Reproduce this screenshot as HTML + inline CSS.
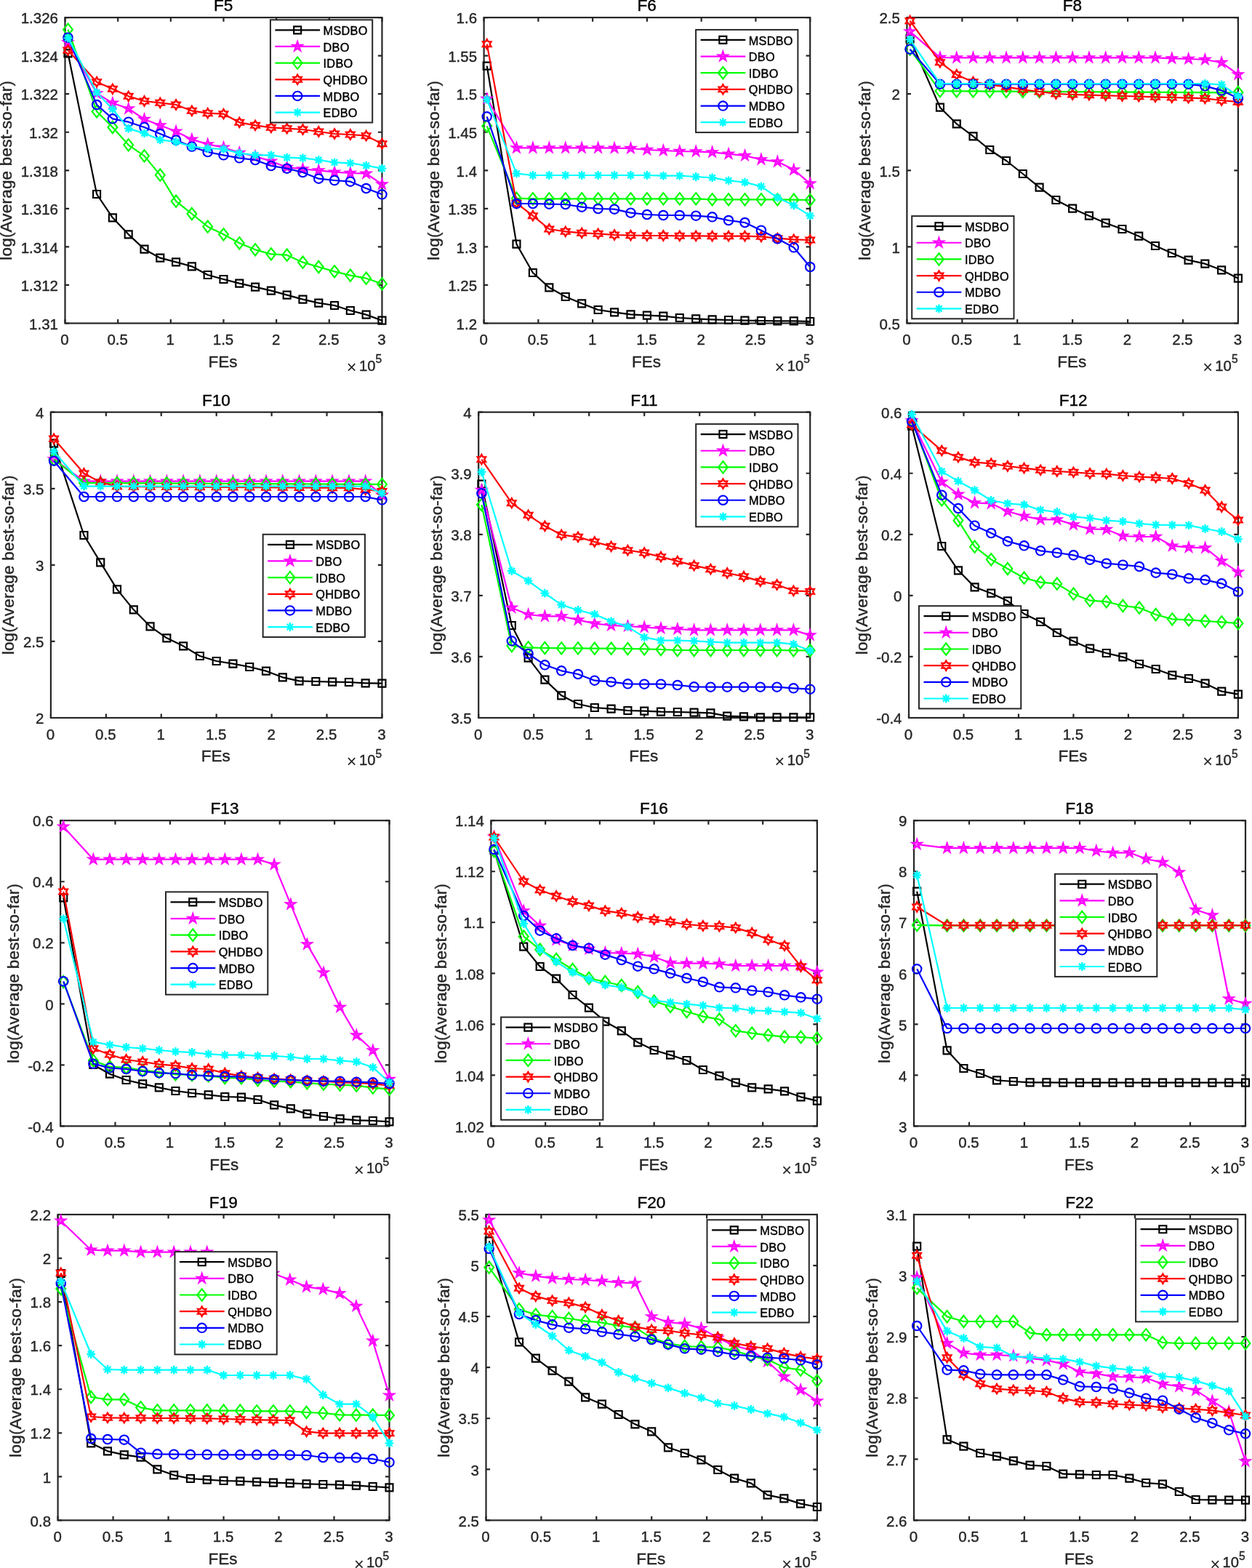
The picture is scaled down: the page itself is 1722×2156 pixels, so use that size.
<!DOCTYPE html>
<html lang="en">
<head>
<meta charset="utf-8">
<title>Convergence curves</title>
<style>
html,body{margin:0;padding:0;background:#fff;}
body{width:1722px;height:2156px;overflow:hidden;}
svg{display:block;font-family:"Liberation Sans",sans-serif;}
text{stroke-linejoin:round;}
</style>
</head>
<body>
<svg width="1722" height="2156" viewBox="0 0 1722 2156">
<rect width="1722" height="2156" fill="#fff"/>
<g>
<rect x="89.5" y="24.1" width="435.95" height="420.4" fill="#fff" stroke="#262626" stroke-width="2.2"/>
<path d="M89.5 444.5v-5.6M89.5 24.1v5.6M162.16 444.5v-5.6M162.16 24.1v5.6M234.82 444.5v-5.6M234.82 24.1v5.6M307.48 444.5v-5.6M307.48 24.1v5.6M380.13 444.5v-5.6M380.13 24.1v5.6M452.79 444.5v-5.6M452.79 24.1v5.6M525.45 444.5v-5.6M525.45 24.1v5.6M89.5 444.5h5.6M525.45 444.5h-5.6M89.5 391.95h5.6M525.45 391.95h-5.6M89.5 339.4h5.6M525.45 339.4h-5.6M89.5 286.85h5.6M525.45 286.85h-5.6M89.5 234.3h5.6M525.45 234.3h-5.6M89.5 181.75h5.6M525.45 181.75h-5.6M89.5 129.2h5.6M525.45 129.2h-5.6M89.5 76.65h5.6M525.45 76.65h-5.6M89.5 24.1h5.6M525.45 24.1h-5.6" stroke="#262626" stroke-width="2.2" fill="none"/>
<g fill="#262626" stroke="#262626" stroke-width="0.4">
<g font-size="20.5" text-anchor="middle">
<text transform="translate(89 474.3) scale(1 1.03)">0</text>
<text transform="translate(161.66 474.3) scale(1 1.03)">0.5</text>
<text transform="translate(234.32 474.3) scale(1 1.03)">1</text>
<text transform="translate(306.98 474.3) scale(1 1.03)">1.5</text>
<text transform="translate(379.63 474.3) scale(1 1.03)">2</text>
<text transform="translate(452.29 474.3) scale(1 1.03)">2.5</text>
<text transform="translate(524.95 474.3) scale(1 1.03)">3</text>
</g>
<g font-size="20.5" text-anchor="end">
<text transform="translate(80 452.7) scale(1 1.03)">1.31</text>
<text transform="translate(80 400.15) scale(1 1.03)">1.312</text>
<text transform="translate(80 347.6) scale(1 1.03)">1.314</text>
<text transform="translate(80 295.05) scale(1 1.03)">1.316</text>
<text transform="translate(80 242.5) scale(1 1.03)">1.318</text>
<text transform="translate(80 189.95) scale(1 1.03)">1.32</text>
<text transform="translate(80 137.4) scale(1 1.03)">1.322</text>
<text transform="translate(80 84.85) scale(1 1.03)">1.324</text>
<text transform="translate(80 32.3) scale(1 1.03)">1.326</text>
</g>
<text x="476.85" y="512.9" font-size="23.5" stroke="none">×</text>
<text x="525.15" y="509.5" font-size="20.3" text-anchor="end">10<tspan dy="-10.3" font-size="15.6">5</tspan></text>
<text transform="translate(306.48 504.7) scale(1 1.015)" font-size="22.5" text-anchor="middle">FEs</text>
<text transform="translate(16.21 234.3) rotate(-90) scale(1 1.015)" font-size="22.5" text-anchor="middle" letter-spacing="0.2">log(Average best-so-far)</text>
</g>
<text transform="translate(307.18 14.9) scale(1 1.0)" font-size="22.6" fill="#000" stroke="#000" stroke-width="0.4" text-anchor="middle">F5</text>
<g fill="none">
<g stroke="#000000">
<polyline points="93.5,73.33 133.09,267 154.89,299.33 176.69,322.33 198.49,342.67 220.28,354.67 242.08,360.33 263.88,366.33 285.68,378 307.48,384 329.27,389.67 351.07,394.67 372.87,399.67 394.66,405.67 416.46,411.67 438.26,416.67 460.06,420 481.86,427 503.65,432.67 525.45,440.67" stroke-width="2.2" stroke-linejoin="round"/>
<path d="M88.5 68.33h10v10h-10zM128.09 262h10v10h-10zM149.89 294.33h10v10h-10zM171.69 317.33h10v10h-10zM193.49 337.67h10v10h-10zM215.28 349.67h10v10h-10zM237.08 355.33h10v10h-10zM258.88 361.33h10v10h-10zM280.68 373h10v10h-10zM302.48 379h10v10h-10zM324.27 384.67h10v10h-10zM346.07 389.67h10v10h-10zM367.87 394.67h10v10h-10zM389.66 400.67h10v10h-10zM411.46 406.67h10v10h-10zM433.26 411.67h10v10h-10zM455.06 415h10v10h-10zM476.86 422h10v10h-10zM498.65 427.67h10v10h-10zM520.45 435.67h10v10h-10z" stroke-width="2.15"/>
</g>
<g stroke="#ff00ff">
<polyline points="93.5,58.33 133.09,128.33 154.89,141.67 176.69,149.33 198.49,164 220.28,172.33 242.08,180.67 263.88,191.67 285.68,198.33 307.48,202.67 329.27,210 351.07,215 372.87,221.67 394.66,230 416.46,232.33 438.26,234.33 460.06,236.67 481.86,238 503.65,238.67 525.45,253.33" stroke-width="2.2" stroke-linejoin="round"/>
<path d="M93.5 51.53L95.02 56.23L99.96 56.23L95.97 59.14L97.49 63.83L93.5 60.93L89.5 63.83L91.03 59.14L87.03 56.23L91.97 56.23zM133.09 121.53L134.62 126.23L139.56 126.23L135.57 129.14L137.09 133.83L133.09 130.93L129.1 133.83L130.62 129.14L126.63 126.23L131.57 126.23zM154.89 134.87L156.42 139.57L161.36 139.57L157.36 142.47L158.89 147.17L154.89 144.26L150.9 147.17L152.42 142.47L148.43 139.57L153.37 139.57zM176.69 142.53L178.22 147.23L183.16 147.23L179.16 150.14L180.69 154.83L176.69 151.93L172.69 154.83L174.22 150.14L170.22 147.23L175.16 147.23zM198.49 157.2L200.01 161.9L204.95 161.9L200.96 164.8L202.48 169.5L198.49 166.6L194.49 169.5L196.02 164.8L192.02 161.9L196.96 161.9zM220.28 165.53L221.81 170.23L226.75 170.23L222.76 173.14L224.28 177.83L220.28 174.93L216.29 177.83L217.81 173.14L213.82 170.23L218.76 170.23zM242.08 173.87L243.61 178.57L248.55 178.57L244.55 181.47L246.08 186.17L242.08 183.26L238.09 186.17L239.61 181.47L235.62 178.57L240.56 178.57zM263.88 184.87L265.41 189.57L270.35 189.57L266.35 192.47L267.88 197.17L263.88 194.26L259.88 197.17L261.41 192.47L257.41 189.57L262.35 189.57zM285.68 191.53L287.2 196.23L292.14 196.23L288.15 199.14L289.67 203.83L285.68 200.93L281.68 203.83L283.21 199.14L279.21 196.23L284.15 196.23zM307.48 195.87L309 200.57L313.94 200.57L309.95 203.47L311.47 208.17L307.48 205.26L303.48 208.17L305 203.47L301.01 200.57L305.95 200.57zM329.27 203.2L330.8 207.9L335.74 207.9L331.74 210.8L333.27 215.5L329.27 212.6L325.28 215.5L326.8 210.8L322.81 207.9L327.75 207.9zM351.07 208.2L352.6 212.9L357.54 212.9L353.54 215.8L355.07 220.5L351.07 217.6L347.07 220.5L348.6 215.8L344.6 212.9L349.54 212.9zM372.87 214.87L374.39 219.57L379.33 219.57L375.34 222.47L376.86 227.17L372.87 224.26L368.87 227.17L370.4 222.47L366.4 219.57L371.34 219.57zM394.66 223.2L396.19 227.9L401.13 227.9L397.14 230.8L398.66 235.5L394.66 232.6L390.67 235.5L392.19 230.8L388.2 227.9L393.14 227.9zM416.46 225.53L417.99 230.23L422.93 230.23L418.93 233.14L420.46 237.83L416.46 234.93L412.47 237.83L413.99 233.14L410 230.23L414.94 230.23zM438.26 227.53L439.79 232.23L444.73 232.23L440.73 235.14L442.26 239.83L438.26 236.93L434.26 239.83L435.79 235.14L431.79 232.23L436.73 232.23zM460.06 229.87L461.58 234.57L466.52 234.57L462.53 237.47L464.05 242.17L460.06 239.26L456.06 242.17L457.59 237.47L453.59 234.57L458.53 234.57zM481.86 231.2L483.38 235.9L488.32 235.9L484.33 238.8L485.85 243.5L481.86 240.6L477.86 243.5L479.38 238.8L475.39 235.9L480.33 235.9zM503.65 231.87L505.18 236.57L510.12 236.57L506.12 239.47L507.65 244.17L503.65 241.26L499.66 244.17L501.18 239.47L497.19 236.57L502.13 236.57zM525.45 246.53L526.98 251.23L531.92 251.23L527.92 254.14L529.45 258.83L525.45 255.93L521.45 258.83L522.98 254.14L518.98 251.23L523.92 251.23z" stroke-width="2.15" fill="#ff00ff" fill-opacity="0.5"/>
</g>
<g stroke="#00ff00">
<polyline points="93.5,40.67 133.09,153.33 154.89,175 176.69,199.33 198.49,214.33 220.28,240.67 242.08,276.67 263.88,294 285.68,311.67 307.48,322.33 329.27,334.33 351.07,343.33 372.87,349.33 394.66,350.67 416.46,360.67 438.26,367 460.06,373.33 481.86,378.67 503.65,382.67 525.45,390.33" stroke-width="2.2" stroke-linejoin="round"/>
<path d="M93.5 32.47L99.9 40.67L93.5 48.87L87.1 40.67zM133.09 145.13L139.5 153.33L133.09 161.53L126.69 153.33zM154.89 166.8L161.29 175L154.89 183.2L148.49 175zM176.69 191.13L183.09 199.33L176.69 207.53L170.29 199.33zM198.49 206.13L204.89 214.33L198.49 222.53L192.09 214.33zM220.28 232.47L226.69 240.67L220.28 248.87L213.88 240.67zM242.08 268.47L248.48 276.67L242.08 284.87L235.68 276.67zM263.88 285.8L270.28 294L263.88 302.2L257.48 294zM285.68 303.47L292.08 311.67L285.68 319.87L279.28 311.67zM307.48 314.13L313.88 322.33L307.48 330.53L301.08 322.33zM329.27 326.13L335.67 334.33L329.27 342.53L322.87 334.33zM351.07 335.13L357.47 343.33L351.07 351.53L344.67 343.33zM372.87 341.13L379.27 349.33L372.87 357.53L366.47 349.33zM394.66 342.47L401.06 350.67L394.66 358.87L388.26 350.67zM416.46 352.47L422.86 360.67L416.46 368.87L410.06 360.67zM438.26 358.8L444.66 367L438.26 375.2L431.86 367zM460.06 365.13L466.46 373.33L460.06 381.53L453.66 373.33zM481.86 370.47L488.25 378.67L481.86 386.87L475.46 378.67zM503.65 374.47L510.05 382.67L503.65 390.87L497.25 382.67zM525.45 382.13L531.85 390.33L525.45 398.53L519.05 390.33z" stroke-width="2.15"/>
</g>
<g stroke="#ff0000">
<polyline points="93.5,69 133.09,112.67 154.89,122.33 176.69,132.33 198.49,139 220.28,141.33 242.08,144 263.88,152.33 285.68,155.67 307.48,156.67 329.27,168.33 351.07,172.33 372.87,175.33 394.66,176.67 416.46,178 438.26,181 460.06,184 481.86,185 503.65,186.67 525.45,197.67" stroke-width="2.2" stroke-linejoin="round"/>
<path d="M93.5 62.4L95.4 65.7L99.21 65.7L97.31 69L99.21 72.3L95.4 72.3L93.5 75.6L91.59 72.3L87.78 72.3L89.69 69L87.78 65.7L91.59 65.7zM133.09 106.07L135 109.37L138.81 109.37L136.91 112.67L138.81 115.97L135 115.97L133.09 119.27L131.19 115.97L127.38 115.97L129.28 112.67L127.38 109.37L131.19 109.37zM154.89 115.73L156.8 119.03L160.61 119.03L158.7 122.33L160.61 125.63L156.8 125.63L154.89 128.93L152.99 125.63L149.18 125.63L151.08 122.33L149.18 119.03L152.99 119.03zM176.69 125.73L178.6 129.03L182.41 129.03L180.5 132.33L182.41 135.63L178.6 135.63L176.69 138.93L174.78 135.63L170.97 135.63L172.88 132.33L170.97 129.03L174.78 129.03zM198.49 132.4L200.39 135.7L204.2 135.7L202.3 139L204.2 142.3L200.39 142.3L198.49 145.6L196.58 142.3L192.77 142.3L194.68 139L192.77 135.7L196.58 135.7zM220.28 134.73L222.19 138.03L226 138.03L224.1 141.33L226 144.63L222.19 144.63L220.28 147.93L218.38 144.63L214.57 144.63L216.47 141.33L214.57 138.03L218.38 138.03zM242.08 137.4L243.99 140.7L247.8 140.7L245.89 144L247.8 147.3L243.99 147.3L242.08 150.6L240.18 147.3L236.37 147.3L238.27 144L236.37 140.7L240.18 140.7zM263.88 145.73L265.79 149.03L269.6 149.03L267.69 152.33L269.6 155.63L265.79 155.63L263.88 158.93L261.97 155.63L258.16 155.63L260.07 152.33L258.16 149.03L261.97 149.03zM285.68 149.07L287.58 152.37L291.39 152.37L289.49 155.67L291.39 158.97L287.58 158.97L285.68 162.27L283.77 158.97L279.96 158.97L281.87 155.67L279.96 152.37L283.77 152.37zM307.48 150.07L309.38 153.37L313.19 153.37L311.29 156.67L313.19 159.97L309.38 159.97L307.48 163.27L305.57 159.97L301.76 159.97L303.66 156.67L301.76 153.37L305.57 153.37zM329.27 161.73L331.18 165.03L334.99 165.03L333.08 168.33L334.99 171.63L331.18 171.63L329.27 174.93L327.37 171.63L323.56 171.63L325.46 168.33L323.56 165.03L327.37 165.03zM351.07 165.73L352.98 169.03L356.79 169.03L354.88 172.33L356.79 175.63L352.98 175.63L351.07 178.93L349.16 175.63L345.35 175.63L347.26 172.33L345.35 169.03L349.16 169.03zM372.87 168.73L374.77 172.03L378.58 172.03L376.68 175.33L378.58 178.63L374.77 178.63L372.87 181.93L370.96 178.63L367.15 178.63L369.06 175.33L367.15 172.03L370.96 172.03zM394.66 170.07L396.57 173.37L400.38 173.37L398.48 176.67L400.38 179.97L396.57 179.97L394.66 183.27L392.76 179.97L388.95 179.97L390.85 176.67L388.95 173.37L392.76 173.37zM416.46 171.4L418.37 174.7L422.18 174.7L420.27 178L422.18 181.3L418.37 181.3L416.46 184.6L414.56 181.3L410.75 181.3L412.65 178L410.75 174.7L414.56 174.7zM438.26 174.4L440.17 177.7L443.98 177.7L442.07 181L443.98 184.3L440.17 184.3L438.26 187.6L436.35 184.3L432.54 184.3L434.45 181L432.54 177.7L436.35 177.7zM460.06 177.4L461.96 180.7L465.77 180.7L463.87 184L465.77 187.3L461.96 187.3L460.06 190.6L458.15 187.3L454.34 187.3L456.25 184L454.34 180.7L458.15 180.7zM481.86 178.4L483.76 181.7L487.57 181.7L485.67 185L487.57 188.3L483.76 188.3L481.86 191.6L479.95 188.3L476.14 188.3L478.04 185L476.14 181.7L479.95 181.7zM503.65 180.07L505.56 183.37L509.37 183.37L507.46 186.67L509.37 189.97L505.56 189.97L503.65 193.27L501.75 189.97L497.94 189.97L499.84 186.67L497.94 183.37L501.75 183.37zM525.45 191.07L527.36 194.37L531.17 194.37L529.26 197.67L531.17 200.97L527.36 200.97L525.45 204.27L523.54 200.97L519.73 200.97L521.64 197.67L519.73 194.37L523.54 194.37z" stroke-width="2.35"/>
</g>
<g stroke="#0000ff">
<polyline points="93.5,51.67 133.09,144 154.89,163.33 176.69,167.67 198.49,175 220.28,184 242.08,192.67 263.88,201.67 285.68,209 307.48,213.33 329.27,217.33 351.07,220 372.87,228 394.66,231.67 416.46,237 438.26,245.67 460.06,248 481.86,249.67 503.65,259 525.45,267.33" stroke-width="2.2" stroke-linejoin="round"/>
<path d="M87.3 51.67a6.2 6.2 0 1 0 12.4 0a6.2 6.2 0 1 0 -12.4 0zM126.89 144a6.2 6.2 0 1 0 12.4 0a6.2 6.2 0 1 0 -12.4 0zM148.69 163.33a6.2 6.2 0 1 0 12.4 0a6.2 6.2 0 1 0 -12.4 0zM170.49 167.67a6.2 6.2 0 1 0 12.4 0a6.2 6.2 0 1 0 -12.4 0zM192.29 175a6.2 6.2 0 1 0 12.4 0a6.2 6.2 0 1 0 -12.4 0zM214.09 184a6.2 6.2 0 1 0 12.4 0a6.2 6.2 0 1 0 -12.4 0zM235.88 192.67a6.2 6.2 0 1 0 12.4 0a6.2 6.2 0 1 0 -12.4 0zM257.68 201.67a6.2 6.2 0 1 0 12.4 0a6.2 6.2 0 1 0 -12.4 0zM279.48 209a6.2 6.2 0 1 0 12.4 0a6.2 6.2 0 1 0 -12.4 0zM301.28 213.33a6.2 6.2 0 1 0 12.4 0a6.2 6.2 0 1 0 -12.4 0zM323.07 217.33a6.2 6.2 0 1 0 12.4 0a6.2 6.2 0 1 0 -12.4 0zM344.87 220a6.2 6.2 0 1 0 12.4 0a6.2 6.2 0 1 0 -12.4 0zM366.67 228a6.2 6.2 0 1 0 12.4 0a6.2 6.2 0 1 0 -12.4 0zM388.46 231.67a6.2 6.2 0 1 0 12.4 0a6.2 6.2 0 1 0 -12.4 0zM410.26 237a6.2 6.2 0 1 0 12.4 0a6.2 6.2 0 1 0 -12.4 0zM432.06 245.67a6.2 6.2 0 1 0 12.4 0a6.2 6.2 0 1 0 -12.4 0zM453.86 248a6.2 6.2 0 1 0 12.4 0a6.2 6.2 0 1 0 -12.4 0zM475.66 249.67a6.2 6.2 0 1 0 12.4 0a6.2 6.2 0 1 0 -12.4 0zM497.45 259a6.2 6.2 0 1 0 12.4 0a6.2 6.2 0 1 0 -12.4 0zM519.25 267.33a6.2 6.2 0 1 0 12.4 0a6.2 6.2 0 1 0 -12.4 0z" stroke-width="2.15"/>
</g>
<g stroke="#00ffff">
<polyline points="93.5,52.33 133.09,127.33 154.89,150 176.69,176.67 198.49,183.33 220.28,192.33 242.08,195 263.88,201.67 285.68,204 307.48,205 329.27,210.67 351.07,213.33 372.87,213.33 394.66,216.67 416.46,217.33 438.26,220 460.06,223.33 481.86,224.33 503.65,227.67 525.45,231.67" stroke-width="2.2" stroke-linejoin="round"/>
<path d="M93.5 46.43v11.8M87.6 52.33h11.8M89.32 48.16l8.34 8.34M89.32 56.51l8.34 -8.34M133.09 121.43v11.8M127.19 127.33h11.8M128.92 123.16l8.34 8.34M128.92 131.51l8.34 -8.34M154.89 144.1v11.8M148.99 150h11.8M150.72 145.83l8.34 8.34M150.72 154.17l8.34 -8.34M176.69 170.77v11.8M170.79 176.67h11.8M172.52 172.49l8.34 8.34M172.52 180.84l8.34 -8.34M198.49 177.43v11.8M192.59 183.33h11.8M194.32 179.16l8.34 8.34M194.32 187.51l8.34 -8.34M220.28 186.43v11.8M214.38 192.33h11.8M216.11 188.16l8.34 8.34M216.11 196.51l8.34 -8.34M242.08 189.1v11.8M236.18 195h11.8M237.91 190.83l8.34 8.34M237.91 199.17l8.34 -8.34M263.88 195.77v11.8M257.98 201.67h11.8M259.71 197.49l8.34 8.34M259.71 205.84l8.34 -8.34M285.68 198.1v11.8M279.78 204h11.8M281.51 199.83l8.34 8.34M281.51 208.17l8.34 -8.34M307.48 199.1v11.8M301.58 205h11.8M303.3 200.83l8.34 8.34M303.3 209.17l8.34 -8.34M329.27 204.77v11.8M323.37 210.67h11.8M325.1 206.49l8.34 8.34M325.1 214.84l8.34 -8.34M351.07 207.43v11.8M345.17 213.33h11.8M346.9 209.16l8.34 8.34M346.9 217.51l8.34 -8.34M372.87 207.43v11.8M366.97 213.33h11.8M368.7 209.16l8.34 8.34M368.7 217.51l8.34 -8.34M394.66 210.77v11.8M388.76 216.67h11.8M390.49 212.49l8.34 8.34M390.49 220.84l8.34 -8.34M416.46 211.43v11.8M410.56 217.33h11.8M412.29 213.16l8.34 8.34M412.29 221.51l8.34 -8.34M438.26 214.1v11.8M432.36 220h11.8M434.09 215.83l8.34 8.34M434.09 224.17l8.34 -8.34M460.06 217.43v11.8M454.16 223.33h11.8M455.89 219.16l8.34 8.34M455.89 227.51l8.34 -8.34M481.86 218.43v11.8M475.96 224.33h11.8M477.68 220.16l8.34 8.34M477.68 228.51l8.34 -8.34M503.65 221.77v11.8M497.75 227.67h11.8M499.48 223.49l8.34 8.34M499.48 231.84l8.34 -8.34M525.45 225.77v11.8M519.55 231.67h11.8M521.28 227.49l8.34 8.34M521.28 235.84l8.34 -8.34" stroke-width="2.4"/>
</g>
</g>
<rect x="371.9" y="27.3" width="140.3" height="141.2" fill="#fff" stroke="#262626" stroke-width="2.0"/>
<g font-size="16.3" fill="#000" stroke="#000" stroke-width="0.4" letter-spacing="0.25">
<g stroke="#000000" fill="none"><path d="M378.4 41.3H440.1" stroke-width="2.2"/><path d="M404.15 36.3h10v10h-10z" stroke-width="2.15"/></g>
<text x="444.6" y="47.9">MSDBO</text>
<g stroke="#ff00ff" fill="none"><path d="M378.4 63.96H440.1" stroke-width="2.2"/><path d="M409.15 57.16L410.68 61.86L415.62 61.86L411.62 64.76L413.15 69.46L409.15 66.56L405.15 69.46L406.68 64.76L402.68 61.86L407.62 61.86z" stroke-width="2.15" fill="#ff00ff" fill-opacity="0.5"/></g>
<text x="444.6" y="70.56">DBO</text>
<g stroke="#00ff00" fill="none"><path d="M378.4 86.62H440.1" stroke-width="2.2"/><path d="M409.15 78.42L415.55 86.62L409.15 94.82L402.75 86.62z" stroke-width="2.15"/></g>
<text x="444.6" y="93.22">IDBO</text>
<g stroke="#ff0000" fill="none"><path d="M378.4 109.28H440.1" stroke-width="2.2"/><path d="M409.15 102.68L411.06 105.98L414.87 105.98L412.96 109.28L414.87 112.58L411.06 112.58L409.15 115.88L407.24 112.58L403.43 112.58L405.34 109.28L403.43 105.98L407.24 105.98z" stroke-width="2.35"/></g>
<text x="444.6" y="115.88">QHDBO</text>
<g stroke="#0000ff" fill="none"><path d="M378.4 131.94H440.1" stroke-width="2.2"/><path d="M402.95 131.94a6.2 6.2 0 1 0 12.4 0a6.2 6.2 0 1 0 -12.4 0z" stroke-width="2.15"/></g>
<text x="444.6" y="138.54">MDBO</text>
<g stroke="#00ffff" fill="none"><path d="M378.4 154.6H440.1" stroke-width="2.2"/><path d="M409.15 148.7v11.8M403.25 154.6h11.8M404.98 150.43l8.34 8.34M404.98 158.77l8.34 -8.34" stroke-width="2.4"/></g>
<text x="444.6" y="161.2">EDBO</text>
</g>
</g>
<g>
<rect x="665.6" y="24.1" width="448.6" height="420.4" fill="#fff" stroke="#262626" stroke-width="2.2"/>
<path d="M665.6 444.5v-5.6M665.6 24.1v5.6M740.37 444.5v-5.6M740.37 24.1v5.6M815.13 444.5v-5.6M815.13 24.1v5.6M889.9 444.5v-5.6M889.9 24.1v5.6M964.67 444.5v-5.6M964.67 24.1v5.6M1039.43 444.5v-5.6M1039.43 24.1v5.6M1114.2 444.5v-5.6M1114.2 24.1v5.6M665.6 444.5h5.6M1114.2 444.5h-5.6M665.6 391.95h5.6M1114.2 391.95h-5.6M665.6 339.4h5.6M1114.2 339.4h-5.6M665.6 286.85h5.6M1114.2 286.85h-5.6M665.6 234.3h5.6M1114.2 234.3h-5.6M665.6 181.75h5.6M1114.2 181.75h-5.6M665.6 129.2h5.6M1114.2 129.2h-5.6M665.6 76.65h5.6M1114.2 76.65h-5.6M665.6 24.1h5.6M1114.2 24.1h-5.6" stroke="#262626" stroke-width="2.2" fill="none"/>
<g fill="#262626" stroke="#262626" stroke-width="0.4">
<g font-size="20.5" text-anchor="middle">
<text transform="translate(665.1 474.3) scale(1 1.03)">0</text>
<text transform="translate(739.87 474.3) scale(1 1.03)">0.5</text>
<text transform="translate(814.63 474.3) scale(1 1.03)">1</text>
<text transform="translate(889.4 474.3) scale(1 1.03)">1.5</text>
<text transform="translate(964.17 474.3) scale(1 1.03)">2</text>
<text transform="translate(1038.93 474.3) scale(1 1.03)">2.5</text>
<text transform="translate(1113.7 474.3) scale(1 1.03)">3</text>
</g>
<g font-size="20.5" text-anchor="end">
<text transform="translate(656.1 452.7) scale(1 1.03)">1.2</text>
<text transform="translate(656.1 400.15) scale(1 1.03)">1.25</text>
<text transform="translate(656.1 347.6) scale(1 1.03)">1.3</text>
<text transform="translate(656.1 295.05) scale(1 1.03)">1.35</text>
<text transform="translate(656.1 242.5) scale(1 1.03)">1.4</text>
<text transform="translate(656.1 189.95) scale(1 1.03)">1.45</text>
<text transform="translate(656.1 137.4) scale(1 1.03)">1.5</text>
<text transform="translate(656.1 84.85) scale(1 1.03)">1.55</text>
<text transform="translate(656.1 32.3) scale(1 1.03)">1.6</text>
</g>
<text x="1065.6" y="512.9" font-size="23.5" stroke="none">×</text>
<text x="1113.9" y="509.5" font-size="20.3" text-anchor="end">10<tspan dy="-10.3" font-size="15.6">5</tspan></text>
<text transform="translate(888.9 504.7) scale(1 1.015)" font-size="22.5" text-anchor="middle">FEs</text>
<text transform="translate(603.71 234.3) rotate(-90) scale(1 1.015)" font-size="22.5" text-anchor="middle" letter-spacing="0.2">log(Average best-so-far)</text>
</g>
<text transform="translate(889.6 14.9) scale(1 1.0)" font-size="22.6" fill="#000" stroke="#000" stroke-width="0.4" text-anchor="middle">F6</text>
<g fill="none">
<g stroke="#000000">
<polyline points="669.71,90.67 710.46,335.67 732.89,375 755.32,395.33 777.75,408 800.18,417.33 822.61,426 845.04,429.33 867.47,432.33 889.9,433.67 912.33,434.67 934.76,437 957.19,438.33 979.62,439.33 1002.05,440 1024.48,440.67 1046.91,441 1069.34,441.33 1091.77,441.33 1114.2,442" stroke-width="2.2" stroke-linejoin="round"/>
<path d="M664.71 85.67h10v10h-10zM705.46 330.67h10v10h-10zM727.89 370h10v10h-10zM750.32 390.33h10v10h-10zM772.75 403h10v10h-10zM795.18 412.33h10v10h-10zM817.61 421h10v10h-10zM840.04 424.33h10v10h-10zM862.47 427.33h10v10h-10zM884.9 428.67h10v10h-10zM907.33 429.67h10v10h-10zM929.76 432h10v10h-10zM952.19 433.33h10v10h-10zM974.62 434.33h10v10h-10zM997.05 435h10v10h-10zM1019.48 435.67h10v10h-10zM1041.91 436h10v10h-10zM1064.34 436.33h10v10h-10zM1086.77 436.33h10v10h-10zM1109.2 437h10v10h-10z" stroke-width="2.15"/>
</g>
<g stroke="#ff00ff">
<polyline points="669.71,136 710.46,203.33 732.89,203.33 755.32,203.33 777.75,203.33 800.18,203.33 822.61,203.33 845.04,203.67 867.47,204 889.9,206 912.33,207 934.76,208 957.19,208.33 979.62,209.33 1002.05,211.67 1024.48,214 1046.91,219.33 1069.34,222.33 1091.77,233.33 1114.2,252.33" stroke-width="2.2" stroke-linejoin="round"/>
<path d="M669.71 129.2L671.24 133.9L676.18 133.9L672.18 136.8L673.71 141.5L669.71 138.6L665.72 141.5L667.24 136.8L663.24 133.9L668.19 133.9zM710.46 196.53L711.99 201.23L716.93 201.23L712.93 204.14L714.46 208.83L710.46 205.93L706.46 208.83L707.99 204.14L703.99 201.23L708.93 201.23zM732.89 196.53L734.42 201.23L739.36 201.23L735.36 204.14L736.89 208.83L732.89 205.93L728.89 208.83L730.42 204.14L726.42 201.23L731.36 201.23zM755.32 196.53L756.85 201.23L761.79 201.23L757.79 204.14L759.32 208.83L755.32 205.93L751.32 208.83L752.85 204.14L748.85 201.23L753.79 201.23zM777.75 196.53L779.28 201.23L784.22 201.23L780.22 204.14L781.75 208.83L777.75 205.93L773.75 208.83L775.28 204.14L771.28 201.23L776.22 201.23zM800.18 196.53L801.71 201.23L806.65 201.23L802.65 204.14L804.18 208.83L800.18 205.93L796.18 208.83L797.71 204.14L793.71 201.23L798.65 201.23zM822.61 196.53L824.14 201.23L829.08 201.23L825.08 204.14L826.61 208.83L822.61 205.93L818.61 208.83L820.14 204.14L816.14 201.23L821.08 201.23zM845.04 196.87L846.57 201.57L851.51 201.57L847.51 204.47L849.04 209.17L845.04 206.26L841.04 209.17L842.57 204.47L838.57 201.57L843.51 201.57zM867.47 197.2L869 201.9L873.94 201.9L869.94 204.8L871.47 209.5L867.47 206.6L863.47 209.5L865 204.8L861 201.9L865.94 201.9zM889.9 199.2L891.43 203.9L896.37 203.9L892.37 206.8L893.9 211.5L889.9 208.6L885.9 211.5L887.43 206.8L883.43 203.9L888.37 203.9zM912.33 200.2L913.86 204.9L918.8 204.9L914.8 207.8L916.33 212.5L912.33 209.6L908.33 212.5L909.86 207.8L905.86 204.9L910.8 204.9zM934.76 201.2L936.29 205.9L941.23 205.9L937.23 208.8L938.76 213.5L934.76 210.6L930.76 213.5L932.29 208.8L928.29 205.9L933.23 205.9zM957.19 201.53L958.72 206.23L963.66 206.23L959.66 209.14L961.19 213.83L957.19 210.93L953.19 213.83L954.72 209.14L950.72 206.23L955.66 206.23zM979.62 202.53L981.15 207.23L986.09 207.23L982.09 210.14L983.62 214.83L979.62 211.93L975.62 214.83L977.15 210.14L973.15 207.23L978.09 207.23zM1002.05 204.87L1003.58 209.57L1008.52 209.57L1004.52 212.47L1006.05 217.17L1002.05 214.26L998.05 217.17L999.58 212.47L995.58 209.57L1000.52 209.57zM1024.48 207.2L1026.01 211.9L1030.95 211.9L1026.95 214.8L1028.48 219.5L1024.48 216.6L1020.48 219.5L1022.01 214.8L1018.01 211.9L1022.95 211.9zM1046.91 212.53L1048.44 217.23L1053.38 217.23L1049.38 220.14L1050.91 224.83L1046.91 221.93L1042.91 224.83L1044.44 220.14L1040.44 217.23L1045.38 217.23zM1069.34 215.53L1070.87 220.23L1075.81 220.23L1071.81 223.14L1073.34 227.83L1069.34 224.93L1065.34 227.83L1066.87 223.14L1062.87 220.23L1067.81 220.23zM1091.77 226.53L1093.3 231.23L1098.24 231.23L1094.24 234.14L1095.77 238.83L1091.77 235.93L1087.77 238.83L1089.3 234.14L1085.3 231.23L1090.24 231.23zM1114.2 245.53L1115.73 250.23L1120.67 250.23L1116.67 253.14L1118.2 257.83L1114.2 254.93L1110.2 257.83L1111.73 253.14L1107.73 250.23L1112.67 250.23z" stroke-width="2.15" fill="#ff00ff" fill-opacity="0.5"/>
</g>
<g stroke="#00ff00">
<polyline points="669.71,173.33 710.46,272.67 732.89,273.33 755.32,273.33 777.75,273.33 800.18,273.33 822.61,273.33 845.04,273.33 867.47,273.33 889.9,273.33 912.33,273.33 934.76,273.33 957.19,273.33 979.62,274.33 1002.05,274.33 1024.48,274.33 1046.91,274.33 1069.34,274.33 1091.77,274.67 1114.2,275" stroke-width="2.2" stroke-linejoin="round"/>
<path d="M669.71 165.13L676.11 173.33L669.71 181.53L663.31 173.33zM710.46 264.47L716.86 272.67L710.46 280.87L704.06 272.67zM732.89 265.13L739.29 273.33L732.89 281.53L726.49 273.33zM755.32 265.13L761.72 273.33L755.32 281.53L748.92 273.33zM777.75 265.13L784.15 273.33L777.75 281.53L771.35 273.33zM800.18 265.13L806.58 273.33L800.18 281.53L793.78 273.33zM822.61 265.13L829.01 273.33L822.61 281.53L816.21 273.33zM845.04 265.13L851.44 273.33L845.04 281.53L838.64 273.33zM867.47 265.13L873.87 273.33L867.47 281.53L861.07 273.33zM889.9 265.13L896.3 273.33L889.9 281.53L883.5 273.33zM912.33 265.13L918.73 273.33L912.33 281.53L905.93 273.33zM934.76 265.13L941.16 273.33L934.76 281.53L928.36 273.33zM957.19 265.13L963.59 273.33L957.19 281.53L950.79 273.33zM979.62 266.13L986.02 274.33L979.62 282.53L973.22 274.33zM1002.05 266.13L1008.45 274.33L1002.05 282.53L995.65 274.33zM1024.48 266.13L1030.88 274.33L1024.48 282.53L1018.08 274.33zM1046.91 266.13L1053.31 274.33L1046.91 282.53L1040.51 274.33zM1069.34 266.13L1075.74 274.33L1069.34 282.53L1062.94 274.33zM1091.77 266.47L1098.17 274.67L1091.77 282.87L1085.37 274.67zM1114.2 266.8L1120.6 275L1114.2 283.2L1107.8 275z" stroke-width="2.15"/>
</g>
<g stroke="#ff0000">
<polyline points="669.71,60.67 710.46,279.33 732.89,296.67 755.32,315 777.75,318.33 800.18,320.33 822.61,321.33 845.04,323 867.47,323.67 889.9,324 912.33,324 934.76,324.33 957.19,324.33 979.62,324.67 1002.05,324.67 1024.48,324.67 1046.91,325.33 1069.34,327.67 1091.77,329.33 1114.2,330" stroke-width="2.2" stroke-linejoin="round"/>
<path d="M669.71 54.07L671.62 57.37L675.43 57.37L673.52 60.67L675.43 63.97L671.62 63.97L669.71 67.27L667.81 63.97L664 63.97L665.9 60.67L664 57.37L667.81 57.37zM710.46 272.73L712.37 276.03L716.18 276.03L714.27 279.33L716.18 282.63L712.37 282.63L710.46 285.93L708.55 282.63L704.74 282.63L706.65 279.33L704.74 276.03L708.55 276.03zM732.89 290.07L734.8 293.37L738.61 293.37L736.7 296.67L738.61 299.97L734.8 299.97L732.89 303.27L730.98 299.97L727.17 299.97L729.08 296.67L727.17 293.37L730.98 293.37zM755.32 308.4L757.23 311.7L761.04 311.7L759.13 315L761.04 318.3L757.23 318.3L755.32 321.6L753.41 318.3L749.6 318.3L751.51 315L749.6 311.7L753.41 311.7zM777.75 311.73L779.66 315.03L783.47 315.03L781.56 318.33L783.47 321.63L779.66 321.63L777.75 324.93L775.84 321.63L772.03 321.63L773.94 318.33L772.03 315.03L775.84 315.03zM800.18 313.73L802.09 317.03L805.9 317.03L803.99 320.33L805.9 323.63L802.09 323.63L800.18 326.93L798.27 323.63L794.46 323.63L796.37 320.33L794.46 317.03L798.27 317.03zM822.61 314.73L824.52 318.03L828.33 318.03L826.42 321.33L828.33 324.63L824.52 324.63L822.61 327.93L820.7 324.63L816.89 324.63L818.8 321.33L816.89 318.03L820.7 318.03zM845.04 316.4L846.95 319.7L850.76 319.7L848.85 323L850.76 326.3L846.95 326.3L845.04 329.6L843.13 326.3L839.32 326.3L841.23 323L839.32 319.7L843.13 319.7zM867.47 317.07L869.38 320.37L873.19 320.37L871.28 323.67L873.19 326.97L869.38 326.97L867.47 330.27L865.56 326.97L861.75 326.97L863.66 323.67L861.75 320.37L865.56 320.37zM889.9 317.4L891.81 320.7L895.62 320.7L893.71 324L895.62 327.3L891.81 327.3L889.9 330.6L887.99 327.3L884.18 327.3L886.09 324L884.18 320.7L887.99 320.7zM912.33 317.4L914.24 320.7L918.05 320.7L916.14 324L918.05 327.3L914.24 327.3L912.33 330.6L910.42 327.3L906.61 327.3L908.52 324L906.61 320.7L910.42 320.7zM934.76 317.73L936.67 321.03L940.48 321.03L938.57 324.33L940.48 327.63L936.67 327.63L934.76 330.93L932.85 327.63L929.04 327.63L930.95 324.33L929.04 321.03L932.85 321.03zM957.19 317.73L959.1 321.03L962.91 321.03L961 324.33L962.91 327.63L959.1 327.63L957.19 330.93L955.28 327.63L951.47 327.63L953.38 324.33L951.47 321.03L955.28 321.03zM979.62 318.07L981.53 321.37L985.34 321.37L983.43 324.67L985.34 327.97L981.53 327.97L979.62 331.27L977.71 327.97L973.9 327.97L975.81 324.67L973.9 321.37L977.71 321.37zM1002.05 318.07L1003.96 321.37L1007.77 321.37L1005.86 324.67L1007.77 327.97L1003.96 327.97L1002.05 331.27L1000.14 327.97L996.33 327.97L998.24 324.67L996.33 321.37L1000.14 321.37zM1024.48 318.07L1026.39 321.37L1030.2 321.37L1028.29 324.67L1030.2 327.97L1026.39 327.97L1024.48 331.27L1022.57 327.97L1018.76 327.97L1020.67 324.67L1018.76 321.37L1022.57 321.37zM1046.91 318.73L1048.82 322.03L1052.63 322.03L1050.72 325.33L1052.63 328.63L1048.82 328.63L1046.91 331.93L1045 328.63L1041.19 328.63L1043.1 325.33L1041.19 322.03L1045 322.03zM1069.34 321.07L1071.25 324.37L1075.06 324.37L1073.15 327.67L1075.06 330.97L1071.25 330.97L1069.34 334.27L1067.43 330.97L1063.62 330.97L1065.53 327.67L1063.62 324.37L1067.43 324.37zM1091.77 322.73L1093.68 326.03L1097.49 326.03L1095.58 329.33L1097.49 332.63L1093.68 332.63L1091.77 335.93L1089.86 332.63L1086.05 332.63L1087.96 329.33L1086.05 326.03L1089.86 326.03zM1114.2 323.4L1116.11 326.7L1119.92 326.7L1118.01 330L1119.92 333.3L1116.11 333.3L1114.2 336.6L1112.29 333.3L1108.48 333.3L1110.39 330L1108.48 326.7L1112.29 326.7z" stroke-width="2.35"/>
</g>
<g stroke="#0000ff">
<polyline points="669.71,160.33 710.46,280 732.89,280 755.32,280.67 777.75,281 800.18,284.67 822.61,287 845.04,287.67 867.47,292.67 889.9,295 912.33,296 934.76,296 957.19,296.67 979.62,298.33 1002.05,303 1024.48,306 1046.91,316.67 1069.34,328.33 1091.77,340.33 1114.2,367" stroke-width="2.2" stroke-linejoin="round"/>
<path d="M663.51 160.33a6.2 6.2 0 1 0 12.4 0a6.2 6.2 0 1 0 -12.4 0zM704.26 280a6.2 6.2 0 1 0 12.4 0a6.2 6.2 0 1 0 -12.4 0zM726.69 280a6.2 6.2 0 1 0 12.4 0a6.2 6.2 0 1 0 -12.4 0zM749.12 280.67a6.2 6.2 0 1 0 12.4 0a6.2 6.2 0 1 0 -12.4 0zM771.55 281a6.2 6.2 0 1 0 12.4 0a6.2 6.2 0 1 0 -12.4 0zM793.98 284.67a6.2 6.2 0 1 0 12.4 0a6.2 6.2 0 1 0 -12.4 0zM816.41 287a6.2 6.2 0 1 0 12.4 0a6.2 6.2 0 1 0 -12.4 0zM838.84 287.67a6.2 6.2 0 1 0 12.4 0a6.2 6.2 0 1 0 -12.4 0zM861.27 292.67a6.2 6.2 0 1 0 12.4 0a6.2 6.2 0 1 0 -12.4 0zM883.7 295a6.2 6.2 0 1 0 12.4 0a6.2 6.2 0 1 0 -12.4 0zM906.13 296a6.2 6.2 0 1 0 12.4 0a6.2 6.2 0 1 0 -12.4 0zM928.56 296a6.2 6.2 0 1 0 12.4 0a6.2 6.2 0 1 0 -12.4 0zM950.99 296.67a6.2 6.2 0 1 0 12.4 0a6.2 6.2 0 1 0 -12.4 0zM973.42 298.33a6.2 6.2 0 1 0 12.4 0a6.2 6.2 0 1 0 -12.4 0zM995.85 303a6.2 6.2 0 1 0 12.4 0a6.2 6.2 0 1 0 -12.4 0zM1018.28 306a6.2 6.2 0 1 0 12.4 0a6.2 6.2 0 1 0 -12.4 0zM1040.71 316.67a6.2 6.2 0 1 0 12.4 0a6.2 6.2 0 1 0 -12.4 0zM1063.14 328.33a6.2 6.2 0 1 0 12.4 0a6.2 6.2 0 1 0 -12.4 0zM1085.57 340.33a6.2 6.2 0 1 0 12.4 0a6.2 6.2 0 1 0 -12.4 0zM1108 367a6.2 6.2 0 1 0 12.4 0a6.2 6.2 0 1 0 -12.4 0z" stroke-width="2.15"/>
</g>
<g stroke="#00ffff">
<polyline points="669.71,136.67 710.46,238.67 732.89,241 755.32,241 777.75,241 800.18,241 822.61,241 845.04,241 867.47,241 889.9,241 912.33,241.67 934.76,241.67 957.19,243 979.62,244.33 1002.05,248.33 1024.48,250.67 1046.91,256.33 1069.34,271.67 1091.77,282.33 1114.2,296.67" stroke-width="2.2" stroke-linejoin="round"/>
<path d="M669.71 130.77v11.8M663.81 136.67h11.8M665.54 132.49l8.34 8.34M665.54 140.84l8.34 -8.34M710.46 232.77v11.8M704.56 238.67h11.8M706.29 234.49l8.34 8.34M706.29 242.84l8.34 -8.34M732.89 235.1v11.8M726.99 241h11.8M728.72 236.83l8.34 8.34M728.72 245.17l8.34 -8.34M755.32 235.1v11.8M749.42 241h11.8M751.15 236.83l8.34 8.34M751.15 245.17l8.34 -8.34M777.75 235.1v11.8M771.85 241h11.8M773.58 236.83l8.34 8.34M773.58 245.17l8.34 -8.34M800.18 235.1v11.8M794.28 241h11.8M796.01 236.83l8.34 8.34M796.01 245.17l8.34 -8.34M822.61 235.1v11.8M816.71 241h11.8M818.44 236.83l8.34 8.34M818.44 245.17l8.34 -8.34M845.04 235.1v11.8M839.14 241h11.8M840.87 236.83l8.34 8.34M840.87 245.17l8.34 -8.34M867.47 235.1v11.8M861.57 241h11.8M863.3 236.83l8.34 8.34M863.3 245.17l8.34 -8.34M889.9 235.1v11.8M884 241h11.8M885.73 236.83l8.34 8.34M885.73 245.17l8.34 -8.34M912.33 235.77v11.8M906.43 241.67h11.8M908.16 237.49l8.34 8.34M908.16 245.84l8.34 -8.34M934.76 235.77v11.8M928.86 241.67h11.8M930.59 237.49l8.34 8.34M930.59 245.84l8.34 -8.34M957.19 237.1v11.8M951.29 243h11.8M953.02 238.83l8.34 8.34M953.02 247.17l8.34 -8.34M979.62 238.43v11.8M973.72 244.33h11.8M975.45 240.16l8.34 8.34M975.45 248.51l8.34 -8.34M1002.05 242.43v11.8M996.15 248.33h11.8M997.88 244.16l8.34 8.34M997.88 252.51l8.34 -8.34M1024.48 244.77v11.8M1018.58 250.67h11.8M1020.31 246.49l8.34 8.34M1020.31 254.84l8.34 -8.34M1046.91 250.43v11.8M1041.01 256.33h11.8M1042.74 252.16l8.34 8.34M1042.74 260.51l8.34 -8.34M1069.34 265.77v11.8M1063.44 271.67h11.8M1065.17 267.49l8.34 8.34M1065.17 275.84l8.34 -8.34M1091.77 276.43v11.8M1085.87 282.33h11.8M1087.6 278.16l8.34 8.34M1087.6 286.51l8.34 -8.34M1114.2 290.77v11.8M1108.3 296.67h11.8M1110.03 292.49l8.34 8.34M1110.03 300.84l8.34 -8.34" stroke-width="2.4"/>
</g>
</g>
<rect x="957.1" y="40.9" width="140.3" height="141.2" fill="#fff" stroke="#262626" stroke-width="2.0"/>
<g font-size="16.3" fill="#000" stroke="#000" stroke-width="0.4" letter-spacing="0.25">
<g stroke="#000000" fill="none"><path d="M963.6 54.9H1025.3" stroke-width="2.2"/><path d="M989.35 49.9h10v10h-10z" stroke-width="2.15"/></g>
<text x="1029.8" y="61.5">MSDBO</text>
<g stroke="#ff00ff" fill="none"><path d="M963.6 77.56H1025.3" stroke-width="2.2"/><path d="M994.35 70.76L995.88 75.46L1000.82 75.46L996.82 78.36L998.35 83.06L994.35 80.16L990.35 83.06L991.88 78.36L987.88 75.46L992.82 75.46z" stroke-width="2.15" fill="#ff00ff" fill-opacity="0.5"/></g>
<text x="1029.8" y="84.16">DBO</text>
<g stroke="#00ff00" fill="none"><path d="M963.6 100.22H1025.3" stroke-width="2.2"/><path d="M994.35 92.02L1000.75 100.22L994.35 108.42L987.95 100.22z" stroke-width="2.15"/></g>
<text x="1029.8" y="106.82">IDBO</text>
<g stroke="#ff0000" fill="none"><path d="M963.6 122.88H1025.3" stroke-width="2.2"/><path d="M994.35 116.28L996.26 119.58L1000.07 119.58L998.16 122.88L1000.07 126.18L996.26 126.18L994.35 129.48L992.44 126.18L988.63 126.18L990.54 122.88L988.63 119.58L992.44 119.58z" stroke-width="2.35"/></g>
<text x="1029.8" y="129.48">QHDBO</text>
<g stroke="#0000ff" fill="none"><path d="M963.6 145.54H1025.3" stroke-width="2.2"/><path d="M988.15 145.54a6.2 6.2 0 1 0 12.4 0a6.2 6.2 0 1 0 -12.4 0z" stroke-width="2.15"/></g>
<text x="1029.8" y="152.14">MDBO</text>
<g stroke="#00ffff" fill="none"><path d="M963.6 168.2H1025.3" stroke-width="2.2"/><path d="M994.35 162.3v11.8M988.45 168.2h11.8M990.18 164.03l8.34 8.34M990.18 172.37l8.34 -8.34" stroke-width="2.4"/></g>
<text x="1029.8" y="174.8">EDBO</text>
</g>
</g>
<g>
<rect x="1247.4" y="24.1" width="455.5" height="420.4" fill="#fff" stroke="#262626" stroke-width="2.2"/>
<path d="M1247.4 444.5v-5.6M1247.4 24.1v5.6M1323.32 444.5v-5.6M1323.32 24.1v5.6M1399.23 444.5v-5.6M1399.23 24.1v5.6M1475.15 444.5v-5.6M1475.15 24.1v5.6M1551.07 444.5v-5.6M1551.07 24.1v5.6M1626.98 444.5v-5.6M1626.98 24.1v5.6M1702.9 444.5v-5.6M1702.9 24.1v5.6M1247.4 444.5h5.6M1702.9 444.5h-5.6M1247.4 339.4h5.6M1702.9 339.4h-5.6M1247.4 234.3h5.6M1702.9 234.3h-5.6M1247.4 129.2h5.6M1702.9 129.2h-5.6M1247.4 24.1h5.6M1702.9 24.1h-5.6" stroke="#262626" stroke-width="2.2" fill="none"/>
<g fill="#262626" stroke="#262626" stroke-width="0.4">
<g font-size="20.5" text-anchor="middle">
<text transform="translate(1246.9 474.3) scale(1 1.03)">0</text>
<text transform="translate(1322.82 474.3) scale(1 1.03)">0.5</text>
<text transform="translate(1398.73 474.3) scale(1 1.03)">1</text>
<text transform="translate(1474.65 474.3) scale(1 1.03)">1.5</text>
<text transform="translate(1550.57 474.3) scale(1 1.03)">2</text>
<text transform="translate(1626.48 474.3) scale(1 1.03)">2.5</text>
<text transform="translate(1702.4 474.3) scale(1 1.03)">3</text>
</g>
<g font-size="20.5" text-anchor="end">
<text transform="translate(1237.9 452.7) scale(1 1.03)">0.5</text>
<text transform="translate(1237.9 347.6) scale(1 1.03)">1</text>
<text transform="translate(1237.9 242.5) scale(1 1.03)">1.5</text>
<text transform="translate(1237.9 137.4) scale(1 1.03)">2</text>
<text transform="translate(1237.9 32.3) scale(1 1.03)">2.5</text>
</g>
<text x="1654.3" y="512.9" font-size="23.5" stroke="none">×</text>
<text x="1702.6" y="509.5" font-size="20.3" text-anchor="end">10<tspan dy="-10.3" font-size="15.6">5</tspan></text>
<text transform="translate(1474.15 504.7) scale(1 1.015)" font-size="22.5" text-anchor="middle">FEs</text>
<text transform="translate(1196.91 234.3) rotate(-90) scale(1 1.015)" font-size="22.5" text-anchor="middle" letter-spacing="0.2">log(Average best-so-far)</text>
</g>
<text transform="translate(1474.85 14.9) scale(1 1.0)" font-size="22.6" fill="#000" stroke="#000" stroke-width="0.4" text-anchor="middle">F8</text>
<g fill="none">
<g stroke="#000000">
<polyline points="1251.58,53.33 1292.95,147.67 1315.73,170.33 1338.5,187.33 1361.28,206 1384.05,221 1406.83,239 1429.6,257.67 1452.38,275 1475.15,286.67 1497.93,296.67 1520.7,306.67 1543.48,315 1566.25,324.67 1589.03,338 1611.8,348 1634.58,357.67 1657.35,362.67 1680.12,371.33 1702.9,382.67" stroke-width="2.2" stroke-linejoin="round"/>
<path d="M1246.58 48.33h10v10h-10zM1287.95 142.67h10v10h-10zM1310.73 165.33h10v10h-10zM1333.5 182.33h10v10h-10zM1356.28 201h10v10h-10zM1379.05 216h10v10h-10zM1401.83 234h10v10h-10zM1424.6 252.67h10v10h-10zM1447.38 270h10v10h-10zM1470.15 281.67h10v10h-10zM1492.93 291.67h10v10h-10zM1515.7 301.67h10v10h-10zM1538.48 310h10v10h-10zM1561.25 319.67h10v10h-10zM1584.03 333h10v10h-10zM1606.8 343h10v10h-10zM1629.58 352.67h10v10h-10zM1652.35 357.67h10v10h-10zM1675.12 366.33h10v10h-10zM1697.9 377.67h10v10h-10z" stroke-width="2.15"/>
</g>
<g stroke="#ff00ff">
<polyline points="1251.58,43.33 1292.95,79 1315.73,79.33 1338.5,79.33 1361.28,79.33 1384.05,79.33 1406.83,79.33 1429.6,79.33 1452.38,79.33 1475.15,79.33 1497.93,79.33 1520.7,79.33 1543.48,79.33 1566.25,79.33 1589.03,79.33 1611.8,80.33 1634.58,81 1657.35,82 1680.12,86 1702.9,102.33" stroke-width="2.2" stroke-linejoin="round"/>
<path d="M1251.58 36.53L1253.1 41.23L1258.04 41.23L1254.05 44.14L1255.57 48.83L1251.58 45.93L1247.58 48.83L1249.1 44.14L1245.11 41.23L1250.05 41.23zM1292.95 72.2L1294.48 76.9L1299.42 76.9L1295.42 79.8L1296.95 84.5L1292.95 81.6L1288.95 84.5L1290.48 79.8L1286.48 76.9L1291.42 76.9zM1315.73 72.53L1317.25 77.23L1322.19 77.23L1318.2 80.14L1319.72 84.83L1315.73 81.93L1311.73 84.83L1313.25 80.14L1309.26 77.23L1314.2 77.23zM1338.5 72.53L1340.03 77.23L1344.97 77.23L1340.97 80.14L1342.5 84.83L1338.5 81.93L1334.5 84.83L1336.03 80.14L1332.03 77.23L1336.97 77.23zM1361.28 72.53L1362.8 77.23L1367.74 77.23L1363.75 80.14L1365.27 84.83L1361.28 81.93L1357.28 84.83L1358.8 80.14L1354.81 77.23L1359.75 77.23zM1384.05 72.53L1385.58 77.23L1390.52 77.23L1386.52 80.14L1388.05 84.83L1384.05 81.93L1380.05 84.83L1381.58 80.14L1377.58 77.23L1382.52 77.23zM1406.83 72.53L1408.35 77.23L1413.29 77.23L1409.3 80.14L1410.82 84.83L1406.83 81.93L1402.83 84.83L1404.35 80.14L1400.36 77.23L1405.3 77.23zM1429.6 72.53L1431.13 77.23L1436.07 77.23L1432.07 80.14L1433.6 84.83L1429.6 81.93L1425.6 84.83L1427.13 80.14L1423.13 77.23L1428.07 77.23zM1452.38 72.53L1453.9 77.23L1458.84 77.23L1454.85 80.14L1456.37 84.83L1452.38 81.93L1448.38 84.83L1449.9 80.14L1445.91 77.23L1450.85 77.23zM1475.15 72.53L1476.68 77.23L1481.62 77.23L1477.62 80.14L1479.15 84.83L1475.15 81.93L1471.15 84.83L1472.68 80.14L1468.68 77.23L1473.62 77.23zM1497.93 72.53L1499.45 77.23L1504.39 77.23L1500.4 80.14L1501.92 84.83L1497.93 81.93L1493.93 84.83L1495.45 80.14L1491.46 77.23L1496.4 77.23zM1520.7 72.53L1522.23 77.23L1527.17 77.23L1523.17 80.14L1524.7 84.83L1520.7 81.93L1516.7 84.83L1518.23 80.14L1514.23 77.23L1519.17 77.23zM1543.48 72.53L1545 77.23L1549.94 77.23L1545.95 80.14L1547.47 84.83L1543.48 81.93L1539.48 84.83L1541 80.14L1537.01 77.23L1541.95 77.23zM1566.25 72.53L1567.78 77.23L1572.72 77.23L1568.72 80.14L1570.25 84.83L1566.25 81.93L1562.25 84.83L1563.78 80.14L1559.78 77.23L1564.72 77.23zM1589.03 72.53L1590.55 77.23L1595.49 77.23L1591.5 80.14L1593.02 84.83L1589.03 81.93L1585.03 84.83L1586.55 80.14L1582.56 77.23L1587.5 77.23zM1611.8 73.53L1613.33 78.23L1618.27 78.23L1614.27 81.14L1615.8 85.83L1611.8 82.93L1607.8 85.83L1609.33 81.14L1605.33 78.23L1610.27 78.23zM1634.58 74.2L1636.1 78.9L1641.04 78.9L1637.05 81.8L1638.57 86.5L1634.58 83.6L1630.58 86.5L1632.1 81.8L1628.11 78.9L1633.05 78.9zM1657.35 75.2L1658.88 79.9L1663.82 79.9L1659.82 82.8L1661.35 87.5L1657.35 84.6L1653.35 87.5L1654.88 82.8L1650.88 79.9L1655.82 79.9zM1680.12 79.2L1681.65 83.9L1686.59 83.9L1682.6 86.8L1684.12 91.5L1680.12 88.6L1676.13 91.5L1677.65 86.8L1673.66 83.9L1678.6 83.9zM1702.9 95.53L1704.43 100.23L1709.37 100.23L1705.37 103.14L1706.9 107.83L1702.9 104.93L1698.9 107.83L1700.43 103.14L1696.43 100.23L1701.37 100.23z" stroke-width="2.15" fill="#ff00ff" fill-opacity="0.5"/>
</g>
<g stroke="#00ff00">
<polyline points="1251.58,67.67 1292.95,125.17 1315.73,125.29 1338.5,125.42 1361.28,125.55 1384.05,125.68 1406.83,125.8 1429.6,125.93 1452.38,126.06 1475.15,126.19 1497.93,126.31 1520.7,126.44 1543.48,126.57 1566.25,126.7 1589.03,126.82 1611.8,126.95 1634.58,127.08 1657.35,127.21 1680.12,127.33 1702.9,127" stroke-width="2.2" stroke-linejoin="round"/>
<path d="M1251.58 59.47L1257.98 67.67L1251.58 75.87L1245.18 67.67zM1292.95 116.97L1299.35 125.17L1292.95 133.37L1286.55 125.17zM1315.73 117.09L1322.13 125.29L1315.73 133.49L1309.33 125.29zM1338.5 117.22L1344.9 125.42L1338.5 133.62L1332.1 125.42zM1361.28 117.35L1367.68 125.55L1361.28 133.75L1354.88 125.55zM1384.05 117.48L1390.45 125.68L1384.05 133.88L1377.65 125.68zM1406.83 117.6L1413.23 125.8L1406.83 134L1400.42 125.8zM1429.6 117.73L1436 125.93L1429.6 134.13L1423.2 125.93zM1452.38 117.86L1458.78 126.06L1452.38 134.26L1445.97 126.06zM1475.15 117.99L1481.55 126.19L1475.15 134.39L1468.75 126.19zM1497.93 118.11L1504.33 126.31L1497.93 134.51L1491.53 126.31zM1520.7 118.24L1527.1 126.44L1520.7 134.64L1514.3 126.44zM1543.48 118.37L1549.88 126.57L1543.48 134.77L1537.08 126.57zM1566.25 118.5L1572.65 126.7L1566.25 134.9L1559.85 126.7zM1589.03 118.62L1595.43 126.82L1589.03 135.02L1582.62 126.82zM1611.8 118.75L1618.2 126.95L1611.8 135.15L1605.4 126.95zM1634.58 118.88L1640.98 127.08L1634.58 135.28L1628.17 127.08zM1657.35 119.01L1663.75 127.21L1657.35 135.41L1650.95 127.21zM1680.12 119.13L1686.53 127.33L1680.12 135.53L1673.72 127.33zM1702.9 118.8L1709.3 127L1702.9 135.2L1696.5 127z" stroke-width="2.15"/>
</g>
<g stroke="#ff0000">
<polyline points="1251.58,28.67 1292.95,85.67 1315.73,102.67 1338.5,112.67 1361.28,116.67 1384.05,119.33 1406.83,123.33 1429.6,126 1452.38,129 1475.15,130 1497.93,130.67 1520.7,131.33 1543.48,132 1566.25,132.67 1589.03,133.33 1611.8,134 1634.58,134.67 1657.35,135.33 1680.12,138 1702.9,140.17" stroke-width="2.2" stroke-linejoin="round"/>
<path d="M1251.58 22.07L1253.48 25.37L1257.29 25.37L1255.39 28.67L1257.29 31.97L1253.48 31.97L1251.58 35.27L1249.67 31.97L1245.86 31.97L1247.76 28.67L1245.86 25.37L1249.67 25.37zM1292.95 79.07L1294.86 82.37L1298.67 82.37L1296.76 85.67L1298.67 88.97L1294.86 88.97L1292.95 92.27L1291.04 88.97L1287.23 88.97L1289.14 85.67L1287.23 82.37L1291.04 82.37zM1315.73 96.07L1317.63 99.37L1321.44 99.37L1319.54 102.67L1321.44 105.97L1317.63 105.97L1315.73 109.27L1313.82 105.97L1310.01 105.97L1311.91 102.67L1310.01 99.37L1313.82 99.37zM1338.5 106.07L1340.41 109.37L1344.22 109.37L1342.31 112.67L1344.22 115.97L1340.41 115.97L1338.5 119.27L1336.59 115.97L1332.78 115.97L1334.69 112.67L1332.78 109.37L1336.59 109.37zM1361.28 110.07L1363.18 113.37L1366.99 113.37L1365.09 116.67L1366.99 119.97L1363.18 119.97L1361.28 123.27L1359.37 119.97L1355.56 119.97L1357.46 116.67L1355.56 113.37L1359.37 113.37zM1384.05 112.73L1385.96 116.03L1389.77 116.03L1387.86 119.33L1389.77 122.63L1385.96 122.63L1384.05 125.93L1382.14 122.63L1378.33 122.63L1380.24 119.33L1378.33 116.03L1382.14 116.03zM1406.83 116.73L1408.73 120.03L1412.54 120.03L1410.64 123.33L1412.54 126.63L1408.73 126.63L1406.83 129.93L1404.92 126.63L1401.11 126.63L1403.01 123.33L1401.11 120.03L1404.92 120.03zM1429.6 119.4L1431.51 122.7L1435.32 122.7L1433.41 126L1435.32 129.3L1431.51 129.3L1429.6 132.6L1427.69 129.3L1423.88 129.3L1425.79 126L1423.88 122.7L1427.69 122.7zM1452.38 122.4L1454.28 125.7L1458.09 125.7L1456.19 129L1458.09 132.3L1454.28 132.3L1452.38 135.6L1450.47 132.3L1446.66 132.3L1448.56 129L1446.66 125.7L1450.47 125.7zM1475.15 123.4L1477.06 126.7L1480.87 126.7L1478.96 130L1480.87 133.3L1477.06 133.3L1475.15 136.6L1473.24 133.3L1469.43 133.3L1471.34 130L1469.43 126.7L1473.24 126.7zM1497.93 124.07L1499.83 127.37L1503.64 127.37L1501.74 130.67L1503.64 133.97L1499.83 133.97L1497.93 137.27L1496.02 133.97L1492.21 133.97L1494.11 130.67L1492.21 127.37L1496.02 127.37zM1520.7 124.73L1522.61 128.03L1526.42 128.03L1524.51 131.33L1526.42 134.63L1522.61 134.63L1520.7 137.93L1518.79 134.63L1514.98 134.63L1516.89 131.33L1514.98 128.03L1518.79 128.03zM1543.48 125.4L1545.38 128.7L1549.19 128.7L1547.29 132L1549.19 135.3L1545.38 135.3L1543.48 138.6L1541.57 135.3L1537.76 135.3L1539.66 132L1537.76 128.7L1541.57 128.7zM1566.25 126.07L1568.16 129.37L1571.97 129.37L1570.06 132.67L1571.97 135.97L1568.16 135.97L1566.25 139.27L1564.34 135.97L1560.53 135.97L1562.44 132.67L1560.53 129.37L1564.34 129.37zM1589.03 126.73L1590.93 130.03L1594.74 130.03L1592.84 133.33L1594.74 136.63L1590.93 136.63L1589.03 139.93L1587.12 136.63L1583.31 136.63L1585.21 133.33L1583.31 130.03L1587.12 130.03zM1611.8 127.4L1613.71 130.7L1617.52 130.7L1615.61 134L1617.52 137.3L1613.71 137.3L1611.8 140.6L1609.89 137.3L1606.08 137.3L1607.99 134L1606.08 130.7L1609.89 130.7zM1634.58 128.07L1636.48 131.37L1640.29 131.37L1638.39 134.67L1640.29 137.97L1636.48 137.97L1634.58 141.27L1632.67 137.97L1628.86 137.97L1630.76 134.67L1628.86 131.37L1632.67 131.37zM1657.35 128.73L1659.26 132.03L1663.07 132.03L1661.16 135.33L1663.07 138.63L1659.26 138.63L1657.35 141.93L1655.44 138.63L1651.63 138.63L1653.54 135.33L1651.63 132.03L1655.44 132.03zM1680.12 131.4L1682.03 134.7L1685.84 134.7L1683.94 138L1685.84 141.3L1682.03 141.3L1680.12 144.6L1678.22 141.3L1674.41 141.3L1676.31 138L1674.41 134.7L1678.22 134.7zM1702.9 133.57L1704.81 136.87L1708.62 136.87L1706.71 140.17L1708.62 143.47L1704.81 143.47L1702.9 146.77L1700.99 143.47L1697.18 143.47L1699.09 140.17L1697.18 136.87L1700.99 136.87z" stroke-width="2.35"/>
</g>
<g stroke="#0000ff">
<polyline points="1251.58,67.67 1292.95,115.67 1315.73,115.67 1338.5,115.67 1361.28,115.67 1384.05,115.67 1406.83,115.67 1429.6,115.67 1452.38,115.67 1475.15,115.67 1497.93,115.67 1520.7,115.67 1543.48,115.67 1566.25,115.67 1589.03,115.67 1611.8,115.67 1634.58,115.67 1657.35,118.33 1680.12,124.33 1702.9,135" stroke-width="2.2" stroke-linejoin="round"/>
<path d="M1245.38 67.67a6.2 6.2 0 1 0 12.4 0a6.2 6.2 0 1 0 -12.4 0zM1286.75 115.67a6.2 6.2 0 1 0 12.4 0a6.2 6.2 0 1 0 -12.4 0zM1309.53 115.67a6.2 6.2 0 1 0 12.4 0a6.2 6.2 0 1 0 -12.4 0zM1332.3 115.67a6.2 6.2 0 1 0 12.4 0a6.2 6.2 0 1 0 -12.4 0zM1355.08 115.67a6.2 6.2 0 1 0 12.4 0a6.2 6.2 0 1 0 -12.4 0zM1377.85 115.67a6.2 6.2 0 1 0 12.4 0a6.2 6.2 0 1 0 -12.4 0zM1400.62 115.67a6.2 6.2 0 1 0 12.4 0a6.2 6.2 0 1 0 -12.4 0zM1423.4 115.67a6.2 6.2 0 1 0 12.4 0a6.2 6.2 0 1 0 -12.4 0zM1446.17 115.67a6.2 6.2 0 1 0 12.4 0a6.2 6.2 0 1 0 -12.4 0zM1468.95 115.67a6.2 6.2 0 1 0 12.4 0a6.2 6.2 0 1 0 -12.4 0zM1491.73 115.67a6.2 6.2 0 1 0 12.4 0a6.2 6.2 0 1 0 -12.4 0zM1514.5 115.67a6.2 6.2 0 1 0 12.4 0a6.2 6.2 0 1 0 -12.4 0zM1537.28 115.67a6.2 6.2 0 1 0 12.4 0a6.2 6.2 0 1 0 -12.4 0zM1560.05 115.67a6.2 6.2 0 1 0 12.4 0a6.2 6.2 0 1 0 -12.4 0zM1582.83 115.67a6.2 6.2 0 1 0 12.4 0a6.2 6.2 0 1 0 -12.4 0zM1605.6 115.67a6.2 6.2 0 1 0 12.4 0a6.2 6.2 0 1 0 -12.4 0zM1628.38 115.67a6.2 6.2 0 1 0 12.4 0a6.2 6.2 0 1 0 -12.4 0zM1651.15 118.33a6.2 6.2 0 1 0 12.4 0a6.2 6.2 0 1 0 -12.4 0zM1673.92 124.33a6.2 6.2 0 1 0 12.4 0a6.2 6.2 0 1 0 -12.4 0zM1696.7 135a6.2 6.2 0 1 0 12.4 0a6.2 6.2 0 1 0 -12.4 0z" stroke-width="2.15"/>
</g>
<g stroke="#00ffff">
<polyline points="1251.58,54.33 1292.95,115 1315.73,115 1338.5,115 1361.28,115 1384.05,115 1406.83,115 1429.6,115 1452.38,115 1475.15,115 1497.93,115 1520.7,115 1543.48,115 1566.25,115 1589.03,115 1611.8,115 1634.58,115 1657.35,115 1680.12,116.33 1702.9,132" stroke-width="2.2" stroke-linejoin="round"/>
<path d="M1251.58 48.43v11.8M1245.68 54.33h11.8M1247.4 50.16l8.34 8.34M1247.4 58.51l8.34 -8.34M1292.95 109.1v11.8M1287.05 115h11.8M1288.78 110.83l8.34 8.34M1288.78 119.17l8.34 -8.34M1315.73 109.1v11.8M1309.83 115h11.8M1311.55 110.83l8.34 8.34M1311.55 119.17l8.34 -8.34M1338.5 109.1v11.8M1332.6 115h11.8M1334.33 110.83l8.34 8.34M1334.33 119.17l8.34 -8.34M1361.28 109.1v11.8M1355.38 115h11.8M1357.1 110.83l8.34 8.34M1357.1 119.17l8.34 -8.34M1384.05 109.1v11.8M1378.15 115h11.8M1379.88 110.83l8.34 8.34M1379.88 119.17l8.34 -8.34M1406.83 109.1v11.8M1400.92 115h11.8M1402.65 110.83l8.34 8.34M1402.65 119.17l8.34 -8.34M1429.6 109.1v11.8M1423.7 115h11.8M1425.43 110.83l8.34 8.34M1425.43 119.17l8.34 -8.34M1452.38 109.1v11.8M1446.47 115h11.8M1448.2 110.83l8.34 8.34M1448.2 119.17l8.34 -8.34M1475.15 109.1v11.8M1469.25 115h11.8M1470.98 110.83l8.34 8.34M1470.98 119.17l8.34 -8.34M1497.93 109.1v11.8M1492.03 115h11.8M1493.75 110.83l8.34 8.34M1493.75 119.17l8.34 -8.34M1520.7 109.1v11.8M1514.8 115h11.8M1516.53 110.83l8.34 8.34M1516.53 119.17l8.34 -8.34M1543.48 109.1v11.8M1537.58 115h11.8M1539.3 110.83l8.34 8.34M1539.3 119.17l8.34 -8.34M1566.25 109.1v11.8M1560.35 115h11.8M1562.08 110.83l8.34 8.34M1562.08 119.17l8.34 -8.34M1589.03 109.1v11.8M1583.12 115h11.8M1584.85 110.83l8.34 8.34M1584.85 119.17l8.34 -8.34M1611.8 109.1v11.8M1605.9 115h11.8M1607.63 110.83l8.34 8.34M1607.63 119.17l8.34 -8.34M1634.58 109.1v11.8M1628.67 115h11.8M1630.4 110.83l8.34 8.34M1630.4 119.17l8.34 -8.34M1657.35 109.1v11.8M1651.45 115h11.8M1653.18 110.83l8.34 8.34M1653.18 119.17l8.34 -8.34M1680.12 110.43v11.8M1674.22 116.33h11.8M1675.95 112.16l8.34 8.34M1675.95 120.51l8.34 -8.34M1702.9 126.1v11.8M1697 132h11.8M1698.73 127.83l8.34 8.34M1698.73 136.17l8.34 -8.34" stroke-width="2.4"/>
</g>
</g>
<rect x="1254.2" y="297.1" width="140.3" height="141.2" fill="#fff" stroke="#262626" stroke-width="2.0"/>
<g font-size="16.3" fill="#000" stroke="#000" stroke-width="0.4" letter-spacing="0.25">
<g stroke="#000000" fill="none"><path d="M1260.7 311.1H1322.4" stroke-width="2.2"/><path d="M1286.45 306.1h10v10h-10z" stroke-width="2.15"/></g>
<text x="1326.9" y="317.7">MSDBO</text>
<g stroke="#ff00ff" fill="none"><path d="M1260.7 333.76H1322.4" stroke-width="2.2"/><path d="M1291.45 326.96L1292.98 331.66L1297.92 331.66L1293.92 334.56L1295.45 339.26L1291.45 336.36L1287.45 339.26L1288.98 334.56L1284.98 331.66L1289.92 331.66z" stroke-width="2.15" fill="#ff00ff" fill-opacity="0.5"/></g>
<text x="1326.9" y="340.36">DBO</text>
<g stroke="#00ff00" fill="none"><path d="M1260.7 356.42H1322.4" stroke-width="2.2"/><path d="M1291.45 348.22L1297.85 356.42L1291.45 364.62L1285.05 356.42z" stroke-width="2.15"/></g>
<text x="1326.9" y="363.02">IDBO</text>
<g stroke="#ff0000" fill="none"><path d="M1260.7 379.08H1322.4" stroke-width="2.2"/><path d="M1291.45 372.48L1293.36 375.78L1297.17 375.78L1295.26 379.08L1297.17 382.38L1293.36 382.38L1291.45 385.68L1289.54 382.38L1285.73 382.38L1287.64 379.08L1285.73 375.78L1289.54 375.78z" stroke-width="2.35"/></g>
<text x="1326.9" y="385.68">QHDBO</text>
<g stroke="#0000ff" fill="none"><path d="M1260.7 401.74H1322.4" stroke-width="2.2"/><path d="M1285.25 401.74a6.2 6.2 0 1 0 12.4 0a6.2 6.2 0 1 0 -12.4 0z" stroke-width="2.15"/></g>
<text x="1326.9" y="408.34">MDBO</text>
<g stroke="#00ffff" fill="none"><path d="M1260.7 424.4H1322.4" stroke-width="2.2"/><path d="M1291.45 418.5v11.8M1285.55 424.4h11.8M1287.28 420.23l8.34 8.34M1287.28 428.57l8.34 -8.34" stroke-width="2.4"/></g>
<text x="1326.9" y="431">EDBO</text>
</g>
</g>
<g>
<rect x="69.9" y="566.7" width="455.55" height="420.3" fill="#fff" stroke="#262626" stroke-width="2.2"/>
<path d="M69.9 987v-5.6M69.9 566.7v5.6M145.83 987v-5.6M145.83 566.7v5.6M221.75 987v-5.6M221.75 566.7v5.6M297.68 987v-5.6M297.68 566.7v5.6M373.6 987v-5.6M373.6 566.7v5.6M449.53 987v-5.6M449.53 566.7v5.6M525.45 987v-5.6M525.45 566.7v5.6M69.9 987h5.6M525.45 987h-5.6M69.9 881.92h5.6M525.45 881.92h-5.6M69.9 776.85h5.6M525.45 776.85h-5.6M69.9 671.78h5.6M525.45 671.78h-5.6M69.9 566.7h5.6M525.45 566.7h-5.6" stroke="#262626" stroke-width="2.2" fill="none"/>
<g fill="#262626" stroke="#262626" stroke-width="0.4">
<g font-size="20.5" text-anchor="middle">
<text transform="translate(69.4 1016.8) scale(1 1.03)">0</text>
<text transform="translate(145.33 1016.8) scale(1 1.03)">0.5</text>
<text transform="translate(221.25 1016.8) scale(1 1.03)">1</text>
<text transform="translate(297.18 1016.8) scale(1 1.03)">1.5</text>
<text transform="translate(373.1 1016.8) scale(1 1.03)">2</text>
<text transform="translate(449.03 1016.8) scale(1 1.03)">2.5</text>
<text transform="translate(524.95 1016.8) scale(1 1.03)">3</text>
</g>
<g font-size="20.5" text-anchor="end">
<text transform="translate(60.4 995.2) scale(1 1.03)">2</text>
<text transform="translate(60.4 890.12) scale(1 1.03)">2.5</text>
<text transform="translate(60.4 785.05) scale(1 1.03)">3</text>
<text transform="translate(60.4 679.98) scale(1 1.03)">3.5</text>
<text transform="translate(60.4 574.9) scale(1 1.03)">4</text>
</g>
<text x="476.85" y="1055.4" font-size="23.5" stroke="none">×</text>
<text x="525.15" y="1052" font-size="20.3" text-anchor="end">10<tspan dy="-10.3" font-size="15.6">5</tspan></text>
<text transform="translate(296.68 1047.2) scale(1 1.015)" font-size="22.5" text-anchor="middle">FEs</text>
<text transform="translate(19.41 776.85) rotate(-90) scale(1 1.015)" font-size="22.5" text-anchor="middle" letter-spacing="0.2">log(Average best-so-far)</text>
</g>
<text transform="translate(297.38 557.5) scale(1 1.0)" font-size="22.6" fill="#000" stroke="#000" stroke-width="0.4" text-anchor="middle">F10</text>
<g fill="none">
<g stroke="#000000">
<polyline points="74.08,609.67 115.46,736 138.23,773.33 161.01,810.33 183.79,838.33 206.56,861.33 229.34,877.33 252.12,888.33 274.9,902 297.68,909 320.45,912.67 343.23,917 366.01,922.67 388.78,931.33 411.56,936.33 434.34,937 457.12,937.67 479.9,938 502.67,939.33 525.45,939.67" stroke-width="2.2" stroke-linejoin="round"/>
<path d="M69.08 604.67h10v10h-10zM110.46 731h10v10h-10zM133.23 768.33h10v10h-10zM156.01 805.33h10v10h-10zM178.79 833.33h10v10h-10zM201.56 856.33h10v10h-10zM224.34 872.33h10v10h-10zM247.12 883.33h10v10h-10zM269.9 897h10v10h-10zM292.68 904h10v10h-10zM315.45 907.67h10v10h-10zM338.23 912h10v10h-10zM361.01 917.67h10v10h-10zM383.78 926.33h10v10h-10zM406.56 931.33h10v10h-10zM429.34 932h10v10h-10zM452.12 932.67h10v10h-10zM474.9 933h10v10h-10zM497.67 934.33h10v10h-10zM520.45 934.67h10v10h-10z" stroke-width="2.15"/>
</g>
<g stroke="#ff00ff">
<polyline points="74.08,631.33 115.46,661.57 138.23,661.57 161.01,661.57 183.79,661.57 206.56,661.57 229.34,661.57 252.12,661.57 274.9,661.57 297.68,661.57 320.45,661.57 343.23,661.57 366.01,661.57 388.78,661.57 411.56,661.57 434.34,661.57 457.12,661.57 479.9,661.57 502.67,661.57 525.45,680.67" stroke-width="2.2" stroke-linejoin="round"/>
<path d="M74.08 624.53L75.6 629.23L80.54 629.23L76.55 632.14L78.07 636.83L74.08 633.93L70.08 636.83L71.61 632.14L67.61 629.23L72.55 629.23zM115.46 654.77L116.98 659.47L121.92 659.47L117.93 662.37L119.45 667.07L115.46 664.16L111.46 667.07L112.98 662.37L108.99 659.47L113.93 659.47zM138.23 654.77L139.76 659.47L144.7 659.47L140.7 662.37L142.23 667.07L138.23 664.16L134.24 667.07L135.76 662.37L131.77 659.47L136.71 659.47zM161.01 654.77L162.54 659.47L167.48 659.47L163.48 662.37L165.01 667.07L161.01 664.16L157.01 667.07L158.54 662.37L154.54 659.47L159.48 659.47zM183.79 654.77L185.31 659.47L190.25 659.47L186.26 662.37L187.78 667.07L183.79 664.16L179.79 667.07L181.32 662.37L177.32 659.47L182.26 659.47zM206.56 654.77L208.09 659.47L213.03 659.47L209.04 662.37L210.56 667.07L206.56 664.16L202.57 667.07L204.09 662.37L200.1 659.47L205.04 659.47zM229.34 654.77L230.87 659.47L235.81 659.47L231.81 662.37L233.34 667.07L229.34 664.16L225.35 667.07L226.87 662.37L222.88 659.47L227.82 659.47zM252.12 654.77L253.65 659.47L258.59 659.47L254.59 662.37L256.12 667.07L252.12 664.16L248.12 667.07L249.65 662.37L245.65 659.47L250.59 659.47zM274.9 654.77L276.42 659.47L281.36 659.47L277.37 662.37L278.89 667.07L274.9 664.16L270.9 667.07L272.43 662.37L268.43 659.47L273.37 659.47zM297.68 654.77L299.2 659.47L304.14 659.47L300.15 662.37L301.67 667.07L297.68 664.16L293.68 667.07L295.2 662.37L291.21 659.47L296.15 659.47zM320.45 654.77L321.98 659.47L326.92 659.47L322.92 662.37L324.45 667.07L320.45 664.16L316.46 667.07L317.98 662.37L313.99 659.47L318.93 659.47zM343.23 654.77L344.76 659.47L349.7 659.47L345.7 662.37L347.23 667.07L343.23 664.16L339.23 667.07L340.76 662.37L336.76 659.47L341.7 659.47zM366.01 654.77L367.53 659.47L372.47 659.47L368.48 662.37L370 667.07L366.01 664.16L362.01 667.07L363.54 662.37L359.54 659.47L364.48 659.47zM388.78 654.77L390.31 659.47L395.25 659.47L391.26 662.37L392.78 667.07L388.78 664.16L384.79 667.07L386.31 662.37L382.32 659.47L387.26 659.47zM411.56 654.77L413.09 659.47L418.03 659.47L414.03 662.37L415.56 667.07L411.56 664.16L407.57 667.07L409.09 662.37L405.1 659.47L410.04 659.47zM434.34 654.77L435.87 659.47L440.81 659.47L436.81 662.37L438.34 667.07L434.34 664.16L430.34 667.07L431.87 662.37L427.87 659.47L432.81 659.47zM457.12 654.77L458.64 659.47L463.58 659.47L459.59 662.37L461.11 667.07L457.12 664.16L453.12 667.07L454.65 662.37L450.65 659.47L455.59 659.47zM479.9 654.77L481.42 659.47L486.36 659.47L482.37 662.37L483.89 667.07L479.9 664.16L475.9 667.07L477.42 662.37L473.43 659.47L478.37 659.47zM502.67 654.77L504.2 659.47L509.14 659.47L505.14 662.37L506.67 667.07L502.67 664.16L498.68 667.07L500.2 662.37L496.21 659.47L501.15 659.47zM525.45 673.87L526.98 678.57L531.92 678.57L527.92 681.47L529.45 686.17L525.45 683.26L521.45 686.17L522.98 681.47L518.98 678.57L523.92 678.57z" stroke-width="2.15" fill="#ff00ff" fill-opacity="0.5"/>
</g>
<g stroke="#00ff00">
<polyline points="74.08,631.67 115.46,664 138.23,664.11 161.01,664.22 183.79,664.32 206.56,664.43 229.34,664.54 252.12,664.65 274.9,664.75 297.68,664.86 320.45,664.97 343.23,665.08 366.01,665.19 388.78,665.29 411.56,665.4 434.34,665.51 457.12,665.62 479.9,665.73 502.67,665.83 525.45,666.1" stroke-width="2.2" stroke-linejoin="round"/>
<path d="M74.08 623.47L80.48 631.67L74.08 639.87L67.68 631.67zM115.46 655.8L121.86 664L115.46 672.2L109.06 664zM138.23 655.91L144.63 664.11L138.23 672.31L131.83 664.11zM161.01 656.02L167.41 664.22L161.01 672.42L154.61 664.22zM183.79 656.12L190.19 664.32L183.79 672.52L177.39 664.32zM206.56 656.23L212.97 664.43L206.56 672.63L200.16 664.43zM229.34 656.34L235.74 664.54L229.34 672.74L222.94 664.54zM252.12 656.45L258.52 664.65L252.12 672.85L245.72 664.65zM274.9 656.55L281.3 664.75L274.9 672.95L268.5 664.75zM297.68 656.66L304.07 664.86L297.68 673.06L291.28 664.86zM320.45 656.77L326.85 664.97L320.45 673.17L314.05 664.97zM343.23 656.88L349.63 665.08L343.23 673.28L336.83 665.08zM366.01 656.99L372.41 665.19L366.01 673.39L359.61 665.19zM388.78 657.09L395.18 665.29L388.78 673.49L382.38 665.29zM411.56 657.2L417.96 665.4L411.56 673.6L405.16 665.4zM434.34 657.31L440.74 665.51L434.34 673.71L427.94 665.51zM457.12 657.42L463.52 665.62L457.12 673.82L450.72 665.62zM479.9 657.53L486.3 665.73L479.9 673.93L473.5 665.73zM502.67 657.63L509.07 665.83L502.67 674.03L496.27 665.83zM525.45 657.9L531.85 666.1L525.45 674.3L519.05 666.1z" stroke-width="2.15"/>
</g>
<g stroke="#ff0000">
<polyline points="74.08,603.33 115.46,651 138.23,663 161.01,669 183.79,669.2 206.56,669.32 229.34,669.45 252.12,669.57 274.9,669.69 297.68,669.82 320.45,669.94 343.23,670.06 366.01,670.18 388.78,670.31 411.56,670.43 434.34,670.55 457.12,670.68 479.9,670.8 502.67,673.23 525.45,675.5" stroke-width="2.2" stroke-linejoin="round"/>
<path d="M74.08 596.73L75.98 600.03L79.79 600.03L77.89 603.33L79.79 606.63L75.98 606.63L74.08 609.93L72.17 606.63L68.36 606.63L70.27 603.33L68.36 600.03L72.17 600.03zM115.46 644.4L117.36 647.7L121.17 647.7L119.27 651L121.17 654.3L117.36 654.3L115.46 657.6L113.55 654.3L109.74 654.3L111.64 651L109.74 647.7L113.55 647.7zM138.23 656.4L140.14 659.7L143.95 659.7L142.04 663L143.95 666.3L140.14 666.3L138.23 669.6L136.33 666.3L132.52 666.3L134.42 663L132.52 659.7L136.33 659.7zM161.01 662.4L162.92 665.7L166.73 665.7L164.82 669L166.73 672.3L162.92 672.3L161.01 675.6L159.1 672.3L155.29 672.3L157.2 669L155.29 665.7L159.1 665.7zM183.79 662.6L185.69 665.9L189.5 665.9L187.6 669.2L189.5 672.5L185.69 672.5L183.79 675.8L181.88 672.5L178.07 672.5L179.98 669.2L178.07 665.9L181.88 665.9zM206.56 662.72L208.47 666.02L212.28 666.02L210.38 669.32L212.28 672.62L208.47 672.62L206.56 675.92L204.66 672.62L200.85 672.62L202.75 669.32L200.85 666.02L204.66 666.02zM229.34 662.85L231.25 666.15L235.06 666.15L233.15 669.45L235.06 672.75L231.25 672.75L229.34 676.05L227.44 672.75L223.63 672.75L225.53 669.45L223.63 666.15L227.44 666.15zM252.12 662.97L254.03 666.27L257.84 666.27L255.93 669.57L257.84 672.87L254.03 672.87L252.12 676.17L250.21 672.87L246.4 672.87L248.31 669.57L246.4 666.27L250.21 666.27zM274.9 663.09L276.8 666.39L280.61 666.39L278.71 669.69L280.61 672.99L276.8 672.99L274.9 676.29L272.99 672.99L269.18 672.99L271.09 669.69L269.18 666.39L272.99 666.39zM297.68 663.22L299.58 666.52L303.39 666.52L301.49 669.82L303.39 673.12L299.58 673.12L297.68 676.42L295.77 673.12L291.96 673.12L293.86 669.82L291.96 666.52L295.77 666.52zM320.45 663.34L322.36 666.64L326.17 666.64L324.26 669.94L326.17 673.24L322.36 673.24L320.45 676.54L318.55 673.24L314.74 673.24L316.64 669.94L314.74 666.64L318.55 666.64zM343.23 663.46L345.14 666.76L348.95 666.76L347.04 670.06L348.95 673.36L345.14 673.36L343.23 676.66L341.32 673.36L337.51 673.36L339.42 670.06L337.51 666.76L341.32 666.76zM366.01 663.58L367.91 666.88L371.72 666.88L369.82 670.18L371.72 673.48L367.91 673.48L366.01 676.78L364.1 673.48L360.29 673.48L362.2 670.18L360.29 666.88L364.1 666.88zM388.78 663.71L390.69 667.01L394.5 667.01L392.6 670.31L394.5 673.61L390.69 673.61L388.78 676.91L386.88 673.61L383.07 673.61L384.97 670.31L383.07 667.01L386.88 667.01zM411.56 663.83L413.47 667.13L417.28 667.13L415.37 670.43L417.28 673.73L413.47 673.73L411.56 677.03L409.66 673.73L405.85 673.73L407.75 670.43L405.85 667.13L409.66 667.13zM434.34 663.95L436.25 667.25L440.06 667.25L438.15 670.55L440.06 673.85L436.25 673.85L434.34 677.15L432.43 673.85L428.62 673.85L430.53 670.55L428.62 667.25L432.43 667.25zM457.12 664.08L459.02 667.38L462.83 667.38L460.93 670.68L462.83 673.98L459.02 673.98L457.12 677.28L455.21 673.98L451.4 673.98L453.31 670.68L451.4 667.38L455.21 667.38zM479.9 664.2L481.8 667.5L485.61 667.5L483.71 670.8L485.61 674.1L481.8 674.1L479.9 677.4L477.99 674.1L474.18 674.1L476.08 670.8L474.18 667.5L477.99 667.5zM502.67 666.63L504.58 669.93L508.39 669.93L506.48 673.23L508.39 676.53L504.58 676.53L502.67 679.83L500.77 676.53L496.96 676.53L498.86 673.23L496.96 669.93L500.77 669.93zM525.45 668.9L527.36 672.2L531.17 672.2L529.26 675.5L531.17 678.8L527.36 678.8L525.45 682.1L523.54 678.8L519.73 678.8L521.64 675.5L519.73 672.2L523.54 672.2z" stroke-width="2.35"/>
</g>
<g stroke="#0000ff">
<polyline points="74.08,633.67 115.46,683 138.23,683 161.01,683 183.79,683 206.56,683 229.34,683 252.12,683 274.9,683 297.68,683 320.45,683 343.23,683 366.01,683 388.78,683 411.56,683 434.34,683 457.12,683 479.9,683 502.67,683 525.45,687.47" stroke-width="2.2" stroke-linejoin="round"/>
<path d="M67.88 633.67a6.2 6.2 0 1 0 12.4 0a6.2 6.2 0 1 0 -12.4 0zM109.26 683a6.2 6.2 0 1 0 12.4 0a6.2 6.2 0 1 0 -12.4 0zM132.03 683a6.2 6.2 0 1 0 12.4 0a6.2 6.2 0 1 0 -12.4 0zM154.81 683a6.2 6.2 0 1 0 12.4 0a6.2 6.2 0 1 0 -12.4 0zM177.59 683a6.2 6.2 0 1 0 12.4 0a6.2 6.2 0 1 0 -12.4 0zM200.37 683a6.2 6.2 0 1 0 12.4 0a6.2 6.2 0 1 0 -12.4 0zM223.14 683a6.2 6.2 0 1 0 12.4 0a6.2 6.2 0 1 0 -12.4 0zM245.92 683a6.2 6.2 0 1 0 12.4 0a6.2 6.2 0 1 0 -12.4 0zM268.7 683a6.2 6.2 0 1 0 12.4 0a6.2 6.2 0 1 0 -12.4 0zM291.48 683a6.2 6.2 0 1 0 12.4 0a6.2 6.2 0 1 0 -12.4 0zM314.25 683a6.2 6.2 0 1 0 12.4 0a6.2 6.2 0 1 0 -12.4 0zM337.03 683a6.2 6.2 0 1 0 12.4 0a6.2 6.2 0 1 0 -12.4 0zM359.81 683a6.2 6.2 0 1 0 12.4 0a6.2 6.2 0 1 0 -12.4 0zM382.58 683a6.2 6.2 0 1 0 12.4 0a6.2 6.2 0 1 0 -12.4 0zM405.36 683a6.2 6.2 0 1 0 12.4 0a6.2 6.2 0 1 0 -12.4 0zM428.14 683a6.2 6.2 0 1 0 12.4 0a6.2 6.2 0 1 0 -12.4 0zM450.92 683a6.2 6.2 0 1 0 12.4 0a6.2 6.2 0 1 0 -12.4 0zM473.7 683a6.2 6.2 0 1 0 12.4 0a6.2 6.2 0 1 0 -12.4 0zM496.47 683a6.2 6.2 0 1 0 12.4 0a6.2 6.2 0 1 0 -12.4 0zM519.25 687.47a6.2 6.2 0 1 0 12.4 0a6.2 6.2 0 1 0 -12.4 0z" stroke-width="2.15"/>
</g>
<g stroke="#00ffff">
<polyline points="74.08,620.67 115.46,668.53 138.23,668.53 161.01,668.53 183.79,668.53 206.56,668.53 229.34,668.53 252.12,668.53 274.9,668.53 297.68,668.53 320.45,668.53 343.23,668.53 366.01,668.53 388.78,668.53 411.56,668.53 434.34,668.53 457.12,668.53 479.9,668.53 502.67,668.8 525.45,678.33" stroke-width="2.2" stroke-linejoin="round"/>
<path d="M74.08 614.77v11.8M68.18 620.67h11.8M69.9 616.49l8.34 8.34M69.9 624.84l8.34 -8.34M115.46 662.63v11.8M109.56 668.53h11.8M111.28 664.36l8.34 8.34M111.28 672.71l8.34 -8.34M138.23 662.63v11.8M132.33 668.53h11.8M134.06 664.36l8.34 8.34M134.06 672.71l8.34 -8.34M161.01 662.63v11.8M155.11 668.53h11.8M156.84 664.36l8.34 8.34M156.84 672.71l8.34 -8.34M183.79 662.63v11.8M177.89 668.53h11.8M179.62 664.36l8.34 8.34M179.62 672.71l8.34 -8.34M206.56 662.63v11.8M200.66 668.53h11.8M202.39 664.36l8.34 8.34M202.39 672.71l8.34 -8.34M229.34 662.63v11.8M223.44 668.53h11.8M225.17 664.36l8.34 8.34M225.17 672.71l8.34 -8.34M252.12 662.63v11.8M246.22 668.53h11.8M247.95 664.36l8.34 8.34M247.95 672.71l8.34 -8.34M274.9 662.63v11.8M269 668.53h11.8M270.73 664.36l8.34 8.34M270.73 672.71l8.34 -8.34M297.68 662.63v11.8M291.78 668.53h11.8M293.5 664.36l8.34 8.34M293.5 672.71l8.34 -8.34M320.45 662.63v11.8M314.55 668.53h11.8M316.28 664.36l8.34 8.34M316.28 672.71l8.34 -8.34M343.23 662.63v11.8M337.33 668.53h11.8M339.06 664.36l8.34 8.34M339.06 672.71l8.34 -8.34M366.01 662.63v11.8M360.11 668.53h11.8M361.84 664.36l8.34 8.34M361.84 672.71l8.34 -8.34M388.78 662.63v11.8M382.88 668.53h11.8M384.61 664.36l8.34 8.34M384.61 672.71l8.34 -8.34M411.56 662.63v11.8M405.66 668.53h11.8M407.39 664.36l8.34 8.34M407.39 672.71l8.34 -8.34M434.34 662.63v11.8M428.44 668.53h11.8M430.17 664.36l8.34 8.34M430.17 672.71l8.34 -8.34M457.12 662.63v11.8M451.22 668.53h11.8M452.95 664.36l8.34 8.34M452.95 672.71l8.34 -8.34M479.9 662.63v11.8M474 668.53h11.8M475.72 664.36l8.34 8.34M475.72 672.71l8.34 -8.34M502.67 662.9v11.8M496.77 668.8h11.8M498.5 664.63l8.34 8.34M498.5 672.97l8.34 -8.34M525.45 672.43v11.8M519.55 678.33h11.8M521.28 674.16l8.34 8.34M521.28 682.51l8.34 -8.34" stroke-width="2.4"/>
</g>
</g>
<rect x="361.65" y="734.8" width="140.3" height="141.2" fill="#fff" stroke="#262626" stroke-width="2.0"/>
<g font-size="16.3" fill="#000" stroke="#000" stroke-width="0.4" letter-spacing="0.25">
<g stroke="#000000" fill="none"><path d="M368.15 748.8H429.85" stroke-width="2.2"/><path d="M393.9 743.8h10v10h-10z" stroke-width="2.15"/></g>
<text x="434.35" y="755.4">MSDBO</text>
<g stroke="#ff00ff" fill="none"><path d="M368.15 771.46H429.85" stroke-width="2.2"/><path d="M398.9 764.66L400.43 769.36L405.37 769.36L401.37 772.26L402.9 776.96L398.9 774.06L394.9 776.96L396.43 772.26L392.43 769.36L397.37 769.36z" stroke-width="2.15" fill="#ff00ff" fill-opacity="0.5"/></g>
<text x="434.35" y="778.06">DBO</text>
<g stroke="#00ff00" fill="none"><path d="M368.15 794.12H429.85" stroke-width="2.2"/><path d="M398.9 785.92L405.3 794.12L398.9 802.32L392.5 794.12z" stroke-width="2.15"/></g>
<text x="434.35" y="800.72">IDBO</text>
<g stroke="#ff0000" fill="none"><path d="M368.15 816.78H429.85" stroke-width="2.2"/><path d="M398.9 810.18L400.81 813.48L404.62 813.48L402.71 816.78L404.62 820.08L400.81 820.08L398.9 823.38L396.99 820.08L393.18 820.08L395.09 816.78L393.18 813.48L396.99 813.48z" stroke-width="2.35"/></g>
<text x="434.35" y="823.38">QHDBO</text>
<g stroke="#0000ff" fill="none"><path d="M368.15 839.44H429.85" stroke-width="2.2"/><path d="M392.7 839.44a6.2 6.2 0 1 0 12.4 0a6.2 6.2 0 1 0 -12.4 0z" stroke-width="2.15"/></g>
<text x="434.35" y="846.04">MDBO</text>
<g stroke="#00ffff" fill="none"><path d="M368.15 862.1H429.85" stroke-width="2.2"/><path d="M398.9 856.2v11.8M393 862.1h11.8M394.73 857.93l8.34 8.34M394.73 866.27l8.34 -8.34" stroke-width="2.4"/></g>
<text x="434.35" y="868.7">EDBO</text>
</g>
</g>
<g>
<rect x="658.2" y="566.7" width="456" height="420.3" fill="#fff" stroke="#262626" stroke-width="2.2"/>
<path d="M658.2 987v-5.6M658.2 566.7v5.6M734.2 987v-5.6M734.2 566.7v5.6M810.2 987v-5.6M810.2 566.7v5.6M886.2 987v-5.6M886.2 566.7v5.6M962.2 987v-5.6M962.2 566.7v5.6M1038.2 987v-5.6M1038.2 566.7v5.6M1114.2 987v-5.6M1114.2 566.7v5.6M658.2 987h5.6M1114.2 987h-5.6M658.2 902.94h5.6M1114.2 902.94h-5.6M658.2 818.88h5.6M1114.2 818.88h-5.6M658.2 734.82h5.6M1114.2 734.82h-5.6M658.2 650.76h5.6M1114.2 650.76h-5.6M658.2 566.7h5.6M1114.2 566.7h-5.6" stroke="#262626" stroke-width="2.2" fill="none"/>
<g fill="#262626" stroke="#262626" stroke-width="0.4">
<g font-size="20.5" text-anchor="middle">
<text transform="translate(657.7 1016.8) scale(1 1.03)">0</text>
<text transform="translate(733.7 1016.8) scale(1 1.03)">0.5</text>
<text transform="translate(809.7 1016.8) scale(1 1.03)">1</text>
<text transform="translate(885.7 1016.8) scale(1 1.03)">1.5</text>
<text transform="translate(961.7 1016.8) scale(1 1.03)">2</text>
<text transform="translate(1037.7 1016.8) scale(1 1.03)">2.5</text>
<text transform="translate(1113.7 1016.8) scale(1 1.03)">3</text>
</g>
<g font-size="20.5" text-anchor="end">
<text transform="translate(648.7 995.2) scale(1 1.03)">3.5</text>
<text transform="translate(648.7 911.14) scale(1 1.03)">3.6</text>
<text transform="translate(648.7 827.08) scale(1 1.03)">3.7</text>
<text transform="translate(648.7 743.02) scale(1 1.03)">3.8</text>
<text transform="translate(648.7 658.96) scale(1 1.03)">3.9</text>
<text transform="translate(648.7 574.9) scale(1 1.03)">4</text>
</g>
<text x="1065.6" y="1055.4" font-size="23.5" stroke="none">×</text>
<text x="1113.9" y="1052" font-size="20.3" text-anchor="end">10<tspan dy="-10.3" font-size="15.6">5</tspan></text>
<text transform="translate(885.2 1047.2) scale(1 1.015)" font-size="22.5" text-anchor="middle">FEs</text>
<text transform="translate(607.71 776.85) rotate(-90) scale(1 1.015)" font-size="22.5" text-anchor="middle" letter-spacing="0.2">log(Average best-so-far)</text>
</g>
<text transform="translate(885.9 557.5) scale(1 1.0)" font-size="22.6" fill="#000" stroke="#000" stroke-width="0.4" text-anchor="middle">F11</text>
<g fill="none">
<g stroke="#000000">
<polyline points="662.38,665.67 703.8,860 726.6,904.67 749.4,934.67 772.2,956.33 795,968 817.8,973 840.6,974.67 863.4,977 886.2,977.67 909,978.67 931.8,979 954.6,979.67 977.4,980.33 1000.2,984.67 1023,985.33 1045.8,986.33 1068.6,986.33 1091.4,986.33 1114.2,986.33" stroke-width="2.2" stroke-linejoin="round"/>
<path d="M657.38 660.67h10v10h-10zM698.8 855h10v10h-10zM721.6 899.67h10v10h-10zM744.4 929.67h10v10h-10zM767.2 951.33h10v10h-10zM790 963h10v10h-10zM812.8 968h10v10h-10zM835.6 969.67h10v10h-10zM858.4 972h10v10h-10zM881.2 972.67h10v10h-10zM904 973.67h10v10h-10zM926.8 974h10v10h-10zM949.6 974.67h10v10h-10zM972.4 975.33h10v10h-10zM995.2 979.67h10v10h-10zM1018 980.33h10v10h-10zM1040.8 981.33h10v10h-10zM1063.6 981.33h10v10h-10zM1086.4 981.33h10v10h-10zM1109.2 981.33h10v10h-10z" stroke-width="2.15"/>
</g>
<g stroke="#ff00ff">
<polyline points="662.38,674 703.8,835.67 726.6,845 749.4,847.33 772.2,847.33 795,852.33 817.8,857.33 840.6,860 863.4,861 886.2,862.33 909,864 931.8,865 954.6,866.33 977.4,866.33 1000.2,866.33 1023,866.33 1045.8,866.33 1068.6,866.33 1091.4,866.33 1114.2,873.33" stroke-width="2.2" stroke-linejoin="round"/>
<path d="M662.38 667.2L663.91 671.9L668.85 671.9L664.85 674.8L666.38 679.5L662.38 676.6L658.38 679.5L659.91 674.8L655.91 671.9L660.85 671.9zM703.8 828.87L705.33 833.57L710.27 833.57L706.27 836.47L707.8 841.17L703.8 838.26L699.8 841.17L701.33 836.47L697.33 833.57L702.27 833.57zM726.6 838.2L728.13 842.9L733.07 842.9L729.07 845.8L730.6 850.5L726.6 847.6L722.6 850.5L724.13 845.8L720.13 842.9L725.07 842.9zM749.4 840.53L750.93 845.23L755.87 845.23L751.87 848.14L753.4 852.83L749.4 849.93L745.4 852.83L746.93 848.14L742.93 845.23L747.87 845.23zM772.2 840.53L773.73 845.23L778.67 845.23L774.67 848.14L776.2 852.83L772.2 849.93L768.2 852.83L769.73 848.14L765.73 845.23L770.67 845.23zM795 845.53L796.53 850.23L801.47 850.23L797.47 853.14L799 857.83L795 854.93L791 857.83L792.53 853.14L788.53 850.23L793.47 850.23zM817.8 850.53L819.33 855.23L824.27 855.23L820.27 858.14L821.8 862.83L817.8 859.93L813.8 862.83L815.33 858.14L811.33 855.23L816.27 855.23zM840.6 853.2L842.13 857.9L847.07 857.9L843.07 860.8L844.6 865.5L840.6 862.6L836.6 865.5L838.13 860.8L834.13 857.9L839.07 857.9zM863.4 854.2L864.93 858.9L869.87 858.9L865.87 861.8L867.4 866.5L863.4 863.6L859.4 866.5L860.93 861.8L856.93 858.9L861.87 858.9zM886.2 855.53L887.73 860.23L892.67 860.23L888.67 863.14L890.2 867.83L886.2 864.93L882.2 867.83L883.73 863.14L879.73 860.23L884.67 860.23zM909 857.2L910.53 861.9L915.47 861.9L911.47 864.8L913 869.5L909 866.6L905 869.5L906.53 864.8L902.53 861.9L907.47 861.9zM931.8 858.2L933.33 862.9L938.27 862.9L934.27 865.8L935.8 870.5L931.8 867.6L927.8 870.5L929.33 865.8L925.33 862.9L930.27 862.9zM954.6 859.53L956.13 864.23L961.07 864.23L957.07 867.14L958.6 871.83L954.6 868.93L950.6 871.83L952.13 867.14L948.13 864.23L953.07 864.23zM977.4 859.53L978.93 864.23L983.87 864.23L979.87 867.14L981.4 871.83L977.4 868.93L973.4 871.83L974.93 867.14L970.93 864.23L975.87 864.23zM1000.2 859.53L1001.73 864.23L1006.67 864.23L1002.67 867.14L1004.2 871.83L1000.2 868.93L996.2 871.83L997.73 867.14L993.73 864.23L998.67 864.23zM1023 859.53L1024.53 864.23L1029.47 864.23L1025.47 867.14L1027 871.83L1023 868.93L1019 871.83L1020.53 867.14L1016.53 864.23L1021.47 864.23zM1045.8 859.53L1047.33 864.23L1052.27 864.23L1048.27 867.14L1049.8 871.83L1045.8 868.93L1041.8 871.83L1043.33 867.14L1039.33 864.23L1044.27 864.23zM1068.6 859.53L1070.13 864.23L1075.07 864.23L1071.07 867.14L1072.6 871.83L1068.6 868.93L1064.6 871.83L1066.13 867.14L1062.13 864.23L1067.07 864.23zM1091.4 859.53L1092.93 864.23L1097.87 864.23L1093.87 867.14L1095.4 871.83L1091.4 868.93L1087.4 871.83L1088.93 867.14L1084.93 864.23L1089.87 864.23zM1114.2 866.53L1115.73 871.23L1120.67 871.23L1116.67 874.14L1118.2 878.83L1114.2 875.93L1110.2 878.83L1111.73 874.14L1107.73 871.23L1112.67 871.23z" stroke-width="2.15" fill="#ff00ff" fill-opacity="0.5"/>
</g>
<g stroke="#00ff00">
<polyline points="662.38,694 703.8,888 726.6,890.33 749.4,891 772.2,891.33 795,891.33 817.8,891.67 840.6,891.67 863.4,892 886.2,892.33 909,893 931.8,894 954.6,894 977.4,894 1000.2,894 1023,894 1045.8,894 1068.6,894 1091.4,894.33 1114.2,894.33" stroke-width="2.2" stroke-linejoin="round"/>
<path d="M662.38 685.8L668.78 694L662.38 702.2L655.98 694zM703.8 879.8L710.2 888L703.8 896.2L697.4 888zM726.6 882.13L733 890.33L726.6 898.53L720.2 890.33zM749.4 882.8L755.8 891L749.4 899.2L743 891zM772.2 883.13L778.6 891.33L772.2 899.53L765.8 891.33zM795 883.13L801.4 891.33L795 899.53L788.6 891.33zM817.8 883.47L824.2 891.67L817.8 899.87L811.4 891.67zM840.6 883.47L847 891.67L840.6 899.87L834.2 891.67zM863.4 883.8L869.8 892L863.4 900.2L857 892zM886.2 884.13L892.6 892.33L886.2 900.53L879.8 892.33zM909 884.8L915.4 893L909 901.2L902.6 893zM931.8 885.8L938.2 894L931.8 902.2L925.4 894zM954.6 885.8L961 894L954.6 902.2L948.2 894zM977.4 885.8L983.8 894L977.4 902.2L971 894zM1000.2 885.8L1006.6 894L1000.2 902.2L993.8 894zM1023 885.8L1029.4 894L1023 902.2L1016.6 894zM1045.8 885.8L1052.2 894L1045.8 902.2L1039.4 894zM1068.6 885.8L1075 894L1068.6 902.2L1062.2 894zM1091.4 886.13L1097.8 894.33L1091.4 902.53L1085 894.33zM1114.2 886.13L1120.6 894.33L1114.2 902.53L1107.8 894.33z" stroke-width="2.15"/>
</g>
<g stroke="#ff0000">
<polyline points="662.38,631.67 703.8,691.67 726.6,708.33 749.4,723.33 772.2,735.33 795,738.33 817.8,745 840.6,751.33 863.4,756.67 886.2,760 909,765.67 931.8,771.67 954.6,777.67 977.4,782.67 1000.2,788 1023,792.67 1045.8,799.33 1068.6,804 1091.4,812.33 1114.2,813.33" stroke-width="2.2" stroke-linejoin="round"/>
<path d="M662.38 625.07L664.29 628.37L668.1 628.37L666.19 631.67L668.1 634.97L664.29 634.97L662.38 638.27L660.47 634.97L656.66 634.97L658.57 631.67L656.66 628.37L660.47 628.37zM703.8 685.07L705.71 688.37L709.52 688.37L707.61 691.67L709.52 694.97L705.71 694.97L703.8 698.27L701.89 694.97L698.08 694.97L699.99 691.67L698.08 688.37L701.89 688.37zM726.6 701.73L728.51 705.03L732.32 705.03L730.41 708.33L732.32 711.63L728.51 711.63L726.6 714.93L724.69 711.63L720.88 711.63L722.79 708.33L720.88 705.03L724.69 705.03zM749.4 716.73L751.31 720.03L755.12 720.03L753.21 723.33L755.12 726.63L751.31 726.63L749.4 729.93L747.49 726.63L743.68 726.63L745.59 723.33L743.68 720.03L747.49 720.03zM772.2 728.73L774.11 732.03L777.92 732.03L776.01 735.33L777.92 738.63L774.11 738.63L772.2 741.93L770.29 738.63L766.48 738.63L768.39 735.33L766.48 732.03L770.29 732.03zM795 731.73L796.91 735.03L800.72 735.03L798.81 738.33L800.72 741.63L796.91 741.63L795 744.93L793.09 741.63L789.28 741.63L791.19 738.33L789.28 735.03L793.09 735.03zM817.8 738.4L819.71 741.7L823.52 741.7L821.61 745L823.52 748.3L819.71 748.3L817.8 751.6L815.89 748.3L812.08 748.3L813.99 745L812.08 741.7L815.89 741.7zM840.6 744.73L842.51 748.03L846.32 748.03L844.41 751.33L846.32 754.63L842.51 754.63L840.6 757.93L838.69 754.63L834.88 754.63L836.79 751.33L834.88 748.03L838.69 748.03zM863.4 750.07L865.31 753.37L869.12 753.37L867.21 756.67L869.12 759.97L865.31 759.97L863.4 763.27L861.49 759.97L857.68 759.97L859.59 756.67L857.68 753.37L861.49 753.37zM886.2 753.4L888.11 756.7L891.92 756.7L890.01 760L891.92 763.3L888.11 763.3L886.2 766.6L884.29 763.3L880.48 763.3L882.39 760L880.48 756.7L884.29 756.7zM909 759.07L910.91 762.37L914.72 762.37L912.81 765.67L914.72 768.97L910.91 768.97L909 772.27L907.09 768.97L903.28 768.97L905.19 765.67L903.28 762.37L907.09 762.37zM931.8 765.07L933.71 768.37L937.52 768.37L935.61 771.67L937.52 774.97L933.71 774.97L931.8 778.27L929.89 774.97L926.08 774.97L927.99 771.67L926.08 768.37L929.89 768.37zM954.6 771.07L956.51 774.37L960.32 774.37L958.41 777.67L960.32 780.97L956.51 780.97L954.6 784.27L952.69 780.97L948.88 780.97L950.79 777.67L948.88 774.37L952.69 774.37zM977.4 776.07L979.31 779.37L983.12 779.37L981.21 782.67L983.12 785.97L979.31 785.97L977.4 789.27L975.49 785.97L971.68 785.97L973.59 782.67L971.68 779.37L975.49 779.37zM1000.2 781.4L1002.11 784.7L1005.92 784.7L1004.01 788L1005.92 791.3L1002.11 791.3L1000.2 794.6L998.29 791.3L994.48 791.3L996.39 788L994.48 784.7L998.29 784.7zM1023 786.07L1024.91 789.37L1028.72 789.37L1026.81 792.67L1028.72 795.97L1024.91 795.97L1023 799.27L1021.09 795.97L1017.28 795.97L1019.19 792.67L1017.28 789.37L1021.09 789.37zM1045.8 792.73L1047.71 796.03L1051.52 796.03L1049.61 799.33L1051.52 802.63L1047.71 802.63L1045.8 805.93L1043.89 802.63L1040.08 802.63L1041.99 799.33L1040.08 796.03L1043.89 796.03zM1068.6 797.4L1070.51 800.7L1074.32 800.7L1072.41 804L1074.32 807.3L1070.51 807.3L1068.6 810.6L1066.69 807.3L1062.88 807.3L1064.79 804L1062.88 800.7L1066.69 800.7zM1091.4 805.73L1093.31 809.03L1097.12 809.03L1095.21 812.33L1097.12 815.63L1093.31 815.63L1091.4 818.93L1089.49 815.63L1085.68 815.63L1087.59 812.33L1085.68 809.03L1089.49 809.03zM1114.2 806.73L1116.11 810.03L1119.92 810.03L1118.01 813.33L1119.92 816.63L1116.11 816.63L1114.2 819.93L1112.29 816.63L1108.48 816.63L1110.39 813.33L1108.48 810.03L1112.29 810.03z" stroke-width="2.35"/>
</g>
<g stroke="#0000ff">
<polyline points="662.38,678.33 703.8,881.33 726.6,899 749.4,914.33 772.2,922.33 795,927 817.8,935.67 840.6,937.67 863.4,940.33 886.2,940.67 909,940.67 931.8,942 954.6,944.33 977.4,944.67 1000.2,944.67 1023,944.67 1045.8,944.67 1068.6,944.67 1091.4,946.33 1114.2,947.67" stroke-width="2.2" stroke-linejoin="round"/>
<path d="M656.18 678.33a6.2 6.2 0 1 0 12.4 0a6.2 6.2 0 1 0 -12.4 0zM697.6 881.33a6.2 6.2 0 1 0 12.4 0a6.2 6.2 0 1 0 -12.4 0zM720.4 899a6.2 6.2 0 1 0 12.4 0a6.2 6.2 0 1 0 -12.4 0zM743.2 914.33a6.2 6.2 0 1 0 12.4 0a6.2 6.2 0 1 0 -12.4 0zM766 922.33a6.2 6.2 0 1 0 12.4 0a6.2 6.2 0 1 0 -12.4 0zM788.8 927a6.2 6.2 0 1 0 12.4 0a6.2 6.2 0 1 0 -12.4 0zM811.6 935.67a6.2 6.2 0 1 0 12.4 0a6.2 6.2 0 1 0 -12.4 0zM834.4 937.67a6.2 6.2 0 1 0 12.4 0a6.2 6.2 0 1 0 -12.4 0zM857.2 940.33a6.2 6.2 0 1 0 12.4 0a6.2 6.2 0 1 0 -12.4 0zM880 940.67a6.2 6.2 0 1 0 12.4 0a6.2 6.2 0 1 0 -12.4 0zM902.8 940.67a6.2 6.2 0 1 0 12.4 0a6.2 6.2 0 1 0 -12.4 0zM925.6 942a6.2 6.2 0 1 0 12.4 0a6.2 6.2 0 1 0 -12.4 0zM948.4 944.33a6.2 6.2 0 1 0 12.4 0a6.2 6.2 0 1 0 -12.4 0zM971.2 944.67a6.2 6.2 0 1 0 12.4 0a6.2 6.2 0 1 0 -12.4 0zM994 944.67a6.2 6.2 0 1 0 12.4 0a6.2 6.2 0 1 0 -12.4 0zM1016.8 944.67a6.2 6.2 0 1 0 12.4 0a6.2 6.2 0 1 0 -12.4 0zM1039.6 944.67a6.2 6.2 0 1 0 12.4 0a6.2 6.2 0 1 0 -12.4 0zM1062.4 944.67a6.2 6.2 0 1 0 12.4 0a6.2 6.2 0 1 0 -12.4 0zM1085.2 946.33a6.2 6.2 0 1 0 12.4 0a6.2 6.2 0 1 0 -12.4 0zM1108 947.67a6.2 6.2 0 1 0 12.4 0a6.2 6.2 0 1 0 -12.4 0z" stroke-width="2.15"/>
</g>
<g stroke="#00ffff">
<polyline points="662.38,649 703.8,785 726.6,798.67 749.4,815.67 772.2,831.67 795,839 817.8,844.67 840.6,854.33 863.4,861.67 886.2,876.33 909,880.67 931.8,880.67 954.6,881.33 977.4,882.67 1000.2,883.67 1023,883.67 1045.8,883.67 1068.6,883.67 1091.4,885.67 1114.2,894.67" stroke-width="2.2" stroke-linejoin="round"/>
<path d="M662.38 643.1v11.8M656.48 649h11.8M658.21 644.83l8.34 8.34M658.21 653.17l8.34 -8.34M703.8 779.1v11.8M697.9 785h11.8M699.63 780.83l8.34 8.34M699.63 789.17l8.34 -8.34M726.6 792.77v11.8M720.7 798.67h11.8M722.43 794.49l8.34 8.34M722.43 802.84l8.34 -8.34M749.4 809.77v11.8M743.5 815.67h11.8M745.23 811.49l8.34 8.34M745.23 819.84l8.34 -8.34M772.2 825.77v11.8M766.3 831.67h11.8M768.03 827.49l8.34 8.34M768.03 835.84l8.34 -8.34M795 833.1v11.8M789.1 839h11.8M790.83 834.83l8.34 8.34M790.83 843.17l8.34 -8.34M817.8 838.77v11.8M811.9 844.67h11.8M813.63 840.49l8.34 8.34M813.63 848.84l8.34 -8.34M840.6 848.43v11.8M834.7 854.33h11.8M836.43 850.16l8.34 8.34M836.43 858.51l8.34 -8.34M863.4 855.77v11.8M857.5 861.67h11.8M859.23 857.49l8.34 8.34M859.23 865.84l8.34 -8.34M886.2 870.43v11.8M880.3 876.33h11.8M882.03 872.16l8.34 8.34M882.03 880.51l8.34 -8.34M909 874.77v11.8M903.1 880.67h11.8M904.83 876.49l8.34 8.34M904.83 884.84l8.34 -8.34M931.8 874.77v11.8M925.9 880.67h11.8M927.63 876.49l8.34 8.34M927.63 884.84l8.34 -8.34M954.6 875.43v11.8M948.7 881.33h11.8M950.43 877.16l8.34 8.34M950.43 885.51l8.34 -8.34M977.4 876.77v11.8M971.5 882.67h11.8M973.23 878.49l8.34 8.34M973.23 886.84l8.34 -8.34M1000.2 877.77v11.8M994.3 883.67h11.8M996.03 879.49l8.34 8.34M996.03 887.84l8.34 -8.34M1023 877.77v11.8M1017.1 883.67h11.8M1018.83 879.49l8.34 8.34M1018.83 887.84l8.34 -8.34M1045.8 877.77v11.8M1039.9 883.67h11.8M1041.63 879.49l8.34 8.34M1041.63 887.84l8.34 -8.34M1068.6 877.77v11.8M1062.7 883.67h11.8M1064.43 879.49l8.34 8.34M1064.43 887.84l8.34 -8.34M1091.4 879.77v11.8M1085.5 885.67h11.8M1087.23 881.49l8.34 8.34M1087.23 889.84l8.34 -8.34M1114.2 888.77v11.8M1108.3 894.67h11.8M1110.03 890.49l8.34 8.34M1110.03 898.84l8.34 -8.34" stroke-width="2.4"/>
</g>
</g>
<rect x="957.2" y="583.1" width="140.3" height="141.2" fill="#fff" stroke="#262626" stroke-width="2.0"/>
<g font-size="16.3" fill="#000" stroke="#000" stroke-width="0.4" letter-spacing="0.25">
<g stroke="#000000" fill="none"><path d="M963.7 597.1H1025.4" stroke-width="2.2"/><path d="M989.45 592.1h10v10h-10z" stroke-width="2.15"/></g>
<text x="1029.9" y="603.7">MSDBO</text>
<g stroke="#ff00ff" fill="none"><path d="M963.7 619.76H1025.4" stroke-width="2.2"/><path d="M994.45 612.96L995.98 617.66L1000.92 617.66L996.92 620.56L998.45 625.26L994.45 622.36L990.45 625.26L991.98 620.56L987.98 617.66L992.92 617.66z" stroke-width="2.15" fill="#ff00ff" fill-opacity="0.5"/></g>
<text x="1029.9" y="626.36">DBO</text>
<g stroke="#00ff00" fill="none"><path d="M963.7 642.42H1025.4" stroke-width="2.2"/><path d="M994.45 634.22L1000.85 642.42L994.45 650.62L988.05 642.42z" stroke-width="2.15"/></g>
<text x="1029.9" y="649.02">IDBO</text>
<g stroke="#ff0000" fill="none"><path d="M963.7 665.08H1025.4" stroke-width="2.2"/><path d="M994.45 658.48L996.36 661.78L1000.17 661.78L998.26 665.08L1000.17 668.38L996.36 668.38L994.45 671.68L992.54 668.38L988.73 668.38L990.64 665.08L988.73 661.78L992.54 661.78z" stroke-width="2.35"/></g>
<text x="1029.9" y="671.68">QHDBO</text>
<g stroke="#0000ff" fill="none"><path d="M963.7 687.74H1025.4" stroke-width="2.2"/><path d="M988.25 687.74a6.2 6.2 0 1 0 12.4 0a6.2 6.2 0 1 0 -12.4 0z" stroke-width="2.15"/></g>
<text x="1029.9" y="694.34">MDBO</text>
<g stroke="#00ffff" fill="none"><path d="M963.7 710.4H1025.4" stroke-width="2.2"/><path d="M994.45 704.5v11.8M988.55 710.4h11.8M990.28 706.23l8.34 8.34M990.28 714.57l8.34 -8.34" stroke-width="2.4"/></g>
<text x="1029.9" y="717">EDBO</text>
</g>
</g>
<g>
<rect x="1250" y="566.7" width="452.9" height="420.3" fill="#fff" stroke="#262626" stroke-width="2.2"/>
<path d="M1250 987v-5.6M1250 566.7v5.6M1325.48 987v-5.6M1325.48 566.7v5.6M1400.97 987v-5.6M1400.97 566.7v5.6M1476.45 987v-5.6M1476.45 566.7v5.6M1551.93 987v-5.6M1551.93 566.7v5.6M1627.42 987v-5.6M1627.42 566.7v5.6M1702.9 987v-5.6M1702.9 566.7v5.6M1250 987h5.6M1702.9 987h-5.6M1250 902.94h5.6M1702.9 902.94h-5.6M1250 818.88h5.6M1702.9 818.88h-5.6M1250 734.82h5.6M1702.9 734.82h-5.6M1250 650.76h5.6M1702.9 650.76h-5.6M1250 566.7h5.6M1702.9 566.7h-5.6" stroke="#262626" stroke-width="2.2" fill="none"/>
<g fill="#262626" stroke="#262626" stroke-width="0.4">
<g font-size="20.5" text-anchor="middle">
<text transform="translate(1249.5 1016.8) scale(1 1.03)">0</text>
<text transform="translate(1324.98 1016.8) scale(1 1.03)">0.5</text>
<text transform="translate(1400.47 1016.8) scale(1 1.03)">1</text>
<text transform="translate(1475.95 1016.8) scale(1 1.03)">1.5</text>
<text transform="translate(1551.43 1016.8) scale(1 1.03)">2</text>
<text transform="translate(1626.92 1016.8) scale(1 1.03)">2.5</text>
<text transform="translate(1702.4 1016.8) scale(1 1.03)">3</text>
</g>
<g font-size="20.5" text-anchor="end">
<text transform="translate(1240.5 995.2) scale(1 1.03)">-0.4</text>
<text transform="translate(1240.5 911.14) scale(1 1.03)">-0.2</text>
<text transform="translate(1240.5 827.08) scale(1 1.03)">0</text>
<text transform="translate(1240.5 743.02) scale(1 1.03)">0.2</text>
<text transform="translate(1240.5 658.96) scale(1 1.03)">0.4</text>
<text transform="translate(1240.5 574.9) scale(1 1.03)">0.6</text>
</g>
<text x="1654.3" y="1055.4" font-size="23.5" stroke="none">×</text>
<text x="1702.6" y="1052" font-size="20.3" text-anchor="end">10<tspan dy="-10.3" font-size="15.6">5</tspan></text>
<text transform="translate(1475.45 1047.2) scale(1 1.015)" font-size="22.5" text-anchor="middle">FEs</text>
<text transform="translate(1192.68 776.85) rotate(-90) scale(1 1.015)" font-size="22.5" text-anchor="middle" letter-spacing="0.2">log(Average best-so-far)</text>
</g>
<text transform="translate(1476.15 557.5) scale(1 1.0)" font-size="22.6" fill="#000" stroke="#000" stroke-width="0.4" text-anchor="middle">F12</text>
<g fill="none">
<g stroke="#000000">
<polyline points="1254.15,585.67 1295.29,751 1317.93,784.33 1340.58,807.33 1363.22,815.67 1385.87,826.33 1408.52,844 1431.16,855 1453.81,870 1476.45,881.67 1499.1,891.67 1521.74,898 1544.38,903.33 1567.03,913 1589.68,920 1612.32,928.33 1634.97,933 1657.61,939.67 1680.26,950.67 1702.9,954.67" stroke-width="2.2" stroke-linejoin="round"/>
<path d="M1249.15 580.67h10v10h-10zM1290.29 746h10v10h-10zM1312.93 779.33h10v10h-10zM1335.58 802.33h10v10h-10zM1358.22 810.67h10v10h-10zM1380.87 821.33h10v10h-10zM1403.52 839h10v10h-10zM1426.16 850h10v10h-10zM1448.81 865h10v10h-10zM1471.45 876.67h10v10h-10zM1494.1 886.67h10v10h-10zM1516.74 893h10v10h-10zM1539.38 898.33h10v10h-10zM1562.03 908h10v10h-10zM1584.68 915h10v10h-10zM1607.32 923.33h10v10h-10zM1629.97 928h10v10h-10zM1652.61 934.67h10v10h-10zM1675.26 945.67h10v10h-10zM1697.9 949.67h10v10h-10z" stroke-width="2.15"/>
</g>
<g stroke="#ff00ff">
<polyline points="1254.15,578.33 1295.29,662.67 1317.93,679.67 1340.58,691.33 1363.22,692.33 1385.87,703 1408.52,709.67 1431.16,714.33 1453.81,714.33 1476.45,721.33 1499.1,727.33 1521.74,728 1544.38,737 1567.03,738 1589.68,738 1612.32,750.67 1634.97,752.67 1657.61,753.33 1680.26,771.33 1702.9,786.67" stroke-width="2.2" stroke-linejoin="round"/>
<path d="M1254.15 571.53L1255.68 576.23L1260.62 576.23L1256.62 579.14L1258.15 583.83L1254.15 580.93L1250.15 583.83L1251.68 579.14L1247.68 576.23L1252.62 576.23zM1295.29 655.87L1296.82 660.57L1301.76 660.57L1297.76 663.47L1299.29 668.17L1295.29 665.26L1291.29 668.17L1292.82 663.47L1288.82 660.57L1293.76 660.57zM1317.93 672.87L1319.46 677.57L1324.4 677.57L1320.41 680.47L1321.93 685.17L1317.93 682.26L1313.94 685.17L1315.46 680.47L1311.47 677.57L1316.41 677.57zM1340.58 684.53L1342.11 689.23L1347.05 689.23L1343.05 692.14L1344.58 696.83L1340.58 693.93L1336.58 696.83L1338.11 692.14L1334.11 689.23L1339.05 689.23zM1363.22 685.53L1364.75 690.23L1369.69 690.23L1365.7 693.14L1367.22 697.83L1363.22 694.93L1359.23 697.83L1360.75 693.14L1356.76 690.23L1361.7 690.23zM1385.87 696.2L1387.4 700.9L1392.34 700.9L1388.34 703.8L1389.87 708.5L1385.87 705.6L1381.87 708.5L1383.4 703.8L1379.4 700.9L1384.34 700.9zM1408.52 702.87L1410.04 707.57L1414.98 707.57L1410.99 710.47L1412.51 715.17L1408.52 712.26L1404.52 715.17L1406.04 710.47L1402.05 707.57L1406.99 707.57zM1431.16 707.53L1432.69 712.23L1437.63 712.23L1433.63 715.14L1435.16 719.83L1431.16 716.93L1427.16 719.83L1428.69 715.14L1424.69 712.23L1429.63 712.23zM1453.81 707.53L1455.33 712.23L1460.27 712.23L1456.28 715.14L1457.8 719.83L1453.81 716.93L1449.81 719.83L1451.33 715.14L1447.34 712.23L1452.28 712.23zM1476.45 714.53L1477.98 719.23L1482.92 719.23L1478.92 722.14L1480.45 726.83L1476.45 723.93L1472.45 726.83L1473.98 722.14L1469.98 719.23L1474.92 719.23zM1499.1 720.53L1500.62 725.23L1505.56 725.23L1501.57 728.14L1503.09 732.83L1499.1 729.93L1495.1 732.83L1496.62 728.14L1492.63 725.23L1497.57 725.23zM1521.74 721.2L1523.27 725.9L1528.21 725.9L1524.21 728.8L1525.74 733.5L1521.74 730.6L1517.74 733.5L1519.27 728.8L1515.27 725.9L1520.21 725.9zM1544.38 730.2L1545.91 734.9L1550.85 734.9L1546.86 737.8L1548.38 742.5L1544.38 739.6L1540.39 742.5L1541.91 737.8L1537.92 734.9L1542.86 734.9zM1567.03 731.2L1568.56 735.9L1573.5 735.9L1569.5 738.8L1571.03 743.5L1567.03 740.6L1563.03 743.5L1564.56 738.8L1560.56 735.9L1565.5 735.9zM1589.68 731.2L1591.2 735.9L1596.14 735.9L1592.15 738.8L1593.67 743.5L1589.68 740.6L1585.68 743.5L1587.2 738.8L1583.21 735.9L1588.15 735.9zM1612.32 743.87L1613.85 748.57L1618.79 748.57L1614.79 751.47L1616.32 756.17L1612.32 753.26L1608.32 756.17L1609.85 751.47L1605.85 748.57L1610.79 748.57zM1634.97 745.87L1636.49 750.57L1641.43 750.57L1637.44 753.47L1638.96 758.17L1634.97 755.26L1630.97 758.17L1632.49 753.47L1628.5 750.57L1633.44 750.57zM1657.61 746.53L1659.14 751.23L1664.08 751.23L1660.08 754.14L1661.61 758.83L1657.61 755.93L1653.61 758.83L1655.14 754.14L1651.14 751.23L1656.08 751.23zM1680.26 764.53L1681.78 769.23L1686.72 769.23L1682.73 772.14L1684.25 776.83L1680.26 773.93L1676.26 776.83L1677.78 772.14L1673.79 769.23L1678.73 769.23zM1702.9 779.87L1704.43 784.57L1709.37 784.57L1705.37 787.47L1706.9 792.17L1702.9 789.26L1698.9 792.17L1700.43 787.47L1696.43 784.57L1701.37 784.57z" stroke-width="2.15" fill="#ff00ff" fill-opacity="0.5"/>
</g>
<g stroke="#00ff00">
<polyline points="1254.15,578.33 1295.29,687.33 1317.93,715.67 1340.58,751.67 1363.22,769.33 1385.87,782 1408.52,794.67 1431.16,800.67 1453.81,802.67 1476.45,816.67 1499.1,825.67 1521.74,827.33 1544.38,833 1567.03,835.67 1589.68,845 1612.32,851.33 1634.97,852.33 1657.61,854 1680.26,855.33 1702.9,857" stroke-width="2.2" stroke-linejoin="round"/>
<path d="M1254.15 570.13L1260.55 578.33L1254.15 586.53L1247.75 578.33zM1295.29 679.13L1301.69 687.33L1295.29 695.53L1288.89 687.33zM1317.93 707.47L1324.34 715.67L1317.93 723.87L1311.53 715.67zM1340.58 743.47L1346.98 751.67L1340.58 759.87L1334.18 751.67zM1363.22 761.13L1369.62 769.33L1363.22 777.53L1356.82 769.33zM1385.87 773.8L1392.27 782L1385.87 790.2L1379.47 782zM1408.52 786.47L1414.92 794.67L1408.52 802.87L1402.12 794.67zM1431.16 792.47L1437.56 800.67L1431.16 808.87L1424.76 800.67zM1453.81 794.47L1460.21 802.67L1453.81 810.87L1447.4 802.67zM1476.45 808.47L1482.85 816.67L1476.45 824.87L1470.05 816.67zM1499.1 817.47L1505.5 825.67L1499.1 833.87L1492.69 825.67zM1521.74 819.13L1528.14 827.33L1521.74 835.53L1515.34 827.33zM1544.38 824.8L1550.79 833L1544.38 841.2L1537.98 833zM1567.03 827.47L1573.43 835.67L1567.03 843.87L1560.63 835.67zM1589.68 836.8L1596.08 845L1589.68 853.2L1583.28 845zM1612.32 843.13L1618.72 851.33L1612.32 859.53L1605.92 851.33zM1634.97 844.13L1641.37 852.33L1634.97 860.53L1628.57 852.33zM1657.61 845.8L1664.01 854L1657.61 862.2L1651.21 854zM1680.26 847.13L1686.66 855.33L1680.26 863.53L1673.86 855.33zM1702.9 848.8L1709.3 857L1702.9 865.2L1696.5 857z" stroke-width="2.15"/>
</g>
<g stroke="#ff0000">
<polyline points="1254.15,584 1295.29,619.67 1317.93,628.67 1340.58,635.67 1363.22,637.33 1385.87,641 1408.52,643.67 1431.16,646.33 1453.81,648 1476.45,649.33 1499.1,651 1521.74,651.67 1544.38,654 1567.03,655.67 1589.68,656.67 1612.32,658 1634.97,664.67 1657.61,674 1680.26,697 1702.9,715" stroke-width="2.2" stroke-linejoin="round"/>
<path d="M1254.15 577.4L1256.06 580.7L1259.87 580.7L1257.96 584L1259.87 587.3L1256.06 587.3L1254.15 590.6L1252.25 587.3L1248.44 587.3L1250.34 584L1248.44 580.7L1252.25 580.7zM1295.29 613.07L1297.2 616.37L1301.01 616.37L1299.1 619.67L1301.01 622.97L1297.2 622.97L1295.29 626.27L1293.38 622.97L1289.57 622.97L1291.48 619.67L1289.57 616.37L1293.38 616.37zM1317.93 622.07L1319.84 625.37L1323.65 625.37L1321.75 628.67L1323.65 631.97L1319.84 631.97L1317.93 635.27L1316.03 631.97L1312.22 631.97L1314.12 628.67L1312.22 625.37L1316.03 625.37zM1340.58 629.07L1342.49 632.37L1346.3 632.37L1344.39 635.67L1346.3 638.97L1342.49 638.97L1340.58 642.27L1338.67 638.97L1334.86 638.97L1336.77 635.67L1334.86 632.37L1338.67 632.37zM1363.22 630.73L1365.13 634.03L1368.94 634.03L1367.04 637.33L1368.94 640.63L1365.13 640.63L1363.22 643.93L1361.32 640.63L1357.51 640.63L1359.41 637.33L1357.51 634.03L1361.32 634.03zM1385.87 634.4L1387.78 637.7L1391.59 637.7L1389.68 641L1391.59 644.3L1387.78 644.3L1385.87 647.6L1383.96 644.3L1380.15 644.3L1382.06 641L1380.15 637.7L1383.96 637.7zM1408.52 637.07L1410.42 640.37L1414.23 640.37L1412.33 643.67L1414.23 646.97L1410.42 646.97L1408.52 650.27L1406.61 646.97L1402.8 646.97L1404.7 643.67L1402.8 640.37L1406.61 640.37zM1431.16 639.73L1433.07 643.03L1436.88 643.03L1434.97 646.33L1436.88 649.63L1433.07 649.63L1431.16 652.93L1429.25 649.63L1425.44 649.63L1427.35 646.33L1425.44 643.03L1429.25 643.03zM1453.81 641.4L1455.71 644.7L1459.52 644.7L1457.62 648L1459.52 651.3L1455.71 651.3L1453.81 654.6L1451.9 651.3L1448.09 651.3L1449.99 648L1448.09 644.7L1451.9 644.7zM1476.45 642.73L1478.36 646.03L1482.17 646.03L1480.26 649.33L1482.17 652.63L1478.36 652.63L1476.45 655.93L1474.54 652.63L1470.73 652.63L1472.64 649.33L1470.73 646.03L1474.54 646.03zM1499.1 644.4L1501 647.7L1504.81 647.7L1502.91 651L1504.81 654.3L1501 654.3L1499.1 657.6L1497.19 654.3L1493.38 654.3L1495.28 651L1493.38 647.7L1497.19 647.7zM1521.74 645.07L1523.65 648.37L1527.46 648.37L1525.55 651.67L1527.46 654.97L1523.65 654.97L1521.74 658.27L1519.83 654.97L1516.02 654.97L1517.93 651.67L1516.02 648.37L1519.83 648.37zM1544.38 647.4L1546.29 650.7L1550.1 650.7L1548.2 654L1550.1 657.3L1546.29 657.3L1544.38 660.6L1542.48 657.3L1538.67 657.3L1540.57 654L1538.67 650.7L1542.48 650.7zM1567.03 649.07L1568.94 652.37L1572.75 652.37L1570.84 655.67L1572.75 658.97L1568.94 658.97L1567.03 662.27L1565.12 658.97L1561.31 658.97L1563.22 655.67L1561.31 652.37L1565.12 652.37zM1589.68 650.07L1591.58 653.37L1595.39 653.37L1593.49 656.67L1595.39 659.97L1591.58 659.97L1589.68 663.27L1587.77 659.97L1583.96 659.97L1585.86 656.67L1583.96 653.37L1587.77 653.37zM1612.32 651.4L1614.23 654.7L1618.04 654.7L1616.13 658L1618.04 661.3L1614.23 661.3L1612.32 664.6L1610.41 661.3L1606.6 661.3L1608.51 658L1606.6 654.7L1610.41 654.7zM1634.97 658.07L1636.87 661.37L1640.68 661.37L1638.78 664.67L1640.68 667.97L1636.87 667.97L1634.97 671.27L1633.06 667.97L1629.25 667.97L1631.15 664.67L1629.25 661.37L1633.06 661.37zM1657.61 667.4L1659.52 670.7L1663.33 670.7L1661.42 674L1663.33 677.3L1659.52 677.3L1657.61 680.6L1655.7 677.3L1651.89 677.3L1653.8 674L1651.89 670.7L1655.7 670.7zM1680.26 690.4L1682.16 693.7L1685.97 693.7L1684.07 697L1685.97 700.3L1682.16 700.3L1680.26 703.6L1678.35 700.3L1674.54 700.3L1676.44 697L1674.54 693.7L1678.35 693.7zM1702.9 708.4L1704.81 711.7L1708.62 711.7L1706.71 715L1708.62 718.3L1704.81 718.3L1702.9 721.6L1700.99 718.3L1697.18 718.3L1699.09 715L1697.18 711.7L1700.99 711.7z" stroke-width="2.35"/>
</g>
<g stroke="#0000ff">
<polyline points="1254.15,579.67 1295.29,680.67 1317.93,699 1340.58,722.67 1363.22,733 1385.87,744.33 1408.52,750.33 1431.16,757.33 1453.81,760 1476.45,763.33 1499.1,769.67 1521.74,774.67 1544.38,776.67 1567.03,779 1589.68,787.67 1612.32,789.67 1634.97,795.33 1657.61,797.33 1680.26,802.33 1702.9,813.67" stroke-width="2.2" stroke-linejoin="round"/>
<path d="M1247.95 579.67a6.2 6.2 0 1 0 12.4 0a6.2 6.2 0 1 0 -12.4 0zM1289.09 680.67a6.2 6.2 0 1 0 12.4 0a6.2 6.2 0 1 0 -12.4 0zM1311.73 699a6.2 6.2 0 1 0 12.4 0a6.2 6.2 0 1 0 -12.4 0zM1334.38 722.67a6.2 6.2 0 1 0 12.4 0a6.2 6.2 0 1 0 -12.4 0zM1357.02 733a6.2 6.2 0 1 0 12.4 0a6.2 6.2 0 1 0 -12.4 0zM1379.67 744.33a6.2 6.2 0 1 0 12.4 0a6.2 6.2 0 1 0 -12.4 0zM1402.32 750.33a6.2 6.2 0 1 0 12.4 0a6.2 6.2 0 1 0 -12.4 0zM1424.96 757.33a6.2 6.2 0 1 0 12.4 0a6.2 6.2 0 1 0 -12.4 0zM1447.61 760a6.2 6.2 0 1 0 12.4 0a6.2 6.2 0 1 0 -12.4 0zM1470.25 763.33a6.2 6.2 0 1 0 12.4 0a6.2 6.2 0 1 0 -12.4 0zM1492.89 769.67a6.2 6.2 0 1 0 12.4 0a6.2 6.2 0 1 0 -12.4 0zM1515.54 774.67a6.2 6.2 0 1 0 12.4 0a6.2 6.2 0 1 0 -12.4 0zM1538.18 776.67a6.2 6.2 0 1 0 12.4 0a6.2 6.2 0 1 0 -12.4 0zM1560.83 779a6.2 6.2 0 1 0 12.4 0a6.2 6.2 0 1 0 -12.4 0zM1583.48 787.67a6.2 6.2 0 1 0 12.4 0a6.2 6.2 0 1 0 -12.4 0zM1606.12 789.67a6.2 6.2 0 1 0 12.4 0a6.2 6.2 0 1 0 -12.4 0zM1628.77 795.33a6.2 6.2 0 1 0 12.4 0a6.2 6.2 0 1 0 -12.4 0zM1651.41 797.33a6.2 6.2 0 1 0 12.4 0a6.2 6.2 0 1 0 -12.4 0zM1674.06 802.33a6.2 6.2 0 1 0 12.4 0a6.2 6.2 0 1 0 -12.4 0zM1696.7 813.67a6.2 6.2 0 1 0 12.4 0a6.2 6.2 0 1 0 -12.4 0z" stroke-width="2.15"/>
</g>
<g stroke="#00ffff">
<polyline points="1254.15,569.67 1295.29,648.33 1317.93,661.67 1340.58,674 1363.22,688 1385.87,692.33 1408.52,694 1431.16,701.33 1453.81,704 1476.45,710.67 1499.1,712.33 1521.74,715.67 1544.38,717 1567.03,720 1589.68,721.67 1612.32,722 1634.97,722.33 1657.61,727 1680.26,731 1702.9,741.33" stroke-width="2.2" stroke-linejoin="round"/>
<path d="M1254.15 563.77v11.8M1248.25 569.67h11.8M1249.98 565.49l8.34 8.34M1249.98 573.84l8.34 -8.34M1295.29 642.43v11.8M1289.39 648.33h11.8M1291.12 644.16l8.34 8.34M1291.12 652.51l8.34 -8.34M1317.93 655.77v11.8M1312.03 661.67h11.8M1313.76 657.49l8.34 8.34M1313.76 665.84l8.34 -8.34M1340.58 668.1v11.8M1334.68 674h11.8M1336.41 669.83l8.34 8.34M1336.41 678.17l8.34 -8.34M1363.22 682.1v11.8M1357.32 688h11.8M1359.05 683.83l8.34 8.34M1359.05 692.17l8.34 -8.34M1385.87 686.43v11.8M1379.97 692.33h11.8M1381.7 688.16l8.34 8.34M1381.7 696.51l8.34 -8.34M1408.52 688.1v11.8M1402.62 694h11.8M1404.34 689.83l8.34 8.34M1404.34 698.17l8.34 -8.34M1431.16 695.43v11.8M1425.26 701.33h11.8M1426.99 697.16l8.34 8.34M1426.99 705.51l8.34 -8.34M1453.81 698.1v11.8M1447.9 704h11.8M1449.63 699.83l8.34 8.34M1449.63 708.17l8.34 -8.34M1476.45 704.77v11.8M1470.55 710.67h11.8M1472.28 706.49l8.34 8.34M1472.28 714.84l8.34 -8.34M1499.1 706.43v11.8M1493.19 712.33h11.8M1494.92 708.16l8.34 8.34M1494.92 716.51l8.34 -8.34M1521.74 709.77v11.8M1515.84 715.67h11.8M1517.57 711.49l8.34 8.34M1517.57 719.84l8.34 -8.34M1544.38 711.1v11.8M1538.48 717h11.8M1540.21 712.83l8.34 8.34M1540.21 721.17l8.34 -8.34M1567.03 714.1v11.8M1561.13 720h11.8M1562.86 715.83l8.34 8.34M1562.86 724.17l8.34 -8.34M1589.68 715.77v11.8M1583.78 721.67h11.8M1585.5 717.49l8.34 8.34M1585.5 725.84l8.34 -8.34M1612.32 716.1v11.8M1606.42 722h11.8M1608.15 717.83l8.34 8.34M1608.15 726.17l8.34 -8.34M1634.97 716.43v11.8M1629.07 722.33h11.8M1630.79 718.16l8.34 8.34M1630.79 726.51l8.34 -8.34M1657.61 721.1v11.8M1651.71 727h11.8M1653.44 722.83l8.34 8.34M1653.44 731.17l8.34 -8.34M1680.26 725.1v11.8M1674.36 731h11.8M1676.08 726.83l8.34 8.34M1676.08 735.17l8.34 -8.34M1702.9 735.43v11.8M1697 741.33h11.8M1698.73 737.16l8.34 8.34M1698.73 745.51l8.34 -8.34" stroke-width="2.4"/>
</g>
</g>
<rect x="1263.95" y="833.2" width="140.3" height="141.2" fill="#fff" stroke="#262626" stroke-width="2.0"/>
<g font-size="16.3" fill="#000" stroke="#000" stroke-width="0.4" letter-spacing="0.25">
<g stroke="#000000" fill="none"><path d="M1270.45 847.2H1332.15" stroke-width="2.2"/><path d="M1296.2 842.2h10v10h-10z" stroke-width="2.15"/></g>
<text x="1336.65" y="853.8">MSDBO</text>
<g stroke="#ff00ff" fill="none"><path d="M1270.45 869.86H1332.15" stroke-width="2.2"/><path d="M1301.2 863.06L1302.73 867.76L1307.67 867.76L1303.67 870.66L1305.2 875.36L1301.2 872.46L1297.2 875.36L1298.73 870.66L1294.73 867.76L1299.67 867.76z" stroke-width="2.15" fill="#ff00ff" fill-opacity="0.5"/></g>
<text x="1336.65" y="876.46">DBO</text>
<g stroke="#00ff00" fill="none"><path d="M1270.45 892.52H1332.15" stroke-width="2.2"/><path d="M1301.2 884.32L1307.6 892.52L1301.2 900.72L1294.8 892.52z" stroke-width="2.15"/></g>
<text x="1336.65" y="899.12">IDBO</text>
<g stroke="#ff0000" fill="none"><path d="M1270.45 915.18H1332.15" stroke-width="2.2"/><path d="M1301.2 908.58L1303.11 911.88L1306.92 911.88L1305.01 915.18L1306.92 918.48L1303.11 918.48L1301.2 921.78L1299.29 918.48L1295.48 918.48L1297.39 915.18L1295.48 911.88L1299.29 911.88z" stroke-width="2.35"/></g>
<text x="1336.65" y="921.78">QHDBO</text>
<g stroke="#0000ff" fill="none"><path d="M1270.45 937.84H1332.15" stroke-width="2.2"/><path d="M1295 937.84a6.2 6.2 0 1 0 12.4 0a6.2 6.2 0 1 0 -12.4 0z" stroke-width="2.15"/></g>
<text x="1336.65" y="944.44">MDBO</text>
<g stroke="#00ffff" fill="none"><path d="M1270.45 960.5H1332.15" stroke-width="2.2"/><path d="M1301.2 954.6v11.8M1295.3 960.5h11.8M1297.03 956.33l8.34 8.34M1297.03 964.67l8.34 -8.34" stroke-width="2.4"/></g>
<text x="1336.65" y="967.1">EDBO</text>
</g>
</g>
<g>
<rect x="83.1" y="1128.2" width="452.4" height="420.2" fill="#fff" stroke="#262626" stroke-width="2.2"/>
<path d="M83.1 1548.4v-5.6M83.1 1128.2v5.6M158.5 1548.4v-5.6M158.5 1128.2v5.6M233.9 1548.4v-5.6M233.9 1128.2v5.6M309.3 1548.4v-5.6M309.3 1128.2v5.6M384.7 1548.4v-5.6M384.7 1128.2v5.6M460.1 1548.4v-5.6M460.1 1128.2v5.6M535.5 1548.4v-5.6M535.5 1128.2v5.6M83.1 1548.4h5.6M535.5 1548.4h-5.6M83.1 1464.36h5.6M535.5 1464.36h-5.6M83.1 1380.32h5.6M535.5 1380.32h-5.6M83.1 1296.28h5.6M535.5 1296.28h-5.6M83.1 1212.24h5.6M535.5 1212.24h-5.6M83.1 1128.2h5.6M535.5 1128.2h-5.6" stroke="#262626" stroke-width="2.2" fill="none"/>
<g fill="#262626" stroke="#262626" stroke-width="0.4">
<g font-size="20.5" text-anchor="middle">
<text transform="translate(82.6 1578.2) scale(1 1.03)">0</text>
<text transform="translate(158 1578.2) scale(1 1.03)">0.5</text>
<text transform="translate(233.4 1578.2) scale(1 1.03)">1</text>
<text transform="translate(308.8 1578.2) scale(1 1.03)">1.5</text>
<text transform="translate(384.2 1578.2) scale(1 1.03)">2</text>
<text transform="translate(459.6 1578.2) scale(1 1.03)">2.5</text>
<text transform="translate(535 1578.2) scale(1 1.03)">3</text>
</g>
<g font-size="20.5" text-anchor="end">
<text transform="translate(73.6 1556.6) scale(1 1.03)">-0.4</text>
<text transform="translate(73.6 1472.56) scale(1 1.03)">-0.2</text>
<text transform="translate(73.6 1388.52) scale(1 1.03)">0</text>
<text transform="translate(73.6 1304.48) scale(1 1.03)">0.2</text>
<text transform="translate(73.6 1220.44) scale(1 1.03)">0.4</text>
<text transform="translate(73.6 1136.4) scale(1 1.03)">0.6</text>
</g>
<text x="486.9" y="1616.8" font-size="23.5" stroke="none">×</text>
<text x="535.2" y="1613.4" font-size="20.3" text-anchor="end">10<tspan dy="-10.3" font-size="15.6">5</tspan></text>
<text transform="translate(308.3 1608.6) scale(1 1.015)" font-size="22.5" text-anchor="middle">FEs</text>
<text transform="translate(25.78 1338.3) rotate(-90) scale(1 1.015)" font-size="22.5" text-anchor="middle" letter-spacing="0.2">log(Average best-so-far)</text>
</g>
<text transform="translate(309 1119) scale(1 1.0)" font-size="22.6" fill="#000" stroke="#000" stroke-width="0.4" text-anchor="middle">F13</text>
<g fill="none">
<g stroke="#000000">
<polyline points="87.25,1234.33 128.34,1464 150.96,1476.67 173.58,1485 196.2,1490.33 218.82,1495.33 241.44,1500 264.06,1503 286.68,1505.33 309.3,1508 331.92,1508.67 354.54,1512 377.16,1519.33 399.78,1524.33 422.4,1531.67 445.02,1535 467.64,1538.33 490.26,1540.33 512.88,1541 535.5,1542.33" stroke-width="2.2" stroke-linejoin="round"/>
<path d="M82.25 1229.33h10v10h-10zM123.34 1459h10v10h-10zM145.96 1471.67h10v10h-10zM168.58 1480h10v10h-10zM191.2 1485.33h10v10h-10zM213.82 1490.33h10v10h-10zM236.44 1495h10v10h-10zM259.06 1498h10v10h-10zM281.68 1500.33h10v10h-10zM304.3 1503h10v10h-10zM326.92 1503.67h10v10h-10zM349.54 1507h10v10h-10zM372.16 1514.33h10v10h-10zM394.78 1519.33h10v10h-10zM417.4 1526.67h10v10h-10zM440.02 1530h10v10h-10zM462.64 1533.33h10v10h-10zM485.26 1535.33h10v10h-10zM507.88 1536h10v10h-10zM530.5 1537.33h10v10h-10z" stroke-width="2.15"/>
</g>
<g stroke="#ff00ff">
<polyline points="87.25,1136.67 128.34,1181.67 150.96,1181.67 173.58,1181.67 196.2,1181.67 218.82,1181.67 241.44,1181.67 264.06,1181.67 286.68,1181.67 309.3,1181.67 331.92,1181.67 354.54,1181.67 377.16,1188.67 399.78,1243.33 422.4,1298.33 445.02,1337.33 467.64,1385 490.26,1423.33 512.88,1444.33 535.5,1484" stroke-width="2.2" stroke-linejoin="round"/>
<path d="M87.25 1129.87L88.77 1134.57L93.71 1134.57L89.72 1137.47L91.24 1142.17L87.25 1139.26L83.25 1142.17L84.78 1137.47L80.78 1134.57L85.72 1134.57zM128.34 1174.87L129.87 1179.57L134.81 1179.57L130.81 1182.47L132.34 1187.17L128.34 1184.26L124.34 1187.17L125.87 1182.47L121.87 1179.57L126.81 1179.57zM150.96 1174.87L152.49 1179.57L157.43 1179.57L153.43 1182.47L154.96 1187.17L150.96 1184.26L146.96 1187.17L148.49 1182.47L144.49 1179.57L149.43 1179.57zM173.58 1174.87L175.11 1179.57L180.05 1179.57L176.05 1182.47L177.58 1187.17L173.58 1184.26L169.58 1187.17L171.11 1182.47L167.11 1179.57L172.05 1179.57zM196.2 1174.87L197.73 1179.57L202.67 1179.57L198.67 1182.47L200.2 1187.17L196.2 1184.26L192.2 1187.17L193.73 1182.47L189.73 1179.57L194.67 1179.57zM218.82 1174.87L220.35 1179.57L225.29 1179.57L221.29 1182.47L222.82 1187.17L218.82 1184.26L214.82 1187.17L216.35 1182.47L212.35 1179.57L217.29 1179.57zM241.44 1174.87L242.97 1179.57L247.91 1179.57L243.91 1182.47L245.44 1187.17L241.44 1184.26L237.44 1187.17L238.97 1182.47L234.97 1179.57L239.91 1179.57zM264.06 1174.87L265.59 1179.57L270.53 1179.57L266.53 1182.47L268.06 1187.17L264.06 1184.26L260.06 1187.17L261.59 1182.47L257.59 1179.57L262.53 1179.57zM286.68 1174.87L288.21 1179.57L293.15 1179.57L289.15 1182.47L290.68 1187.17L286.68 1184.26L282.68 1187.17L284.21 1182.47L280.21 1179.57L285.15 1179.57zM309.3 1174.87L310.83 1179.57L315.77 1179.57L311.77 1182.47L313.3 1187.17L309.3 1184.26L305.3 1187.17L306.83 1182.47L302.83 1179.57L307.77 1179.57zM331.92 1174.87L333.45 1179.57L338.39 1179.57L334.39 1182.47L335.92 1187.17L331.92 1184.26L327.92 1187.17L329.45 1182.47L325.45 1179.57L330.39 1179.57zM354.54 1174.87L356.07 1179.57L361.01 1179.57L357.01 1182.47L358.54 1187.17L354.54 1184.26L350.54 1187.17L352.07 1182.47L348.07 1179.57L353.01 1179.57zM377.16 1181.87L378.69 1186.57L383.63 1186.57L379.63 1189.47L381.16 1194.17L377.16 1191.26L373.16 1194.17L374.69 1189.47L370.69 1186.57L375.63 1186.57zM399.78 1236.53L401.31 1241.23L406.25 1241.23L402.25 1244.14L403.78 1248.83L399.78 1245.93L395.78 1248.83L397.31 1244.14L393.31 1241.23L398.25 1241.23zM422.4 1291.53L423.93 1296.23L428.87 1296.23L424.87 1299.14L426.4 1303.83L422.4 1300.93L418.4 1303.83L419.93 1299.14L415.93 1296.23L420.87 1296.23zM445.02 1330.53L446.55 1335.23L451.49 1335.23L447.49 1338.14L449.02 1342.83L445.02 1339.93L441.02 1342.83L442.55 1338.14L438.55 1335.23L443.49 1335.23zM467.64 1378.2L469.17 1382.9L474.11 1382.9L470.11 1385.8L471.64 1390.5L467.64 1387.6L463.64 1390.5L465.17 1385.8L461.17 1382.9L466.11 1382.9zM490.26 1416.53L491.79 1421.23L496.73 1421.23L492.73 1424.14L494.26 1428.83L490.26 1425.93L486.26 1428.83L487.79 1424.14L483.79 1421.23L488.73 1421.23zM512.88 1437.53L514.41 1442.23L519.35 1442.23L515.35 1445.14L516.88 1449.83L512.88 1446.93L508.88 1449.83L510.41 1445.14L506.41 1442.23L511.35 1442.23zM535.5 1477.2L537.03 1481.9L541.97 1481.9L537.97 1484.8L539.5 1489.5L535.5 1486.6L531.5 1489.5L533.03 1484.8L529.03 1481.9L533.97 1481.9z" stroke-width="2.15" fill="#ff00ff" fill-opacity="0.5"/>
</g>
<g stroke="#00ff00">
<polyline points="87.25,1350 128.34,1458.33 150.96,1466.67 173.58,1468 196.2,1471.67 218.82,1474 241.44,1477.33 264.06,1478 286.68,1479.33 309.3,1482 331.92,1482.33 354.54,1485 377.16,1486.67 399.78,1487.33 422.4,1489.33 445.02,1490.67 467.64,1491.67 490.26,1492.67 512.88,1495.67 535.5,1497.67" stroke-width="2.2" stroke-linejoin="round"/>
<path d="M87.25 1341.8L93.65 1350L87.25 1358.2L80.85 1350zM128.34 1450.13L134.74 1458.33L128.34 1466.53L121.94 1458.33zM150.96 1458.47L157.36 1466.67L150.96 1474.87L144.56 1466.67zM173.58 1459.8L179.98 1468L173.58 1476.2L167.18 1468zM196.2 1463.47L202.6 1471.67L196.2 1479.87L189.8 1471.67zM218.82 1465.8L225.22 1474L218.82 1482.2L212.42 1474zM241.44 1469.13L247.84 1477.33L241.44 1485.53L235.04 1477.33zM264.06 1469.8L270.46 1478L264.06 1486.2L257.66 1478zM286.68 1471.13L293.08 1479.33L286.68 1487.53L280.28 1479.33zM309.3 1473.8L315.7 1482L309.3 1490.2L302.9 1482zM331.92 1474.13L338.32 1482.33L331.92 1490.53L325.52 1482.33zM354.54 1476.8L360.94 1485L354.54 1493.2L348.14 1485zM377.16 1478.47L383.56 1486.67L377.16 1494.87L370.76 1486.67zM399.78 1479.13L406.18 1487.33L399.78 1495.53L393.38 1487.33zM422.4 1481.13L428.8 1489.33L422.4 1497.53L416 1489.33zM445.02 1482.47L451.42 1490.67L445.02 1498.87L438.62 1490.67zM467.64 1483.47L474.04 1491.67L467.64 1499.87L461.24 1491.67zM490.26 1484.47L496.66 1492.67L490.26 1500.87L483.86 1492.67zM512.88 1487.47L519.28 1495.67L512.88 1503.87L506.48 1495.67zM535.5 1489.47L541.9 1497.67L535.5 1505.87L529.1 1497.67z" stroke-width="2.15"/>
</g>
<g stroke="#ff0000">
<polyline points="87.25,1226 128.34,1441.67 150.96,1450 173.58,1457 196.2,1460 218.82,1463.33 241.44,1465.33 264.06,1469 286.68,1470 309.3,1475.67 331.92,1479.33 354.54,1481.67 377.16,1483.33 399.78,1484.67 422.4,1486 445.02,1486.67 467.64,1488.33 490.26,1489 512.88,1490.33 535.5,1492.33" stroke-width="2.2" stroke-linejoin="round"/>
<path d="M87.25 1219.4L89.15 1222.7L92.96 1222.7L91.06 1226L92.96 1229.3L89.15 1229.3L87.25 1232.6L85.34 1229.3L81.53 1229.3L83.44 1226L81.53 1222.7L85.34 1222.7zM128.34 1435.07L130.25 1438.37L134.06 1438.37L132.15 1441.67L134.06 1444.97L130.25 1444.97L128.34 1448.27L126.43 1444.97L122.62 1444.97L124.53 1441.67L122.62 1438.37L126.43 1438.37zM150.96 1443.4L152.87 1446.7L156.68 1446.7L154.77 1450L156.68 1453.3L152.87 1453.3L150.96 1456.6L149.05 1453.3L145.24 1453.3L147.15 1450L145.24 1446.7L149.05 1446.7zM173.58 1450.4L175.49 1453.7L179.3 1453.7L177.39 1457L179.3 1460.3L175.49 1460.3L173.58 1463.6L171.67 1460.3L167.86 1460.3L169.77 1457L167.86 1453.7L171.67 1453.7zM196.2 1453.4L198.11 1456.7L201.92 1456.7L200.01 1460L201.92 1463.3L198.11 1463.3L196.2 1466.6L194.29 1463.3L190.48 1463.3L192.39 1460L190.48 1456.7L194.29 1456.7zM218.82 1456.73L220.73 1460.03L224.54 1460.03L222.63 1463.33L224.54 1466.63L220.73 1466.63L218.82 1469.93L216.91 1466.63L213.1 1466.63L215.01 1463.33L213.1 1460.03L216.91 1460.03zM241.44 1458.73L243.35 1462.03L247.16 1462.03L245.25 1465.33L247.16 1468.63L243.35 1468.63L241.44 1471.93L239.53 1468.63L235.72 1468.63L237.63 1465.33L235.72 1462.03L239.53 1462.03zM264.06 1462.4L265.97 1465.7L269.78 1465.7L267.87 1469L269.78 1472.3L265.97 1472.3L264.06 1475.6L262.15 1472.3L258.34 1472.3L260.25 1469L258.34 1465.7L262.15 1465.7zM286.68 1463.4L288.59 1466.7L292.4 1466.7L290.49 1470L292.4 1473.3L288.59 1473.3L286.68 1476.6L284.77 1473.3L280.96 1473.3L282.87 1470L280.96 1466.7L284.77 1466.7zM309.3 1469.07L311.21 1472.37L315.02 1472.37L313.11 1475.67L315.02 1478.97L311.21 1478.97L309.3 1482.27L307.39 1478.97L303.58 1478.97L305.49 1475.67L303.58 1472.37L307.39 1472.37zM331.92 1472.73L333.83 1476.03L337.64 1476.03L335.73 1479.33L337.64 1482.63L333.83 1482.63L331.92 1485.93L330.01 1482.63L326.2 1482.63L328.11 1479.33L326.2 1476.03L330.01 1476.03zM354.54 1475.07L356.45 1478.37L360.26 1478.37L358.35 1481.67L360.26 1484.97L356.45 1484.97L354.54 1488.27L352.63 1484.97L348.82 1484.97L350.73 1481.67L348.82 1478.37L352.63 1478.37zM377.16 1476.73L379.07 1480.03L382.88 1480.03L380.97 1483.33L382.88 1486.63L379.07 1486.63L377.16 1489.93L375.25 1486.63L371.44 1486.63L373.35 1483.33L371.44 1480.03L375.25 1480.03zM399.78 1478.07L401.69 1481.37L405.5 1481.37L403.59 1484.67L405.5 1487.97L401.69 1487.97L399.78 1491.27L397.87 1487.97L394.06 1487.97L395.97 1484.67L394.06 1481.37L397.87 1481.37zM422.4 1479.4L424.31 1482.7L428.12 1482.7L426.21 1486L428.12 1489.3L424.31 1489.3L422.4 1492.6L420.49 1489.3L416.68 1489.3L418.59 1486L416.68 1482.7L420.49 1482.7zM445.02 1480.07L446.93 1483.37L450.74 1483.37L448.83 1486.67L450.74 1489.97L446.93 1489.97L445.02 1493.27L443.11 1489.97L439.3 1489.97L441.21 1486.67L439.3 1483.37L443.11 1483.37zM467.64 1481.73L469.55 1485.03L473.36 1485.03L471.45 1488.33L473.36 1491.63L469.55 1491.63L467.64 1494.93L465.73 1491.63L461.92 1491.63L463.83 1488.33L461.92 1485.03L465.73 1485.03zM490.26 1482.4L492.17 1485.7L495.98 1485.7L494.07 1489L495.98 1492.3L492.17 1492.3L490.26 1495.6L488.35 1492.3L484.54 1492.3L486.45 1489L484.54 1485.7L488.35 1485.7zM512.88 1483.73L514.79 1487.03L518.6 1487.03L516.69 1490.33L518.6 1493.63L514.79 1493.63L512.88 1496.93L510.97 1493.63L507.16 1493.63L509.07 1490.33L507.16 1487.03L510.97 1487.03zM535.5 1485.73L537.41 1489.03L541.22 1489.03L539.31 1492.33L541.22 1495.63L537.41 1495.63L535.5 1498.93L533.59 1495.63L529.78 1495.63L531.69 1492.33L529.78 1489.03L533.59 1489.03z" stroke-width="2.35"/>
</g>
<g stroke="#0000ff">
<polyline points="87.25,1349.33 128.34,1462.67 150.96,1468.33 173.58,1470 196.2,1473 218.82,1475.33 241.44,1476 264.06,1478.33 286.68,1479.33 309.3,1480 331.92,1480.67 354.54,1482.67 377.16,1484 399.78,1485 422.4,1486 445.02,1486.67 467.64,1486.67 490.26,1487.67 512.88,1488.33 535.5,1490" stroke-width="2.2" stroke-linejoin="round"/>
<path d="M81.05 1349.33a6.2 6.2 0 1 0 12.4 0a6.2 6.2 0 1 0 -12.4 0zM122.14 1462.67a6.2 6.2 0 1 0 12.4 0a6.2 6.2 0 1 0 -12.4 0zM144.76 1468.33a6.2 6.2 0 1 0 12.4 0a6.2 6.2 0 1 0 -12.4 0zM167.38 1470a6.2 6.2 0 1 0 12.4 0a6.2 6.2 0 1 0 -12.4 0zM190 1473a6.2 6.2 0 1 0 12.4 0a6.2 6.2 0 1 0 -12.4 0zM212.62 1475.33a6.2 6.2 0 1 0 12.4 0a6.2 6.2 0 1 0 -12.4 0zM235.24 1476a6.2 6.2 0 1 0 12.4 0a6.2 6.2 0 1 0 -12.4 0zM257.86 1478.33a6.2 6.2 0 1 0 12.4 0a6.2 6.2 0 1 0 -12.4 0zM280.48 1479.33a6.2 6.2 0 1 0 12.4 0a6.2 6.2 0 1 0 -12.4 0zM303.1 1480a6.2 6.2 0 1 0 12.4 0a6.2 6.2 0 1 0 -12.4 0zM325.72 1480.67a6.2 6.2 0 1 0 12.4 0a6.2 6.2 0 1 0 -12.4 0zM348.34 1482.67a6.2 6.2 0 1 0 12.4 0a6.2 6.2 0 1 0 -12.4 0zM370.96 1484a6.2 6.2 0 1 0 12.4 0a6.2 6.2 0 1 0 -12.4 0zM393.58 1485a6.2 6.2 0 1 0 12.4 0a6.2 6.2 0 1 0 -12.4 0zM416.2 1486a6.2 6.2 0 1 0 12.4 0a6.2 6.2 0 1 0 -12.4 0zM438.82 1486.67a6.2 6.2 0 1 0 12.4 0a6.2 6.2 0 1 0 -12.4 0zM461.44 1486.67a6.2 6.2 0 1 0 12.4 0a6.2 6.2 0 1 0 -12.4 0zM484.06 1487.67a6.2 6.2 0 1 0 12.4 0a6.2 6.2 0 1 0 -12.4 0zM506.68 1488.33a6.2 6.2 0 1 0 12.4 0a6.2 6.2 0 1 0 -12.4 0zM529.3 1490a6.2 6.2 0 1 0 12.4 0a6.2 6.2 0 1 0 -12.4 0z" stroke-width="2.15"/>
</g>
<g stroke="#00ffff">
<polyline points="87.25,1263.33 128.34,1432.67 150.96,1436.67 173.58,1440 196.2,1441.67 218.82,1444 241.44,1446 264.06,1447 286.68,1449.33 309.3,1450.67 331.92,1450.67 354.54,1451.67 377.16,1452 399.78,1453.33 422.4,1456 445.02,1456 467.64,1458.33 490.26,1460 512.88,1467.67 535.5,1488.33" stroke-width="2.2" stroke-linejoin="round"/>
<path d="M87.25 1257.43v11.8M81.35 1263.33h11.8M83.08 1259.16l8.34 8.34M83.08 1267.51l8.34 -8.34M128.34 1426.77v11.8M122.44 1432.67h11.8M124.17 1428.49l8.34 8.34M124.17 1436.84l8.34 -8.34M150.96 1430.77v11.8M145.06 1436.67h11.8M146.79 1432.49l8.34 8.34M146.79 1440.84l8.34 -8.34M173.58 1434.1v11.8M167.68 1440h11.8M169.41 1435.83l8.34 8.34M169.41 1444.17l8.34 -8.34M196.2 1435.77v11.8M190.3 1441.67h11.8M192.03 1437.49l8.34 8.34M192.03 1445.84l8.34 -8.34M218.82 1438.1v11.8M212.92 1444h11.8M214.65 1439.83l8.34 8.34M214.65 1448.17l8.34 -8.34M241.44 1440.1v11.8M235.54 1446h11.8M237.27 1441.83l8.34 8.34M237.27 1450.17l8.34 -8.34M264.06 1441.1v11.8M258.16 1447h11.8M259.89 1442.83l8.34 8.34M259.89 1451.17l8.34 -8.34M286.68 1443.43v11.8M280.78 1449.33h11.8M282.51 1445.16l8.34 8.34M282.51 1453.51l8.34 -8.34M309.3 1444.77v11.8M303.4 1450.67h11.8M305.13 1446.49l8.34 8.34M305.13 1454.84l8.34 -8.34M331.92 1444.77v11.8M326.02 1450.67h11.8M327.75 1446.49l8.34 8.34M327.75 1454.84l8.34 -8.34M354.54 1445.77v11.8M348.64 1451.67h11.8M350.37 1447.49l8.34 8.34M350.37 1455.84l8.34 -8.34M377.16 1446.1v11.8M371.26 1452h11.8M372.99 1447.83l8.34 8.34M372.99 1456.17l8.34 -8.34M399.78 1447.43v11.8M393.88 1453.33h11.8M395.61 1449.16l8.34 8.34M395.61 1457.51l8.34 -8.34M422.4 1450.1v11.8M416.5 1456h11.8M418.23 1451.83l8.34 8.34M418.23 1460.17l8.34 -8.34M445.02 1450.1v11.8M439.12 1456h11.8M440.85 1451.83l8.34 8.34M440.85 1460.17l8.34 -8.34M467.64 1452.43v11.8M461.74 1458.33h11.8M463.47 1454.16l8.34 8.34M463.47 1462.51l8.34 -8.34M490.26 1454.1v11.8M484.36 1460h11.8M486.09 1455.83l8.34 8.34M486.09 1464.17l8.34 -8.34M512.88 1461.77v11.8M506.98 1467.67h11.8M508.71 1463.49l8.34 8.34M508.71 1471.84l8.34 -8.34M535.5 1482.43v11.8M529.6 1488.33h11.8M531.33 1484.16l8.34 8.34M531.33 1492.51l8.34 -8.34" stroke-width="2.4"/>
</g>
</g>
<rect x="228" y="1226.4" width="140.3" height="141.2" fill="#fff" stroke="#262626" stroke-width="2.0"/>
<g font-size="16.3" fill="#000" stroke="#000" stroke-width="0.4" letter-spacing="0.25">
<g stroke="#000000" fill="none"><path d="M234.5 1240.4H296.2" stroke-width="2.2"/><path d="M260.25 1235.4h10v10h-10z" stroke-width="2.15"/></g>
<text x="300.7" y="1247">MSDBO</text>
<g stroke="#ff00ff" fill="none"><path d="M234.5 1263.06H296.2" stroke-width="2.2"/><path d="M265.25 1256.26L266.78 1260.96L271.72 1260.96L267.72 1263.86L269.25 1268.56L265.25 1265.66L261.25 1268.56L262.78 1263.86L258.78 1260.96L263.72 1260.96z" stroke-width="2.15" fill="#ff00ff" fill-opacity="0.5"/></g>
<text x="300.7" y="1269.66">DBO</text>
<g stroke="#00ff00" fill="none"><path d="M234.5 1285.72H296.2" stroke-width="2.2"/><path d="M265.25 1277.52L271.65 1285.72L265.25 1293.92L258.85 1285.72z" stroke-width="2.15"/></g>
<text x="300.7" y="1292.32">IDBO</text>
<g stroke="#ff0000" fill="none"><path d="M234.5 1308.38H296.2" stroke-width="2.2"/><path d="M265.25 1301.78L267.16 1305.08L270.97 1305.08L269.06 1308.38L270.97 1311.68L267.16 1311.68L265.25 1314.98L263.34 1311.68L259.53 1311.68L261.44 1308.38L259.53 1305.08L263.34 1305.08z" stroke-width="2.35"/></g>
<text x="300.7" y="1314.98">QHDBO</text>
<g stroke="#0000ff" fill="none"><path d="M234.5 1331.04H296.2" stroke-width="2.2"/><path d="M259.05 1331.04a6.2 6.2 0 1 0 12.4 0a6.2 6.2 0 1 0 -12.4 0z" stroke-width="2.15"/></g>
<text x="300.7" y="1337.64">MDBO</text>
<g stroke="#00ffff" fill="none"><path d="M234.5 1353.7H296.2" stroke-width="2.2"/><path d="M265.25 1347.8v11.8M259.35 1353.7h11.8M261.08 1349.53l8.34 8.34M261.08 1357.87l8.34 -8.34" stroke-width="2.4"/></g>
<text x="300.7" y="1360.3">EDBO</text>
</g>
</g>
<g>
<rect x="675.4" y="1128.2" width="448.5" height="420.2" fill="#fff" stroke="#262626" stroke-width="2.2"/>
<path d="M675.4 1548.4v-5.6M675.4 1128.2v5.6M750.15 1548.4v-5.6M750.15 1128.2v5.6M824.9 1548.4v-5.6M824.9 1128.2v5.6M899.65 1548.4v-5.6M899.65 1128.2v5.6M974.4 1548.4v-5.6M974.4 1128.2v5.6M1049.15 1548.4v-5.6M1049.15 1128.2v5.6M1123.9 1548.4v-5.6M1123.9 1128.2v5.6M675.4 1548.4h5.6M1123.9 1548.4h-5.6M675.4 1478.37h5.6M1123.9 1478.37h-5.6M675.4 1408.33h5.6M1123.9 1408.33h-5.6M675.4 1338.3h5.6M1123.9 1338.3h-5.6M675.4 1268.27h5.6M1123.9 1268.27h-5.6M675.4 1198.23h5.6M1123.9 1198.23h-5.6M675.4 1128.2h5.6M1123.9 1128.2h-5.6" stroke="#262626" stroke-width="2.2" fill="none"/>
<g fill="#262626" stroke="#262626" stroke-width="0.4">
<g font-size="20.5" text-anchor="middle">
<text transform="translate(674.9 1578.2) scale(1 1.03)">0</text>
<text transform="translate(749.65 1578.2) scale(1 1.03)">0.5</text>
<text transform="translate(824.4 1578.2) scale(1 1.03)">1</text>
<text transform="translate(899.15 1578.2) scale(1 1.03)">1.5</text>
<text transform="translate(973.9 1578.2) scale(1 1.03)">2</text>
<text transform="translate(1048.65 1578.2) scale(1 1.03)">2.5</text>
<text transform="translate(1123.4 1578.2) scale(1 1.03)">3</text>
</g>
<g font-size="20.5" text-anchor="end">
<text transform="translate(665.9 1556.6) scale(1 1.03)">1.02</text>
<text transform="translate(665.9 1486.57) scale(1 1.03)">1.04</text>
<text transform="translate(665.9 1416.53) scale(1 1.03)">1.06</text>
<text transform="translate(665.9 1346.5) scale(1 1.03)">1.08</text>
<text transform="translate(665.9 1276.47) scale(1 1.03)">1.1</text>
<text transform="translate(665.9 1206.43) scale(1 1.03)">1.12</text>
<text transform="translate(665.9 1136.4) scale(1 1.03)">1.14</text>
</g>
<text x="1075.3" y="1616.8" font-size="23.5" stroke="none">×</text>
<text x="1123.6" y="1613.4" font-size="20.3" text-anchor="end">10<tspan dy="-10.3" font-size="15.6">5</tspan></text>
<text transform="translate(898.65 1608.6) scale(1 1.015)" font-size="22.5" text-anchor="middle">FEs</text>
<text transform="translate(613.51 1338.3) rotate(-90) scale(1 1.015)" font-size="22.5" text-anchor="middle" letter-spacing="0.2">log(Average best-so-far)</text>
</g>
<text transform="translate(899.35 1119) scale(1 1.0)" font-size="22.6" fill="#000" stroke="#000" stroke-width="0.4" text-anchor="middle">F16</text>
<g fill="none">
<g stroke="#000000">
<polyline points="679.51,1169 720.25,1301.67 742.67,1329 765.1,1345.67 787.52,1368 809.95,1385.67 832.38,1404.67 854.8,1417.33 877.23,1433.33 899.65,1444 922.08,1450.67 944.5,1458 966.92,1471 989.35,1479.33 1011.78,1488.67 1034.2,1495.33 1056.62,1497.33 1079.05,1500.33 1101.47,1508.33 1123.9,1513.67" stroke-width="2.2" stroke-linejoin="round"/>
<path d="M674.51 1164h10v10h-10zM715.25 1296.67h10v10h-10zM737.67 1324h10v10h-10zM760.1 1340.67h10v10h-10zM782.52 1363h10v10h-10zM804.95 1380.67h10v10h-10zM827.38 1399.67h10v10h-10zM849.8 1412.33h10v10h-10zM872.23 1428.33h10v10h-10zM894.65 1439h10v10h-10zM917.08 1445.67h10v10h-10zM939.5 1453h10v10h-10zM961.92 1466h10v10h-10zM984.35 1474.33h10v10h-10zM1006.78 1483.67h10v10h-10zM1029.2 1490.33h10v10h-10zM1051.62 1492.33h10v10h-10zM1074.05 1495.33h10v10h-10zM1096.47 1503.33h10v10h-10zM1118.9 1508.67h10v10h-10z" stroke-width="2.15"/>
</g>
<g stroke="#ff00ff">
<polyline points="679.51,1150.67 720.25,1252.33 742.67,1273 765.1,1292.33 787.52,1300 809.95,1305 832.38,1310 854.8,1310.67 877.23,1311.67 899.65,1315.67 922.08,1324 944.5,1324.67 966.92,1324.67 989.35,1325.33 1011.78,1328 1034.2,1328 1056.62,1328 1079.05,1328 1101.47,1328 1123.9,1336.67" stroke-width="2.2" stroke-linejoin="round"/>
<path d="M679.51 1143.87L681.04 1148.57L685.98 1148.57L681.98 1151.47L683.51 1156.17L679.51 1153.26L675.51 1156.17L677.04 1151.47L673.04 1148.57L677.98 1148.57zM720.25 1245.53L721.78 1250.23L726.72 1250.23L722.72 1253.14L724.25 1257.83L720.25 1254.93L716.25 1257.83L717.78 1253.14L713.78 1250.23L718.72 1250.23zM742.67 1266.2L744.2 1270.9L749.14 1270.9L745.15 1273.8L746.67 1278.5L742.67 1275.6L738.68 1278.5L740.2 1273.8L736.21 1270.9L741.15 1270.9zM765.1 1285.53L766.63 1290.23L771.57 1290.23L767.57 1293.14L769.1 1297.83L765.1 1294.93L761.1 1297.83L762.63 1293.14L758.63 1290.23L763.57 1290.23zM787.52 1293.2L789.05 1297.9L793.99 1297.9L790 1300.8L791.52 1305.5L787.52 1302.6L783.53 1305.5L785.05 1300.8L781.06 1297.9L786 1297.9zM809.95 1298.2L811.48 1302.9L816.42 1302.9L812.42 1305.8L813.95 1310.5L809.95 1307.6L805.95 1310.5L807.48 1305.8L803.48 1302.9L808.42 1302.9zM832.38 1303.2L833.9 1307.9L838.84 1307.9L834.85 1310.8L836.37 1315.5L832.38 1312.6L828.38 1315.5L829.9 1310.8L825.91 1307.9L830.85 1307.9zM854.8 1303.87L856.33 1308.57L861.27 1308.57L857.27 1311.47L858.8 1316.17L854.8 1313.26L850.8 1316.17L852.33 1311.47L848.33 1308.57L853.27 1308.57zM877.23 1304.87L878.75 1309.57L883.69 1309.57L879.7 1312.47L881.22 1317.17L877.23 1314.26L873.23 1317.17L874.75 1312.47L870.76 1309.57L875.7 1309.57zM899.65 1308.87L901.18 1313.57L906.12 1313.57L902.12 1316.47L903.65 1321.17L899.65 1318.26L895.65 1321.17L897.18 1316.47L893.18 1313.57L898.12 1313.57zM922.08 1317.2L923.6 1321.9L928.54 1321.9L924.55 1324.8L926.07 1329.5L922.08 1326.6L918.08 1329.5L919.6 1324.8L915.61 1321.9L920.55 1321.9zM944.5 1317.87L946.03 1322.57L950.97 1322.57L946.97 1325.47L948.5 1330.17L944.5 1327.26L940.5 1330.17L942.03 1325.47L938.03 1322.57L942.97 1322.57zM966.92 1317.87L968.45 1322.57L973.39 1322.57L969.4 1325.47L970.92 1330.17L966.92 1327.26L962.93 1330.17L964.45 1325.47L960.46 1322.57L965.4 1322.57zM989.35 1318.53L990.88 1323.23L995.82 1323.23L991.82 1326.14L993.35 1330.83L989.35 1327.93L985.35 1330.83L986.88 1326.14L982.88 1323.23L987.82 1323.23zM1011.78 1321.2L1013.3 1325.9L1018.24 1325.9L1014.25 1328.8L1015.77 1333.5L1011.78 1330.6L1007.78 1333.5L1009.3 1328.8L1005.31 1325.9L1010.25 1325.9zM1034.2 1321.2L1035.73 1325.9L1040.67 1325.9L1036.67 1328.8L1038.2 1333.5L1034.2 1330.6L1030.2 1333.5L1031.73 1328.8L1027.73 1325.9L1032.67 1325.9zM1056.62 1321.2L1058.15 1325.9L1063.09 1325.9L1059.1 1328.8L1060.62 1333.5L1056.62 1330.6L1052.63 1333.5L1054.15 1328.8L1050.16 1325.9L1055.1 1325.9zM1079.05 1321.2L1080.58 1325.9L1085.52 1325.9L1081.52 1328.8L1083.05 1333.5L1079.05 1330.6L1075.05 1333.5L1076.58 1328.8L1072.58 1325.9L1077.52 1325.9zM1101.47 1321.2L1103 1325.9L1107.94 1325.9L1103.95 1328.8L1105.47 1333.5L1101.47 1330.6L1097.48 1333.5L1099 1328.8L1095.01 1325.9L1099.95 1325.9zM1123.9 1329.87L1125.43 1334.57L1130.37 1334.57L1126.37 1337.47L1127.9 1342.17L1123.9 1339.26L1119.9 1342.17L1121.43 1337.47L1117.43 1334.57L1122.37 1334.57z" stroke-width="2.15" fill="#ff00ff" fill-opacity="0.5"/>
</g>
<g stroke="#00ff00">
<polyline points="679.51,1170 720.25,1287.67 742.67,1305.67 765.1,1319 787.52,1333 809.95,1345 832.38,1350 854.8,1355 877.23,1364 899.65,1376.67 922.08,1384 944.5,1391 966.92,1397.67 989.35,1401.67 1011.78,1417.33 1034.2,1420.67 1056.62,1423.33 1079.05,1425.67 1101.47,1426 1123.9,1427.67" stroke-width="2.2" stroke-linejoin="round"/>
<path d="M679.51 1161.8L685.91 1170L679.51 1178.2L673.11 1170zM720.25 1279.47L726.65 1287.67L720.25 1295.87L713.85 1287.67zM742.67 1297.47L749.07 1305.67L742.67 1313.87L736.27 1305.67zM765.1 1310.8L771.5 1319L765.1 1327.2L758.7 1319zM787.52 1324.8L793.92 1333L787.52 1341.2L781.12 1333zM809.95 1336.8L816.35 1345L809.95 1353.2L803.55 1345zM832.38 1341.8L838.77 1350L832.38 1358.2L825.98 1350zM854.8 1346.8L861.2 1355L854.8 1363.2L848.4 1355zM877.23 1355.8L883.62 1364L877.23 1372.2L870.83 1364zM899.65 1368.47L906.05 1376.67L899.65 1384.87L893.25 1376.67zM922.08 1375.8L928.48 1384L922.08 1392.2L915.68 1384zM944.5 1382.8L950.9 1391L944.5 1399.2L938.1 1391zM966.92 1389.47L973.32 1397.67L966.92 1405.87L960.52 1397.67zM989.35 1393.47L995.75 1401.67L989.35 1409.87L982.95 1401.67zM1011.78 1409.13L1018.18 1417.33L1011.78 1425.53L1005.38 1417.33zM1034.2 1412.47L1040.6 1420.67L1034.2 1428.87L1027.8 1420.67zM1056.62 1415.13L1063.03 1423.33L1056.62 1431.53L1050.22 1423.33zM1079.05 1417.47L1085.45 1425.67L1079.05 1433.87L1072.65 1425.67zM1101.47 1417.8L1107.88 1426L1101.47 1434.2L1095.07 1426zM1123.9 1419.47L1130.3 1427.67L1123.9 1435.87L1117.5 1427.67z" stroke-width="2.15"/>
</g>
<g stroke="#ff0000">
<polyline points="679.51,1151 720.25,1212 742.67,1223.67 765.1,1232 787.52,1239.67 809.95,1245.33 832.38,1252.33 854.8,1255.67 877.23,1261 899.65,1264.33 922.08,1267.67 944.5,1271 966.92,1273 989.35,1273.67 1011.78,1275.67 1034.2,1282.67 1056.62,1292 1079.05,1300.33 1101.47,1329 1123.9,1347.67" stroke-width="2.2" stroke-linejoin="round"/>
<path d="M679.51 1144.4L681.42 1147.7L685.23 1147.7L683.32 1151L685.23 1154.3L681.42 1154.3L679.51 1157.6L677.61 1154.3L673.8 1154.3L675.7 1151L673.8 1147.7L677.61 1147.7zM720.25 1205.4L722.16 1208.7L725.97 1208.7L724.06 1212L725.97 1215.3L722.16 1215.3L720.25 1218.6L718.34 1215.3L714.53 1215.3L716.44 1212L714.53 1208.7L718.34 1208.7zM742.67 1217.07L744.58 1220.37L748.39 1220.37L746.49 1223.67L748.39 1226.97L744.58 1226.97L742.67 1230.27L740.77 1226.97L736.96 1226.97L738.86 1223.67L736.96 1220.37L740.77 1220.37zM765.1 1225.4L767.01 1228.7L770.82 1228.7L768.91 1232L770.82 1235.3L767.01 1235.3L765.1 1238.6L763.19 1235.3L759.38 1235.3L761.29 1232L759.38 1228.7L763.19 1228.7zM787.52 1233.07L789.43 1236.37L793.24 1236.37L791.34 1239.67L793.24 1242.97L789.43 1242.97L787.52 1246.27L785.62 1242.97L781.81 1242.97L783.71 1239.67L781.81 1236.37L785.62 1236.37zM809.95 1238.73L811.86 1242.03L815.67 1242.03L813.76 1245.33L815.67 1248.63L811.86 1248.63L809.95 1251.93L808.04 1248.63L804.23 1248.63L806.14 1245.33L804.23 1242.03L808.04 1242.03zM832.38 1245.73L834.28 1249.03L838.09 1249.03L836.19 1252.33L838.09 1255.63L834.28 1255.63L832.38 1258.93L830.47 1255.63L826.66 1255.63L828.56 1252.33L826.66 1249.03L830.47 1249.03zM854.8 1249.07L856.71 1252.37L860.52 1252.37L858.61 1255.67L860.52 1258.97L856.71 1258.97L854.8 1262.27L852.89 1258.97L849.08 1258.97L850.99 1255.67L849.08 1252.37L852.89 1252.37zM877.23 1254.4L879.13 1257.7L882.94 1257.7L881.04 1261L882.94 1264.3L879.13 1264.3L877.23 1267.6L875.32 1264.3L871.51 1264.3L873.41 1261L871.51 1257.7L875.32 1257.7zM899.65 1257.73L901.56 1261.03L905.37 1261.03L903.46 1264.33L905.37 1267.63L901.56 1267.63L899.65 1270.93L897.74 1267.63L893.93 1267.63L895.84 1264.33L893.93 1261.03L897.74 1261.03zM922.08 1261.07L923.98 1264.37L927.79 1264.37L925.89 1267.67L927.79 1270.97L923.98 1270.97L922.08 1274.27L920.17 1270.97L916.36 1270.97L918.26 1267.67L916.36 1264.37L920.17 1264.37zM944.5 1264.4L946.41 1267.7L950.22 1267.7L948.31 1271L950.22 1274.3L946.41 1274.3L944.5 1277.6L942.59 1274.3L938.78 1274.3L940.69 1271L938.78 1267.7L942.59 1267.7zM966.92 1266.4L968.83 1269.7L972.64 1269.7L970.74 1273L972.64 1276.3L968.83 1276.3L966.92 1279.6L965.02 1276.3L961.21 1276.3L963.11 1273L961.21 1269.7L965.02 1269.7zM989.35 1267.07L991.26 1270.37L995.07 1270.37L993.16 1273.67L995.07 1276.97L991.26 1276.97L989.35 1280.27L987.44 1276.97L983.63 1276.97L985.54 1273.67L983.63 1270.37L987.44 1270.37zM1011.78 1269.07L1013.68 1272.37L1017.49 1272.37L1015.59 1275.67L1017.49 1278.97L1013.68 1278.97L1011.78 1282.27L1009.87 1278.97L1006.06 1278.97L1007.96 1275.67L1006.06 1272.37L1009.87 1272.37zM1034.2 1276.07L1036.11 1279.37L1039.92 1279.37L1038.01 1282.67L1039.92 1285.97L1036.11 1285.97L1034.2 1289.27L1032.29 1285.97L1028.48 1285.97L1030.39 1282.67L1028.48 1279.37L1032.29 1279.37zM1056.62 1285.4L1058.53 1288.7L1062.34 1288.7L1060.44 1292L1062.34 1295.3L1058.53 1295.3L1056.62 1298.6L1054.72 1295.3L1050.91 1295.3L1052.81 1292L1050.91 1288.7L1054.72 1288.7zM1079.05 1293.73L1080.96 1297.03L1084.77 1297.03L1082.86 1300.33L1084.77 1303.63L1080.96 1303.63L1079.05 1306.93L1077.14 1303.63L1073.33 1303.63L1075.24 1300.33L1073.33 1297.03L1077.14 1297.03zM1101.47 1322.4L1103.38 1325.7L1107.19 1325.7L1105.29 1329L1107.19 1332.3L1103.38 1332.3L1101.47 1335.6L1099.57 1332.3L1095.76 1332.3L1097.66 1329L1095.76 1325.7L1099.57 1325.7zM1123.9 1341.07L1125.81 1344.37L1129.62 1344.37L1127.71 1347.67L1129.62 1350.97L1125.81 1350.97L1123.9 1354.27L1121.99 1350.97L1118.18 1350.97L1120.09 1347.67L1118.18 1344.37L1121.99 1344.37z" stroke-width="2.35"/>
</g>
<g stroke="#0000ff">
<polyline points="679.51,1168 720.25,1259 742.67,1279.67 765.1,1290.33 787.52,1300 809.95,1303.67 832.38,1312.67 854.8,1320 877.23,1328.67 899.65,1332.33 922.08,1338.33 944.5,1345 966.92,1350 989.35,1357.33 1011.78,1358.33 1034.2,1362 1056.62,1364 1079.05,1368.33 1101.47,1371.33 1123.9,1373.67" stroke-width="2.2" stroke-linejoin="round"/>
<path d="M673.31 1168a6.2 6.2 0 1 0 12.4 0a6.2 6.2 0 1 0 -12.4 0zM714.05 1259a6.2 6.2 0 1 0 12.4 0a6.2 6.2 0 1 0 -12.4 0zM736.47 1279.67a6.2 6.2 0 1 0 12.4 0a6.2 6.2 0 1 0 -12.4 0zM758.9 1290.33a6.2 6.2 0 1 0 12.4 0a6.2 6.2 0 1 0 -12.4 0zM781.32 1300a6.2 6.2 0 1 0 12.4 0a6.2 6.2 0 1 0 -12.4 0zM803.75 1303.67a6.2 6.2 0 1 0 12.4 0a6.2 6.2 0 1 0 -12.4 0zM826.17 1312.67a6.2 6.2 0 1 0 12.4 0a6.2 6.2 0 1 0 -12.4 0zM848.6 1320a6.2 6.2 0 1 0 12.4 0a6.2 6.2 0 1 0 -12.4 0zM871.02 1328.67a6.2 6.2 0 1 0 12.4 0a6.2 6.2 0 1 0 -12.4 0zM893.45 1332.33a6.2 6.2 0 1 0 12.4 0a6.2 6.2 0 1 0 -12.4 0zM915.88 1338.33a6.2 6.2 0 1 0 12.4 0a6.2 6.2 0 1 0 -12.4 0zM938.3 1345a6.2 6.2 0 1 0 12.4 0a6.2 6.2 0 1 0 -12.4 0zM960.72 1350a6.2 6.2 0 1 0 12.4 0a6.2 6.2 0 1 0 -12.4 0zM983.15 1357.33a6.2 6.2 0 1 0 12.4 0a6.2 6.2 0 1 0 -12.4 0zM1005.58 1358.33a6.2 6.2 0 1 0 12.4 0a6.2 6.2 0 1 0 -12.4 0zM1028 1362a6.2 6.2 0 1 0 12.4 0a6.2 6.2 0 1 0 -12.4 0zM1050.42 1364a6.2 6.2 0 1 0 12.4 0a6.2 6.2 0 1 0 -12.4 0zM1072.85 1368.33a6.2 6.2 0 1 0 12.4 0a6.2 6.2 0 1 0 -12.4 0zM1095.27 1371.33a6.2 6.2 0 1 0 12.4 0a6.2 6.2 0 1 0 -12.4 0zM1117.7 1373.67a6.2 6.2 0 1 0 12.4 0a6.2 6.2 0 1 0 -12.4 0z" stroke-width="2.15"/>
</g>
<g stroke="#00ffff">
<polyline points="679.51,1152.33 720.25,1270 742.67,1305.67 765.1,1322.33 787.52,1337 809.95,1346.33 832.38,1354.33 854.8,1357.67 877.23,1365.33 899.65,1375.67 922.08,1378.33 944.5,1380.67 966.92,1382.67 989.35,1385.67 1011.78,1386.33 1034.2,1389.33 1056.62,1390 1079.05,1391.33 1101.47,1392.67 1123.9,1400.67" stroke-width="2.2" stroke-linejoin="round"/>
<path d="M679.51 1146.43v11.8M673.61 1152.33h11.8M675.34 1148.16l8.34 8.34M675.34 1156.51l8.34 -8.34M720.25 1264.1v11.8M714.35 1270h11.8M716.08 1265.83l8.34 8.34M716.08 1274.17l8.34 -8.34M742.67 1299.77v11.8M736.77 1305.67h11.8M738.5 1301.49l8.34 8.34M738.5 1309.84l8.34 -8.34M765.1 1316.43v11.8M759.2 1322.33h11.8M760.93 1318.16l8.34 8.34M760.93 1326.51l8.34 -8.34M787.52 1331.1v11.8M781.62 1337h11.8M783.35 1332.83l8.34 8.34M783.35 1341.17l8.34 -8.34M809.95 1340.43v11.8M804.05 1346.33h11.8M805.78 1342.16l8.34 8.34M805.78 1350.51l8.34 -8.34M832.38 1348.43v11.8M826.48 1354.33h11.8M828.2 1350.16l8.34 8.34M828.2 1358.51l8.34 -8.34M854.8 1351.77v11.8M848.9 1357.67h11.8M850.63 1353.49l8.34 8.34M850.63 1361.84l8.34 -8.34M877.23 1359.43v11.8M871.33 1365.33h11.8M873.05 1361.16l8.34 8.34M873.05 1369.51l8.34 -8.34M899.65 1369.77v11.8M893.75 1375.67h11.8M895.48 1371.49l8.34 8.34M895.48 1379.84l8.34 -8.34M922.08 1372.43v11.8M916.18 1378.33h11.8M917.9 1374.16l8.34 8.34M917.9 1382.51l8.34 -8.34M944.5 1374.77v11.8M938.6 1380.67h11.8M940.33 1376.49l8.34 8.34M940.33 1384.84l8.34 -8.34M966.92 1376.77v11.8M961.02 1382.67h11.8M962.75 1378.49l8.34 8.34M962.75 1386.84l8.34 -8.34M989.35 1379.77v11.8M983.45 1385.67h11.8M985.18 1381.49l8.34 8.34M985.18 1389.84l8.34 -8.34M1011.78 1380.43v11.8M1005.88 1386.33h11.8M1007.6 1382.16l8.34 8.34M1007.6 1390.51l8.34 -8.34M1034.2 1383.43v11.8M1028.3 1389.33h11.8M1030.03 1385.16l8.34 8.34M1030.03 1393.51l8.34 -8.34M1056.62 1384.1v11.8M1050.72 1390h11.8M1052.45 1385.83l8.34 8.34M1052.45 1394.17l8.34 -8.34M1079.05 1385.43v11.8M1073.15 1391.33h11.8M1074.88 1387.16l8.34 8.34M1074.88 1395.51l8.34 -8.34M1101.47 1386.77v11.8M1095.57 1392.67h11.8M1097.3 1388.49l8.34 8.34M1097.3 1396.84l8.34 -8.34M1123.9 1394.77v11.8M1118 1400.67h11.8M1119.73 1396.49l8.34 8.34M1119.73 1404.84l8.34 -8.34" stroke-width="2.4"/>
</g>
</g>
<rect x="689.1" y="1398.6" width="140.3" height="141.2" fill="#fff" stroke="#262626" stroke-width="2.0"/>
<g font-size="16.3" fill="#000" stroke="#000" stroke-width="0.4" letter-spacing="0.25">
<g stroke="#000000" fill="none"><path d="M695.6 1412.6H757.3" stroke-width="2.2"/><path d="M721.35 1407.6h10v10h-10z" stroke-width="2.15"/></g>
<text x="761.8" y="1419.2">MSDBO</text>
<g stroke="#ff00ff" fill="none"><path d="M695.6 1435.26H757.3" stroke-width="2.2"/><path d="M726.35 1428.46L727.88 1433.16L732.82 1433.16L728.82 1436.06L730.35 1440.76L726.35 1437.86L722.35 1440.76L723.88 1436.06L719.88 1433.16L724.82 1433.16z" stroke-width="2.15" fill="#ff00ff" fill-opacity="0.5"/></g>
<text x="761.8" y="1441.86">DBO</text>
<g stroke="#00ff00" fill="none"><path d="M695.6 1457.92H757.3" stroke-width="2.2"/><path d="M726.35 1449.72L732.75 1457.92L726.35 1466.12L719.95 1457.92z" stroke-width="2.15"/></g>
<text x="761.8" y="1464.52">IDBO</text>
<g stroke="#ff0000" fill="none"><path d="M695.6 1480.58H757.3" stroke-width="2.2"/><path d="M726.35 1473.98L728.26 1477.28L732.07 1477.28L730.16 1480.58L732.07 1483.88L728.26 1483.88L726.35 1487.18L724.44 1483.88L720.63 1483.88L722.54 1480.58L720.63 1477.28L724.44 1477.28z" stroke-width="2.35"/></g>
<text x="761.8" y="1487.18">QHDBO</text>
<g stroke="#0000ff" fill="none"><path d="M695.6 1503.24H757.3" stroke-width="2.2"/><path d="M720.15 1503.24a6.2 6.2 0 1 0 12.4 0a6.2 6.2 0 1 0 -12.4 0z" stroke-width="2.15"/></g>
<text x="761.8" y="1509.84">MDBO</text>
<g stroke="#00ffff" fill="none"><path d="M695.6 1525.9H757.3" stroke-width="2.2"/><path d="M726.35 1520v11.8M720.45 1525.9h11.8M722.18 1521.73l8.34 8.34M722.18 1530.07l8.34 -8.34" stroke-width="2.4"/></g>
<text x="761.8" y="1532.5">EDBO</text>
</g>
</g>
<g>
<rect x="1257" y="1128.2" width="456" height="420.2" fill="#fff" stroke="#262626" stroke-width="2.2"/>
<path d="M1257 1548.4v-5.6M1257 1128.2v5.6M1333 1548.4v-5.6M1333 1128.2v5.6M1409 1548.4v-5.6M1409 1128.2v5.6M1485 1548.4v-5.6M1485 1128.2v5.6M1561 1548.4v-5.6M1561 1128.2v5.6M1637 1548.4v-5.6M1637 1128.2v5.6M1713 1548.4v-5.6M1713 1128.2v5.6M1257 1548.4h5.6M1713 1548.4h-5.6M1257 1478.37h5.6M1713 1478.37h-5.6M1257 1408.33h5.6M1713 1408.33h-5.6M1257 1338.3h5.6M1713 1338.3h-5.6M1257 1268.27h5.6M1713 1268.27h-5.6M1257 1198.23h5.6M1713 1198.23h-5.6M1257 1128.2h5.6M1713 1128.2h-5.6" stroke="#262626" stroke-width="2.2" fill="none"/>
<g fill="#262626" stroke="#262626" stroke-width="0.4">
<g font-size="20.5" text-anchor="middle">
<text transform="translate(1256.5 1578.2) scale(1 1.03)">0</text>
<text transform="translate(1332.5 1578.2) scale(1 1.03)">0.5</text>
<text transform="translate(1408.5 1578.2) scale(1 1.03)">1</text>
<text transform="translate(1484.5 1578.2) scale(1 1.03)">1.5</text>
<text transform="translate(1560.5 1578.2) scale(1 1.03)">2</text>
<text transform="translate(1636.5 1578.2) scale(1 1.03)">2.5</text>
<text transform="translate(1712.5 1578.2) scale(1 1.03)">3</text>
</g>
<g font-size="20.5" text-anchor="end">
<text transform="translate(1247.5 1556.6) scale(1 1.03)">3</text>
<text transform="translate(1247.5 1486.57) scale(1 1.03)">4</text>
<text transform="translate(1247.5 1416.53) scale(1 1.03)">5</text>
<text transform="translate(1247.5 1346.5) scale(1 1.03)">6</text>
<text transform="translate(1247.5 1276.47) scale(1 1.03)">7</text>
<text transform="translate(1247.5 1206.43) scale(1 1.03)">8</text>
<text transform="translate(1247.5 1136.4) scale(1 1.03)">9</text>
</g>
<text x="1664.4" y="1616.8" font-size="23.5" stroke="none">×</text>
<text x="1712.7" y="1613.4" font-size="20.3" text-anchor="end">10<tspan dy="-10.3" font-size="15.6">5</tspan></text>
<text transform="translate(1484 1608.6) scale(1 1.015)" font-size="22.5" text-anchor="middle">FEs</text>
<text transform="translate(1223.6 1338.3) rotate(-90) scale(1 1.015)" font-size="22.5" text-anchor="middle" letter-spacing="0.2">log(Average best-so-far)</text>
</g>
<text transform="translate(1484.7 1119) scale(1 1.0)" font-size="22.6" fill="#000" stroke="#000" stroke-width="0.4" text-anchor="middle">F18</text>
<g fill="none">
<g stroke="#000000">
<polyline points="1261.18,1225.67 1302.6,1444.33 1325.4,1469 1348.2,1476 1371,1485.33 1393.8,1487 1416.6,1488.33 1439.4,1488.33 1462.2,1488.67 1485,1488.67 1507.8,1488.67 1530.6,1488.67 1553.4,1488.67 1576.2,1488.67 1599,1488.67 1621.8,1488.67 1644.6,1488.67 1667.4,1488.67 1690.2,1488.67 1713,1488.67" stroke-width="2.2" stroke-linejoin="round"/>
<path d="M1256.18 1220.67h10v10h-10zM1297.6 1439.33h10v10h-10zM1320.4 1464h10v10h-10zM1343.2 1471h10v10h-10zM1366 1480.33h10v10h-10zM1388.8 1482h10v10h-10zM1411.6 1483.33h10v10h-10zM1434.4 1483.33h10v10h-10zM1457.2 1483.67h10v10h-10zM1480 1483.67h10v10h-10zM1502.8 1483.67h10v10h-10zM1525.6 1483.67h10v10h-10zM1548.4 1483.67h10v10h-10zM1571.2 1483.67h10v10h-10zM1594 1483.67h10v10h-10zM1616.8 1483.67h10v10h-10zM1639.6 1483.67h10v10h-10zM1662.4 1483.67h10v10h-10zM1685.2 1483.67h10v10h-10zM1708 1483.67h10v10h-10z" stroke-width="2.15"/>
</g>
<g stroke="#ff00ff">
<polyline points="1261.18,1161 1302.6,1166.17 1325.4,1166.17 1348.2,1166.17 1371,1166.17 1393.8,1166.17 1416.6,1166.17 1439.4,1166.17 1462.2,1166.17 1485,1166.17 1507.8,1170 1530.6,1172.67 1553.4,1172.33 1576.2,1181 1599,1185.67 1621.8,1199.33 1644.6,1251 1667.4,1258.33 1690.2,1373.33 1713,1380" stroke-width="2.2" stroke-linejoin="round"/>
<path d="M1261.18 1154.2L1262.71 1158.9L1267.65 1158.9L1263.65 1161.8L1265.18 1166.5L1261.18 1163.6L1257.18 1166.5L1258.71 1161.8L1254.71 1158.9L1259.65 1158.9zM1302.6 1159.37L1304.13 1164.07L1309.07 1164.07L1305.07 1166.97L1306.6 1171.67L1302.6 1168.76L1298.6 1171.67L1300.13 1166.97L1296.13 1164.07L1301.07 1164.07zM1325.4 1159.37L1326.93 1164.07L1331.87 1164.07L1327.87 1166.97L1329.4 1171.67L1325.4 1168.76L1321.4 1171.67L1322.93 1166.97L1318.93 1164.07L1323.87 1164.07zM1348.2 1159.37L1349.73 1164.07L1354.67 1164.07L1350.67 1166.97L1352.2 1171.67L1348.2 1168.76L1344.2 1171.67L1345.73 1166.97L1341.73 1164.07L1346.67 1164.07zM1371 1159.37L1372.53 1164.07L1377.47 1164.07L1373.47 1166.97L1375 1171.67L1371 1168.76L1367 1171.67L1368.53 1166.97L1364.53 1164.07L1369.47 1164.07zM1393.8 1159.37L1395.33 1164.07L1400.27 1164.07L1396.27 1166.97L1397.8 1171.67L1393.8 1168.76L1389.8 1171.67L1391.33 1166.97L1387.33 1164.07L1392.27 1164.07zM1416.6 1159.37L1418.13 1164.07L1423.07 1164.07L1419.07 1166.97L1420.6 1171.67L1416.6 1168.76L1412.6 1171.67L1414.13 1166.97L1410.13 1164.07L1415.07 1164.07zM1439.4 1159.37L1440.93 1164.07L1445.87 1164.07L1441.87 1166.97L1443.4 1171.67L1439.4 1168.76L1435.4 1171.67L1436.93 1166.97L1432.93 1164.07L1437.87 1164.07zM1462.2 1159.37L1463.73 1164.07L1468.67 1164.07L1464.67 1166.97L1466.2 1171.67L1462.2 1168.76L1458.2 1171.67L1459.73 1166.97L1455.73 1164.07L1460.67 1164.07zM1485 1159.37L1486.53 1164.07L1491.47 1164.07L1487.47 1166.97L1489 1171.67L1485 1168.76L1481 1171.67L1482.53 1166.97L1478.53 1164.07L1483.47 1164.07zM1507.8 1163.2L1509.33 1167.9L1514.27 1167.9L1510.27 1170.8L1511.8 1175.5L1507.8 1172.6L1503.8 1175.5L1505.33 1170.8L1501.33 1167.9L1506.27 1167.9zM1530.6 1165.87L1532.13 1170.57L1537.07 1170.57L1533.07 1173.47L1534.6 1178.17L1530.6 1175.26L1526.6 1178.17L1528.13 1173.47L1524.13 1170.57L1529.07 1170.57zM1553.4 1165.53L1554.93 1170.23L1559.87 1170.23L1555.87 1173.14L1557.4 1177.83L1553.4 1174.93L1549.4 1177.83L1550.93 1173.14L1546.93 1170.23L1551.87 1170.23zM1576.2 1174.2L1577.73 1178.9L1582.67 1178.9L1578.67 1181.8L1580.2 1186.5L1576.2 1183.6L1572.2 1186.5L1573.73 1181.8L1569.73 1178.9L1574.67 1178.9zM1599 1178.87L1600.53 1183.57L1605.47 1183.57L1601.47 1186.47L1603 1191.17L1599 1188.26L1595 1191.17L1596.53 1186.47L1592.53 1183.57L1597.47 1183.57zM1621.8 1192.53L1623.33 1197.23L1628.27 1197.23L1624.27 1200.14L1625.8 1204.83L1621.8 1201.93L1617.8 1204.83L1619.33 1200.14L1615.33 1197.23L1620.27 1197.23zM1644.6 1244.2L1646.13 1248.9L1651.07 1248.9L1647.07 1251.8L1648.6 1256.5L1644.6 1253.6L1640.6 1256.5L1642.13 1251.8L1638.13 1248.9L1643.07 1248.9zM1667.4 1251.53L1668.93 1256.23L1673.87 1256.23L1669.87 1259.14L1671.4 1263.83L1667.4 1260.93L1663.4 1263.83L1664.93 1259.14L1660.93 1256.23L1665.87 1256.23zM1690.2 1366.53L1691.73 1371.23L1696.67 1371.23L1692.67 1374.14L1694.2 1378.83L1690.2 1375.93L1686.2 1378.83L1687.73 1374.14L1683.73 1371.23L1688.67 1371.23zM1713 1373.2L1714.53 1377.9L1719.47 1377.9L1715.47 1380.8L1717 1385.5L1713 1382.6L1709 1385.5L1710.53 1380.8L1706.53 1377.9L1711.47 1377.9z" stroke-width="2.15" fill="#ff00ff" fill-opacity="0.5"/>
</g>
<g stroke="#00ff00">
<polyline points="1261.18,1272 1302.6,1272.67 1325.4,1272.67 1348.2,1272.67 1371,1272.67 1393.8,1272.67 1416.6,1272.67 1439.4,1272.67 1462.2,1272.67 1485,1272.67 1507.8,1272.67 1530.6,1272.67 1553.4,1272.67 1576.2,1272.67 1599,1272.67 1621.8,1272.67 1644.6,1272.67 1667.4,1272.67 1690.2,1272.67 1713,1272.67" stroke-width="2.2" stroke-linejoin="round"/>
<path d="M1261.18 1263.8L1267.58 1272L1261.18 1280.2L1254.78 1272zM1302.6 1264.47L1309 1272.67L1302.6 1280.87L1296.2 1272.67zM1325.4 1264.47L1331.8 1272.67L1325.4 1280.87L1319 1272.67zM1348.2 1264.47L1354.6 1272.67L1348.2 1280.87L1341.8 1272.67zM1371 1264.47L1377.4 1272.67L1371 1280.87L1364.6 1272.67zM1393.8 1264.47L1400.2 1272.67L1393.8 1280.87L1387.4 1272.67zM1416.6 1264.47L1423 1272.67L1416.6 1280.87L1410.2 1272.67zM1439.4 1264.47L1445.8 1272.67L1439.4 1280.87L1433 1272.67zM1462.2 1264.47L1468.6 1272.67L1462.2 1280.87L1455.8 1272.67zM1485 1264.47L1491.4 1272.67L1485 1280.87L1478.6 1272.67zM1507.8 1264.47L1514.2 1272.67L1507.8 1280.87L1501.4 1272.67zM1530.6 1264.47L1537 1272.67L1530.6 1280.87L1524.2 1272.67zM1553.4 1264.47L1559.8 1272.67L1553.4 1280.87L1547 1272.67zM1576.2 1264.47L1582.6 1272.67L1576.2 1280.87L1569.8 1272.67zM1599 1264.47L1605.4 1272.67L1599 1280.87L1592.6 1272.67zM1621.8 1264.47L1628.2 1272.67L1621.8 1280.87L1615.4 1272.67zM1644.6 1264.47L1651 1272.67L1644.6 1280.87L1638.2 1272.67zM1667.4 1264.47L1673.8 1272.67L1667.4 1280.87L1661 1272.67zM1690.2 1264.47L1696.6 1272.67L1690.2 1280.87L1683.8 1272.67zM1713 1264.47L1719.4 1272.67L1713 1280.87L1706.6 1272.67z" stroke-width="2.15"/>
</g>
<g stroke="#ff0000">
<polyline points="1261.18,1247 1302.6,1272.33 1325.4,1272.33 1348.2,1272.33 1371,1272.33 1393.8,1272.33 1416.6,1272.33 1439.4,1272.33 1462.2,1272.33 1485,1272.33 1507.8,1272.33 1530.6,1272.33 1553.4,1272.33 1576.2,1272.33 1599,1272.33 1621.8,1272.33 1644.6,1272.33 1667.4,1272.33 1690.2,1272.33 1713,1272.33" stroke-width="2.2" stroke-linejoin="round"/>
<path d="M1261.18 1240.4L1263.09 1243.7L1266.9 1243.7L1264.99 1247L1266.9 1250.3L1263.09 1250.3L1261.18 1253.6L1259.27 1250.3L1255.46 1250.3L1257.37 1247L1255.46 1243.7L1259.27 1243.7zM1302.6 1265.73L1304.51 1269.03L1308.32 1269.03L1306.41 1272.33L1308.32 1275.63L1304.51 1275.63L1302.6 1278.93L1300.69 1275.63L1296.88 1275.63L1298.79 1272.33L1296.88 1269.03L1300.69 1269.03zM1325.4 1265.73L1327.31 1269.03L1331.12 1269.03L1329.21 1272.33L1331.12 1275.63L1327.31 1275.63L1325.4 1278.93L1323.49 1275.63L1319.68 1275.63L1321.59 1272.33L1319.68 1269.03L1323.49 1269.03zM1348.2 1265.73L1350.11 1269.03L1353.92 1269.03L1352.01 1272.33L1353.92 1275.63L1350.11 1275.63L1348.2 1278.93L1346.29 1275.63L1342.48 1275.63L1344.39 1272.33L1342.48 1269.03L1346.29 1269.03zM1371 1265.73L1372.91 1269.03L1376.72 1269.03L1374.81 1272.33L1376.72 1275.63L1372.91 1275.63L1371 1278.93L1369.09 1275.63L1365.28 1275.63L1367.19 1272.33L1365.28 1269.03L1369.09 1269.03zM1393.8 1265.73L1395.71 1269.03L1399.52 1269.03L1397.61 1272.33L1399.52 1275.63L1395.71 1275.63L1393.8 1278.93L1391.89 1275.63L1388.08 1275.63L1389.99 1272.33L1388.08 1269.03L1391.89 1269.03zM1416.6 1265.73L1418.51 1269.03L1422.32 1269.03L1420.41 1272.33L1422.32 1275.63L1418.51 1275.63L1416.6 1278.93L1414.69 1275.63L1410.88 1275.63L1412.79 1272.33L1410.88 1269.03L1414.69 1269.03zM1439.4 1265.73L1441.31 1269.03L1445.12 1269.03L1443.21 1272.33L1445.12 1275.63L1441.31 1275.63L1439.4 1278.93L1437.49 1275.63L1433.68 1275.63L1435.59 1272.33L1433.68 1269.03L1437.49 1269.03zM1462.2 1265.73L1464.11 1269.03L1467.92 1269.03L1466.01 1272.33L1467.92 1275.63L1464.11 1275.63L1462.2 1278.93L1460.29 1275.63L1456.48 1275.63L1458.39 1272.33L1456.48 1269.03L1460.29 1269.03zM1485 1265.73L1486.91 1269.03L1490.72 1269.03L1488.81 1272.33L1490.72 1275.63L1486.91 1275.63L1485 1278.93L1483.09 1275.63L1479.28 1275.63L1481.19 1272.33L1479.28 1269.03L1483.09 1269.03zM1507.8 1265.73L1509.71 1269.03L1513.52 1269.03L1511.61 1272.33L1513.52 1275.63L1509.71 1275.63L1507.8 1278.93L1505.89 1275.63L1502.08 1275.63L1503.99 1272.33L1502.08 1269.03L1505.89 1269.03zM1530.6 1265.73L1532.51 1269.03L1536.32 1269.03L1534.41 1272.33L1536.32 1275.63L1532.51 1275.63L1530.6 1278.93L1528.69 1275.63L1524.88 1275.63L1526.79 1272.33L1524.88 1269.03L1528.69 1269.03zM1553.4 1265.73L1555.31 1269.03L1559.12 1269.03L1557.21 1272.33L1559.12 1275.63L1555.31 1275.63L1553.4 1278.93L1551.49 1275.63L1547.68 1275.63L1549.59 1272.33L1547.68 1269.03L1551.49 1269.03zM1576.2 1265.73L1578.11 1269.03L1581.92 1269.03L1580.01 1272.33L1581.92 1275.63L1578.11 1275.63L1576.2 1278.93L1574.29 1275.63L1570.48 1275.63L1572.39 1272.33L1570.48 1269.03L1574.29 1269.03zM1599 1265.73L1600.91 1269.03L1604.72 1269.03L1602.81 1272.33L1604.72 1275.63L1600.91 1275.63L1599 1278.93L1597.09 1275.63L1593.28 1275.63L1595.19 1272.33L1593.28 1269.03L1597.09 1269.03zM1621.8 1265.73L1623.71 1269.03L1627.52 1269.03L1625.61 1272.33L1627.52 1275.63L1623.71 1275.63L1621.8 1278.93L1619.89 1275.63L1616.08 1275.63L1617.99 1272.33L1616.08 1269.03L1619.89 1269.03zM1644.6 1265.73L1646.51 1269.03L1650.32 1269.03L1648.41 1272.33L1650.32 1275.63L1646.51 1275.63L1644.6 1278.93L1642.69 1275.63L1638.88 1275.63L1640.79 1272.33L1638.88 1269.03L1642.69 1269.03zM1667.4 1265.73L1669.31 1269.03L1673.12 1269.03L1671.21 1272.33L1673.12 1275.63L1669.31 1275.63L1667.4 1278.93L1665.49 1275.63L1661.68 1275.63L1663.59 1272.33L1661.68 1269.03L1665.49 1269.03zM1690.2 1265.73L1692.11 1269.03L1695.92 1269.03L1694.01 1272.33L1695.92 1275.63L1692.11 1275.63L1690.2 1278.93L1688.29 1275.63L1684.48 1275.63L1686.39 1272.33L1684.48 1269.03L1688.29 1269.03zM1713 1265.73L1714.91 1269.03L1718.72 1269.03L1716.81 1272.33L1718.72 1275.63L1714.91 1275.63L1713 1278.93L1711.09 1275.63L1707.28 1275.63L1709.19 1272.33L1707.28 1269.03L1711.09 1269.03z" stroke-width="2.35"/>
</g>
<g stroke="#0000ff">
<polyline points="1261.18,1332.33 1302.6,1414 1325.4,1414 1348.2,1414 1371,1414 1393.8,1414 1416.6,1414 1439.4,1414 1462.2,1414 1485,1414 1507.8,1414 1530.6,1414 1553.4,1414 1576.2,1414 1599,1414 1621.8,1414 1644.6,1414 1667.4,1414 1690.2,1414 1713,1414" stroke-width="2.2" stroke-linejoin="round"/>
<path d="M1254.98 1332.33a6.2 6.2 0 1 0 12.4 0a6.2 6.2 0 1 0 -12.4 0zM1296.4 1414a6.2 6.2 0 1 0 12.4 0a6.2 6.2 0 1 0 -12.4 0zM1319.2 1414a6.2 6.2 0 1 0 12.4 0a6.2 6.2 0 1 0 -12.4 0zM1342 1414a6.2 6.2 0 1 0 12.4 0a6.2 6.2 0 1 0 -12.4 0zM1364.8 1414a6.2 6.2 0 1 0 12.4 0a6.2 6.2 0 1 0 -12.4 0zM1387.6 1414a6.2 6.2 0 1 0 12.4 0a6.2 6.2 0 1 0 -12.4 0zM1410.4 1414a6.2 6.2 0 1 0 12.4 0a6.2 6.2 0 1 0 -12.4 0zM1433.2 1414a6.2 6.2 0 1 0 12.4 0a6.2 6.2 0 1 0 -12.4 0zM1456 1414a6.2 6.2 0 1 0 12.4 0a6.2 6.2 0 1 0 -12.4 0zM1478.8 1414a6.2 6.2 0 1 0 12.4 0a6.2 6.2 0 1 0 -12.4 0zM1501.6 1414a6.2 6.2 0 1 0 12.4 0a6.2 6.2 0 1 0 -12.4 0zM1524.4 1414a6.2 6.2 0 1 0 12.4 0a6.2 6.2 0 1 0 -12.4 0zM1547.2 1414a6.2 6.2 0 1 0 12.4 0a6.2 6.2 0 1 0 -12.4 0zM1570 1414a6.2 6.2 0 1 0 12.4 0a6.2 6.2 0 1 0 -12.4 0zM1592.8 1414a6.2 6.2 0 1 0 12.4 0a6.2 6.2 0 1 0 -12.4 0zM1615.6 1414a6.2 6.2 0 1 0 12.4 0a6.2 6.2 0 1 0 -12.4 0zM1638.4 1414a6.2 6.2 0 1 0 12.4 0a6.2 6.2 0 1 0 -12.4 0zM1661.2 1414a6.2 6.2 0 1 0 12.4 0a6.2 6.2 0 1 0 -12.4 0zM1684 1414a6.2 6.2 0 1 0 12.4 0a6.2 6.2 0 1 0 -12.4 0zM1706.8 1414a6.2 6.2 0 1 0 12.4 0a6.2 6.2 0 1 0 -12.4 0z" stroke-width="2.15"/>
</g>
<g stroke="#00ffff">
<polyline points="1261.18,1203.33 1302.6,1386 1325.4,1386 1348.2,1386 1371,1386 1393.8,1386 1416.6,1386 1439.4,1386 1462.2,1386 1485,1386 1507.8,1386 1530.6,1386 1553.4,1386 1576.2,1386 1599,1386 1621.8,1386 1644.6,1386 1667.4,1386 1690.2,1386 1713,1388.33" stroke-width="2.2" stroke-linejoin="round"/>
<path d="M1261.18 1197.43v11.8M1255.28 1203.33h11.8M1257.01 1199.16l8.34 8.34M1257.01 1207.51l8.34 -8.34M1302.6 1380.1v11.8M1296.7 1386h11.8M1298.43 1381.83l8.34 8.34M1298.43 1390.17l8.34 -8.34M1325.4 1380.1v11.8M1319.5 1386h11.8M1321.23 1381.83l8.34 8.34M1321.23 1390.17l8.34 -8.34M1348.2 1380.1v11.8M1342.3 1386h11.8M1344.03 1381.83l8.34 8.34M1344.03 1390.17l8.34 -8.34M1371 1380.1v11.8M1365.1 1386h11.8M1366.83 1381.83l8.34 8.34M1366.83 1390.17l8.34 -8.34M1393.8 1380.1v11.8M1387.9 1386h11.8M1389.63 1381.83l8.34 8.34M1389.63 1390.17l8.34 -8.34M1416.6 1380.1v11.8M1410.7 1386h11.8M1412.43 1381.83l8.34 8.34M1412.43 1390.17l8.34 -8.34M1439.4 1380.1v11.8M1433.5 1386h11.8M1435.23 1381.83l8.34 8.34M1435.23 1390.17l8.34 -8.34M1462.2 1380.1v11.8M1456.3 1386h11.8M1458.03 1381.83l8.34 8.34M1458.03 1390.17l8.34 -8.34M1485 1380.1v11.8M1479.1 1386h11.8M1480.83 1381.83l8.34 8.34M1480.83 1390.17l8.34 -8.34M1507.8 1380.1v11.8M1501.9 1386h11.8M1503.63 1381.83l8.34 8.34M1503.63 1390.17l8.34 -8.34M1530.6 1380.1v11.8M1524.7 1386h11.8M1526.43 1381.83l8.34 8.34M1526.43 1390.17l8.34 -8.34M1553.4 1380.1v11.8M1547.5 1386h11.8M1549.23 1381.83l8.34 8.34M1549.23 1390.17l8.34 -8.34M1576.2 1380.1v11.8M1570.3 1386h11.8M1572.03 1381.83l8.34 8.34M1572.03 1390.17l8.34 -8.34M1599 1380.1v11.8M1593.1 1386h11.8M1594.83 1381.83l8.34 8.34M1594.83 1390.17l8.34 -8.34M1621.8 1380.1v11.8M1615.9 1386h11.8M1617.63 1381.83l8.34 8.34M1617.63 1390.17l8.34 -8.34M1644.6 1380.1v11.8M1638.7 1386h11.8M1640.43 1381.83l8.34 8.34M1640.43 1390.17l8.34 -8.34M1667.4 1380.1v11.8M1661.5 1386h11.8M1663.23 1381.83l8.34 8.34M1663.23 1390.17l8.34 -8.34M1690.2 1380.1v11.8M1684.3 1386h11.8M1686.03 1381.83l8.34 8.34M1686.03 1390.17l8.34 -8.34M1713 1382.43v11.8M1707.1 1388.33h11.8M1708.83 1384.16l8.34 8.34M1708.83 1392.51l8.34 -8.34" stroke-width="2.4"/>
</g>
</g>
<rect x="1451" y="1201.7" width="140.3" height="141.2" fill="#fff" stroke="#262626" stroke-width="2.0"/>
<g font-size="16.3" fill="#000" stroke="#000" stroke-width="0.4" letter-spacing="0.25">
<g stroke="#000000" fill="none"><path d="M1457.5 1215.7H1519.2" stroke-width="2.2"/><path d="M1483.25 1210.7h10v10h-10z" stroke-width="2.15"/></g>
<text x="1523.7" y="1222.3">MSDBO</text>
<g stroke="#ff00ff" fill="none"><path d="M1457.5 1238.36H1519.2" stroke-width="2.2"/><path d="M1488.25 1231.56L1489.78 1236.26L1494.72 1236.26L1490.72 1239.16L1492.25 1243.86L1488.25 1240.96L1484.25 1243.86L1485.78 1239.16L1481.78 1236.26L1486.72 1236.26z" stroke-width="2.15" fill="#ff00ff" fill-opacity="0.5"/></g>
<text x="1523.7" y="1244.96">DBO</text>
<g stroke="#00ff00" fill="none"><path d="M1457.5 1261.02H1519.2" stroke-width="2.2"/><path d="M1488.25 1252.82L1494.65 1261.02L1488.25 1269.22L1481.85 1261.02z" stroke-width="2.15"/></g>
<text x="1523.7" y="1267.62">IDBO</text>
<g stroke="#ff0000" fill="none"><path d="M1457.5 1283.68H1519.2" stroke-width="2.2"/><path d="M1488.25 1277.08L1490.16 1280.38L1493.97 1280.38L1492.06 1283.68L1493.97 1286.98L1490.16 1286.98L1488.25 1290.28L1486.34 1286.98L1482.53 1286.98L1484.44 1283.68L1482.53 1280.38L1486.34 1280.38z" stroke-width="2.35"/></g>
<text x="1523.7" y="1290.28">QHDBO</text>
<g stroke="#0000ff" fill="none"><path d="M1457.5 1306.34H1519.2" stroke-width="2.2"/><path d="M1482.05 1306.34a6.2 6.2 0 1 0 12.4 0a6.2 6.2 0 1 0 -12.4 0z" stroke-width="2.15"/></g>
<text x="1523.7" y="1312.94">MDBO</text>
<g stroke="#00ffff" fill="none"><path d="M1457.5 1329H1519.2" stroke-width="2.2"/><path d="M1488.25 1323.1v11.8M1482.35 1329h11.8M1484.08 1324.83l8.34 8.34M1484.08 1333.17l8.34 -8.34" stroke-width="2.4"/></g>
<text x="1523.7" y="1335.6">EDBO</text>
</g>
</g>
<g>
<rect x="79.6" y="1670" width="455.9" height="420.4" fill="#fff" stroke="#262626" stroke-width="2.2"/>
<path d="M79.6 2090.4v-5.6M79.6 1670v5.6M155.58 2090.4v-5.6M155.58 1670v5.6M231.57 2090.4v-5.6M231.57 1670v5.6M307.55 2090.4v-5.6M307.55 1670v5.6M383.53 2090.4v-5.6M383.53 1670v5.6M459.52 2090.4v-5.6M459.52 1670v5.6M535.5 2090.4v-5.6M535.5 1670v5.6M79.6 2090.4h5.6M535.5 2090.4h-5.6M79.6 2030.34h5.6M535.5 2030.34h-5.6M79.6 1970.29h5.6M535.5 1970.29h-5.6M79.6 1910.23h5.6M535.5 1910.23h-5.6M79.6 1850.17h5.6M535.5 1850.17h-5.6M79.6 1790.11h5.6M535.5 1790.11h-5.6M79.6 1730.06h5.6M535.5 1730.06h-5.6M79.6 1670h5.6M535.5 1670h-5.6" stroke="#262626" stroke-width="2.2" fill="none"/>
<g fill="#262626" stroke="#262626" stroke-width="0.4">
<g font-size="20.5" text-anchor="middle">
<text transform="translate(79.1 2120.2) scale(1 1.03)">0</text>
<text transform="translate(155.08 2120.2) scale(1 1.03)">0.5</text>
<text transform="translate(231.07 2120.2) scale(1 1.03)">1</text>
<text transform="translate(307.05 2120.2) scale(1 1.03)">1.5</text>
<text transform="translate(383.03 2120.2) scale(1 1.03)">2</text>
<text transform="translate(459.02 2120.2) scale(1 1.03)">2.5</text>
<text transform="translate(535 2120.2) scale(1 1.03)">3</text>
</g>
<g font-size="20.5" text-anchor="end">
<text transform="translate(70.1 2098.6) scale(1 1.03)">0.8</text>
<text transform="translate(70.1 2038.54) scale(1 1.03)">1</text>
<text transform="translate(70.1 1978.49) scale(1 1.03)">1.2</text>
<text transform="translate(70.1 1918.43) scale(1 1.03)">1.4</text>
<text transform="translate(70.1 1858.37) scale(1 1.03)">1.6</text>
<text transform="translate(70.1 1798.31) scale(1 1.03)">1.8</text>
<text transform="translate(70.1 1738.26) scale(1 1.03)">2</text>
<text transform="translate(70.1 1678.2) scale(1 1.03)">2.2</text>
</g>
<text x="486.9" y="2158.8" font-size="23.5" stroke="none">×</text>
<text x="535.2" y="2155.4" font-size="20.3" text-anchor="end">10<tspan dy="-10.3" font-size="15.6">5</tspan></text>
<text transform="translate(306.55 2150.6) scale(1 1.015)" font-size="22.5" text-anchor="middle">FEs</text>
<text transform="translate(29.1 1880.2) rotate(-90) scale(1 1.015)" font-size="22.5" text-anchor="middle" letter-spacing="0.2">log(Average best-so-far)</text>
</g>
<text transform="translate(307.25 1660.8) scale(1 1.0)" font-size="22.6" fill="#000" stroke="#000" stroke-width="0.4" text-anchor="middle">F19</text>
<g fill="none">
<g stroke="#000000">
<polyline points="83.78,1751 125.19,1984.33 147.98,1995.33 170.78,2000.33 193.57,2003.67 216.37,2020.33 239.16,2028.33 261.96,2033 284.75,2034.67 307.55,2036 330.34,2036.67 353.14,2037.67 375.93,2038.67 398.73,2039.33 421.52,2040.33 444.32,2041 467.11,2041.67 489.91,2042.67 512.7,2044 535.5,2045.33" stroke-width="2.2" stroke-linejoin="round"/>
<path d="M78.78 1746h10v10h-10zM120.19 1979.33h10v10h-10zM142.98 1990.33h10v10h-10zM165.78 1995.33h10v10h-10zM188.57 1998.67h10v10h-10zM211.37 2015.33h10v10h-10zM234.16 2023.33h10v10h-10zM256.96 2028h10v10h-10zM279.75 2029.67h10v10h-10zM302.55 2031h10v10h-10zM325.34 2031.67h10v10h-10zM348.14 2032.67h10v10h-10zM370.93 2033.67h10v10h-10zM393.73 2034.33h10v10h-10zM416.52 2035.33h10v10h-10zM439.32 2036h10v10h-10zM462.11 2036.67h10v10h-10zM484.91 2037.67h10v10h-10zM507.7 2039h10v10h-10zM530.5 2040.33h10v10h-10z" stroke-width="2.15"/>
</g>
<g stroke="#ff00ff">
<polyline points="83.78,1678.67 125.19,1718.67 147.98,1719.67 170.78,1719.67 193.57,1721.67 216.37,1721.67 239.16,1721.67 261.96,1721.67 284.75,1721.67 307.55,1732 330.34,1738.67 353.14,1744.67 375.93,1751 398.73,1759.67 421.52,1769.33 444.32,1772.67 467.11,1778.33 489.91,1796 512.7,1843.67 535.5,1918.67" stroke-width="2.2" stroke-linejoin="round"/>
<path d="M83.78 1671.87L85.31 1676.57L90.25 1676.57L86.25 1679.47L87.78 1684.17L83.78 1681.26L79.78 1684.17L81.31 1679.47L77.31 1676.57L82.25 1676.57zM125.19 1711.87L126.72 1716.57L131.66 1716.57L127.66 1719.47L129.19 1724.17L125.19 1721.26L121.19 1724.17L122.72 1719.47L118.72 1716.57L123.66 1716.57zM147.98 1712.87L149.51 1717.57L154.45 1717.57L150.46 1720.47L151.98 1725.17L147.98 1722.26L143.99 1725.17L145.51 1720.47L141.52 1717.57L146.46 1717.57zM170.78 1712.87L172.31 1717.57L177.25 1717.57L173.25 1720.47L174.78 1725.17L170.78 1722.26L166.78 1725.17L168.31 1720.47L164.31 1717.57L169.25 1717.57zM193.57 1714.87L195.1 1719.57L200.04 1719.57L196.05 1722.47L197.57 1727.17L193.57 1724.26L189.58 1727.17L191.1 1722.47L187.11 1719.57L192.05 1719.57zM216.37 1714.87L217.9 1719.57L222.84 1719.57L218.84 1722.47L220.37 1727.17L216.37 1724.26L212.37 1727.17L213.9 1722.47L209.9 1719.57L214.84 1719.57zM239.16 1714.87L240.69 1719.57L245.63 1719.57L241.64 1722.47L243.16 1727.17L239.16 1724.26L235.17 1727.17L236.69 1722.47L232.7 1719.57L237.64 1719.57zM261.96 1714.87L263.49 1719.57L268.43 1719.57L264.43 1722.47L265.96 1727.17L261.96 1724.26L257.96 1727.17L259.49 1722.47L255.49 1719.57L260.43 1719.57zM284.75 1714.87L286.28 1719.57L291.22 1719.57L287.23 1722.47L288.75 1727.17L284.75 1724.26L280.76 1727.17L282.28 1722.47L278.29 1719.57L283.23 1719.57zM307.55 1725.2L309.08 1729.9L314.02 1729.9L310.02 1732.8L311.55 1737.5L307.55 1734.6L303.55 1737.5L305.08 1732.8L301.08 1729.9L306.02 1729.9zM330.34 1731.87L331.87 1736.57L336.81 1736.57L332.82 1739.47L334.34 1744.17L330.34 1741.26L326.35 1744.17L327.87 1739.47L323.88 1736.57L328.82 1736.57zM353.14 1737.87L354.67 1742.57L359.61 1742.57L355.61 1745.47L357.14 1750.17L353.14 1747.26L349.14 1750.17L350.67 1745.47L346.67 1742.57L351.61 1742.57zM375.93 1744.2L377.46 1748.9L382.4 1748.9L378.41 1751.8L379.93 1756.5L375.93 1753.6L371.94 1756.5L373.46 1751.8L369.47 1748.9L374.41 1748.9zM398.73 1752.87L400.26 1757.57L405.2 1757.57L401.2 1760.47L402.73 1765.17L398.73 1762.26L394.73 1765.17L396.26 1760.47L392.26 1757.57L397.2 1757.57zM421.52 1762.53L423.05 1767.23L427.99 1767.23L424 1770.14L425.52 1774.83L421.52 1771.93L417.53 1774.83L419.05 1770.14L415.06 1767.23L420 1767.23zM444.32 1765.87L445.85 1770.57L450.79 1770.57L446.79 1773.47L448.32 1778.17L444.32 1775.26L440.32 1778.17L441.85 1773.47L437.85 1770.57L442.79 1770.57zM467.11 1771.53L468.64 1776.23L473.58 1776.23L469.59 1779.14L471.11 1783.83L467.11 1780.93L463.12 1783.83L464.64 1779.14L460.65 1776.23L465.59 1776.23zM489.91 1789.2L491.44 1793.9L496.38 1793.9L492.38 1796.8L493.91 1801.5L489.91 1798.6L485.91 1801.5L487.44 1796.8L483.44 1793.9L488.38 1793.9zM512.7 1836.87L514.23 1841.57L519.17 1841.57L515.18 1844.47L516.7 1849.17L512.7 1846.26L508.71 1849.17L510.23 1844.47L506.24 1841.57L511.18 1841.57zM535.5 1911.87L537.03 1916.57L541.97 1916.57L537.97 1919.47L539.5 1924.17L535.5 1921.26L531.5 1924.17L533.03 1919.47L529.03 1916.57L533.97 1916.57z" stroke-width="2.15" fill="#ff00ff" fill-opacity="0.5"/>
</g>
<g stroke="#00ff00">
<polyline points="83.78,1772 125.19,1921 147.98,1924.33 170.78,1924.33 193.57,1935.33 216.37,1939.33 239.16,1939.33 261.96,1939.33 284.75,1939.33 307.55,1939.67 330.34,1939.67 353.14,1940.33 375.93,1940.33 398.73,1940.33 421.52,1942 444.32,1943 467.11,1945.33 489.91,1945.67 512.7,1945.67 535.5,1946" stroke-width="2.2" stroke-linejoin="round"/>
<path d="M83.78 1763.8L90.18 1772L83.78 1780.2L77.38 1772zM125.19 1912.8L131.59 1921L125.19 1929.2L118.79 1921zM147.98 1916.13L154.38 1924.33L147.98 1932.53L141.58 1924.33zM170.78 1916.13L177.18 1924.33L170.78 1932.53L164.38 1924.33zM193.57 1927.13L199.97 1935.33L193.57 1943.53L187.17 1935.33zM216.37 1931.13L222.77 1939.33L216.37 1947.53L209.97 1939.33zM239.16 1931.13L245.56 1939.33L239.16 1947.53L232.76 1939.33zM261.96 1931.13L268.36 1939.33L261.96 1947.53L255.56 1939.33zM284.75 1931.13L291.15 1939.33L284.75 1947.53L278.36 1939.33zM307.55 1931.47L313.95 1939.67L307.55 1947.87L301.15 1939.67zM330.34 1931.47L336.74 1939.67L330.34 1947.87L323.94 1939.67zM353.14 1932.13L359.54 1940.33L353.14 1948.53L346.74 1940.33zM375.93 1932.13L382.33 1940.33L375.93 1948.53L369.53 1940.33zM398.73 1932.13L405.13 1940.33L398.73 1948.53L392.33 1940.33zM421.52 1933.8L427.92 1942L421.52 1950.2L415.12 1942zM444.32 1934.8L450.72 1943L444.32 1951.2L437.92 1943zM467.11 1937.13L473.51 1945.33L467.11 1953.53L460.71 1945.33zM489.91 1937.47L496.31 1945.67L489.91 1953.87L483.51 1945.67zM512.7 1937.47L519.1 1945.67L512.7 1953.87L506.3 1945.67zM535.5 1937.8L541.9 1946L535.5 1954.2L529.1 1946z" stroke-width="2.15"/>
</g>
<g stroke="#ff0000">
<polyline points="83.78,1750.33 125.19,1948 147.98,1949.33 170.78,1949.67 193.57,1949.67 216.37,1950 239.16,1950 261.96,1950.33 284.75,1950.33 307.55,1951 330.34,1951.67 353.14,1952.33 375.93,1952.67 398.73,1953 421.52,1968.33 444.32,1970.67 467.11,1970.67 489.91,1970.67 512.7,1970.67 535.5,1970.67" stroke-width="2.2" stroke-linejoin="round"/>
<path d="M83.78 1743.73L85.68 1747.03L89.49 1747.03L87.59 1750.33L89.49 1753.63L85.68 1753.63L83.78 1756.93L81.87 1753.63L78.06 1753.63L79.97 1750.33L78.06 1747.03L81.87 1747.03zM125.19 1941.4L127.1 1944.7L130.91 1944.7L129 1948L130.91 1951.3L127.1 1951.3L125.19 1954.6L123.28 1951.3L119.47 1951.3L121.38 1948L119.47 1944.7L123.28 1944.7zM147.98 1942.73L149.89 1946.03L153.7 1946.03L151.8 1949.33L153.7 1952.63L149.89 1952.63L147.98 1955.93L146.08 1952.63L142.27 1952.63L144.17 1949.33L142.27 1946.03L146.08 1946.03zM170.78 1943.07L172.69 1946.37L176.5 1946.37L174.59 1949.67L176.5 1952.97L172.69 1952.97L170.78 1956.27L168.87 1952.97L165.06 1952.97L166.97 1949.67L165.06 1946.37L168.87 1946.37zM193.57 1943.07L195.48 1946.37L199.29 1946.37L197.39 1949.67L199.29 1952.97L195.48 1952.97L193.57 1956.27L191.67 1952.97L187.86 1952.97L189.76 1949.67L187.86 1946.37L191.67 1946.37zM216.37 1943.4L218.28 1946.7L222.09 1946.7L220.18 1950L222.09 1953.3L218.28 1953.3L216.37 1956.6L214.46 1953.3L210.65 1953.3L212.56 1950L210.65 1946.7L214.46 1946.7zM239.16 1943.4L241.07 1946.7L244.88 1946.7L242.98 1950L244.88 1953.3L241.07 1953.3L239.16 1956.6L237.26 1953.3L233.45 1953.3L235.35 1950L233.45 1946.7L237.26 1946.7zM261.96 1943.73L263.87 1947.03L267.68 1947.03L265.77 1950.33L267.68 1953.63L263.87 1953.63L261.96 1956.93L260.05 1953.63L256.24 1953.63L258.15 1950.33L256.24 1947.03L260.05 1947.03zM284.75 1943.73L286.66 1947.03L290.47 1947.03L288.57 1950.33L290.47 1953.63L286.66 1953.63L284.75 1956.93L282.85 1953.63L279.04 1953.63L280.94 1950.33L279.04 1947.03L282.85 1947.03zM307.55 1944.4L309.46 1947.7L313.27 1947.7L311.36 1951L313.27 1954.3L309.46 1954.3L307.55 1957.6L305.64 1954.3L301.83 1954.3L303.74 1951L301.83 1947.7L305.64 1947.7zM330.34 1945.07L332.25 1948.37L336.06 1948.37L334.16 1951.67L336.06 1954.97L332.25 1954.97L330.34 1958.27L328.44 1954.97L324.63 1954.97L326.53 1951.67L324.63 1948.37L328.44 1948.37zM353.14 1945.73L355.05 1949.03L358.86 1949.03L356.95 1952.33L358.86 1955.63L355.05 1955.63L353.14 1958.93L351.23 1955.63L347.42 1955.63L349.33 1952.33L347.42 1949.03L351.23 1949.03zM375.93 1946.07L377.84 1949.37L381.65 1949.37L379.75 1952.67L381.65 1955.97L377.84 1955.97L375.93 1959.27L374.03 1955.97L370.22 1955.97L372.12 1952.67L370.22 1949.37L374.03 1949.37zM398.73 1946.4L400.64 1949.7L404.45 1949.7L402.54 1953L404.45 1956.3L400.64 1956.3L398.73 1959.6L396.82 1956.3L393.01 1956.3L394.92 1953L393.01 1949.7L396.82 1949.7zM421.52 1961.73L423.43 1965.03L427.24 1965.03L425.34 1968.33L427.24 1971.63L423.43 1971.63L421.52 1974.93L419.62 1971.63L415.81 1971.63L417.71 1968.33L415.81 1965.03L419.62 1965.03zM444.32 1964.07L446.23 1967.37L450.04 1967.37L448.13 1970.67L450.04 1973.97L446.23 1973.97L444.32 1977.27L442.41 1973.97L438.6 1973.97L440.51 1970.67L438.6 1967.37L442.41 1967.37zM467.11 1964.07L469.02 1967.37L472.83 1967.37L470.93 1970.67L472.83 1973.97L469.02 1973.97L467.11 1977.27L465.21 1973.97L461.4 1973.97L463.3 1970.67L461.4 1967.37L465.21 1967.37zM489.91 1964.07L491.82 1967.37L495.63 1967.37L493.72 1970.67L495.63 1973.97L491.82 1973.97L489.91 1977.27L488 1973.97L484.19 1973.97L486.1 1970.67L484.19 1967.37L488 1967.37zM512.7 1964.07L514.61 1967.37L518.42 1967.37L516.52 1970.67L518.42 1973.97L514.61 1973.97L512.7 1977.27L510.8 1973.97L506.99 1973.97L508.89 1970.67L506.99 1967.37L510.8 1967.37zM535.5 1964.07L537.41 1967.37L541.22 1967.37L539.31 1970.67L541.22 1973.97L537.41 1973.97L535.5 1977.27L533.59 1973.97L529.78 1973.97L531.69 1970.67L529.78 1967.37L533.59 1967.37z" stroke-width="2.35"/>
</g>
<g stroke="#0000ff">
<polyline points="83.78,1764.67 125.19,1978 147.98,1979 170.78,1979.67 193.57,1997.67 216.37,1999.33 239.16,1999.67 261.96,2000 284.75,2000 307.55,2000.33 330.34,2000.33 353.14,2000.33 375.93,2000.33 398.73,2000.67 421.52,2001 444.32,2004 467.11,2004.33 489.91,2004.33 512.7,2006 535.5,2010.67" stroke-width="2.2" stroke-linejoin="round"/>
<path d="M77.58 1764.67a6.2 6.2 0 1 0 12.4 0a6.2 6.2 0 1 0 -12.4 0zM118.99 1978a6.2 6.2 0 1 0 12.4 0a6.2 6.2 0 1 0 -12.4 0zM141.78 1979a6.2 6.2 0 1 0 12.4 0a6.2 6.2 0 1 0 -12.4 0zM164.58 1979.67a6.2 6.2 0 1 0 12.4 0a6.2 6.2 0 1 0 -12.4 0zM187.38 1997.67a6.2 6.2 0 1 0 12.4 0a6.2 6.2 0 1 0 -12.4 0zM210.17 1999.33a6.2 6.2 0 1 0 12.4 0a6.2 6.2 0 1 0 -12.4 0zM232.97 1999.67a6.2 6.2 0 1 0 12.4 0a6.2 6.2 0 1 0 -12.4 0zM255.76 2000a6.2 6.2 0 1 0 12.4 0a6.2 6.2 0 1 0 -12.4 0zM278.56 2000a6.2 6.2 0 1 0 12.4 0a6.2 6.2 0 1 0 -12.4 0zM301.35 2000.33a6.2 6.2 0 1 0 12.4 0a6.2 6.2 0 1 0 -12.4 0zM324.14 2000.33a6.2 6.2 0 1 0 12.4 0a6.2 6.2 0 1 0 -12.4 0zM346.94 2000.33a6.2 6.2 0 1 0 12.4 0a6.2 6.2 0 1 0 -12.4 0zM369.73 2000.33a6.2 6.2 0 1 0 12.4 0a6.2 6.2 0 1 0 -12.4 0zM392.53 2000.67a6.2 6.2 0 1 0 12.4 0a6.2 6.2 0 1 0 -12.4 0zM415.32 2001a6.2 6.2 0 1 0 12.4 0a6.2 6.2 0 1 0 -12.4 0zM438.12 2004a6.2 6.2 0 1 0 12.4 0a6.2 6.2 0 1 0 -12.4 0zM460.91 2004.33a6.2 6.2 0 1 0 12.4 0a6.2 6.2 0 1 0 -12.4 0zM483.71 2004.33a6.2 6.2 0 1 0 12.4 0a6.2 6.2 0 1 0 -12.4 0zM506.5 2006a6.2 6.2 0 1 0 12.4 0a6.2 6.2 0 1 0 -12.4 0zM529.3 2010.67a6.2 6.2 0 1 0 12.4 0a6.2 6.2 0 1 0 -12.4 0z" stroke-width="2.15"/>
</g>
<g stroke="#00ffff">
<polyline points="83.78,1762 125.19,1862 147.98,1883 170.78,1883.67 193.57,1883.67 216.37,1883.67 239.16,1883.67 261.96,1883.67 284.75,1883.67 307.55,1891 330.34,1891 353.14,1891 375.93,1891 398.73,1891 421.52,1896.33 444.32,1918 467.11,1930.67 489.91,1930.67 512.7,1948 535.5,1984.33" stroke-width="2.2" stroke-linejoin="round"/>
<path d="M83.78 1756.1v11.8M77.88 1762h11.8M79.61 1757.83l8.34 8.34M79.61 1766.17l8.34 -8.34M125.19 1856.1v11.8M119.29 1862h11.8M121.02 1857.83l8.34 8.34M121.02 1866.17l8.34 -8.34M147.98 1877.1v11.8M142.08 1883h11.8M143.81 1878.83l8.34 8.34M143.81 1887.17l8.34 -8.34M170.78 1877.77v11.8M164.88 1883.67h11.8M166.61 1879.49l8.34 8.34M166.61 1887.84l8.34 -8.34M193.57 1877.77v11.8M187.67 1883.67h11.8M189.4 1879.49l8.34 8.34M189.4 1887.84l8.34 -8.34M216.37 1877.77v11.8M210.47 1883.67h11.8M212.2 1879.49l8.34 8.34M212.2 1887.84l8.34 -8.34M239.16 1877.77v11.8M233.26 1883.67h11.8M234.99 1879.49l8.34 8.34M234.99 1887.84l8.34 -8.34M261.96 1877.77v11.8M256.06 1883.67h11.8M257.79 1879.49l8.34 8.34M257.79 1887.84l8.34 -8.34M284.75 1877.77v11.8M278.86 1883.67h11.8M280.58 1879.49l8.34 8.34M280.58 1887.84l8.34 -8.34M307.55 1885.1v11.8M301.65 1891h11.8M303.38 1886.83l8.34 8.34M303.38 1895.17l8.34 -8.34M330.34 1885.1v11.8M324.44 1891h11.8M326.17 1886.83l8.34 8.34M326.17 1895.17l8.34 -8.34M353.14 1885.1v11.8M347.24 1891h11.8M348.97 1886.83l8.34 8.34M348.97 1895.17l8.34 -8.34M375.93 1885.1v11.8M370.03 1891h11.8M371.76 1886.83l8.34 8.34M371.76 1895.17l8.34 -8.34M398.73 1885.1v11.8M392.83 1891h11.8M394.56 1886.83l8.34 8.34M394.56 1895.17l8.34 -8.34M421.52 1890.43v11.8M415.62 1896.33h11.8M417.35 1892.16l8.34 8.34M417.35 1900.51l8.34 -8.34M444.32 1912.1v11.8M438.42 1918h11.8M440.15 1913.83l8.34 8.34M440.15 1922.17l8.34 -8.34M467.11 1924.77v11.8M461.21 1930.67h11.8M462.94 1926.49l8.34 8.34M462.94 1934.84l8.34 -8.34M489.91 1924.77v11.8M484.01 1930.67h11.8M485.74 1926.49l8.34 8.34M485.74 1934.84l8.34 -8.34M512.7 1942.1v11.8M506.8 1948h11.8M508.53 1943.83l8.34 8.34M508.53 1952.17l8.34 -8.34M535.5 1978.43v11.8M529.6 1984.33h11.8M531.33 1980.16l8.34 8.34M531.33 1988.51l8.34 -8.34" stroke-width="2.4"/>
</g>
</g>
<rect x="240.45" y="1721.2" width="140.3" height="141.2" fill="#fff" stroke="#262626" stroke-width="2.0"/>
<g font-size="16.3" fill="#000" stroke="#000" stroke-width="0.4" letter-spacing="0.25">
<g stroke="#000000" fill="none"><path d="M246.95 1735.2H308.65" stroke-width="2.2"/><path d="M272.7 1730.2h10v10h-10z" stroke-width="2.15"/></g>
<text x="313.15" y="1741.8">MSDBO</text>
<g stroke="#ff00ff" fill="none"><path d="M246.95 1757.86H308.65" stroke-width="2.2"/><path d="M277.7 1751.06L279.23 1755.76L284.17 1755.76L280.17 1758.66L281.7 1763.36L277.7 1760.46L273.7 1763.36L275.23 1758.66L271.23 1755.76L276.17 1755.76z" stroke-width="2.15" fill="#ff00ff" fill-opacity="0.5"/></g>
<text x="313.15" y="1764.46">DBO</text>
<g stroke="#00ff00" fill="none"><path d="M246.95 1780.52H308.65" stroke-width="2.2"/><path d="M277.7 1772.32L284.1 1780.52L277.7 1788.72L271.3 1780.52z" stroke-width="2.15"/></g>
<text x="313.15" y="1787.12">IDBO</text>
<g stroke="#ff0000" fill="none"><path d="M246.95 1803.18H308.65" stroke-width="2.2"/><path d="M277.7 1796.58L279.61 1799.88L283.42 1799.88L281.51 1803.18L283.42 1806.48L279.61 1806.48L277.7 1809.78L275.79 1806.48L271.98 1806.48L273.89 1803.18L271.98 1799.88L275.79 1799.88z" stroke-width="2.35"/></g>
<text x="313.15" y="1809.78">QHDBO</text>
<g stroke="#0000ff" fill="none"><path d="M246.95 1825.84H308.65" stroke-width="2.2"/><path d="M271.5 1825.84a6.2 6.2 0 1 0 12.4 0a6.2 6.2 0 1 0 -12.4 0z" stroke-width="2.15"/></g>
<text x="313.15" y="1832.44">MDBO</text>
<g stroke="#00ffff" fill="none"><path d="M246.95 1848.5H308.65" stroke-width="2.2"/><path d="M277.7 1842.6v11.8M271.8 1848.5h11.8M273.53 1844.33l8.34 8.34M273.53 1852.67l8.34 -8.34" stroke-width="2.4"/></g>
<text x="313.15" y="1855.1">EDBO</text>
</g>
</g>
<g>
<rect x="668.5" y="1670" width="455.4" height="420.4" fill="#fff" stroke="#262626" stroke-width="2.2"/>
<path d="M668.5 2090.4v-5.6M668.5 1670v5.6M744.4 2090.4v-5.6M744.4 1670v5.6M820.3 2090.4v-5.6M820.3 1670v5.6M896.2 2090.4v-5.6M896.2 1670v5.6M972.1 2090.4v-5.6M972.1 1670v5.6M1048 2090.4v-5.6M1048 1670v5.6M1123.9 2090.4v-5.6M1123.9 1670v5.6M668.5 2090.4h5.6M1123.9 2090.4h-5.6M668.5 2020.33h5.6M1123.9 2020.33h-5.6M668.5 1950.27h5.6M1123.9 1950.27h-5.6M668.5 1880.2h5.6M1123.9 1880.2h-5.6M668.5 1810.13h5.6M1123.9 1810.13h-5.6M668.5 1740.07h5.6M1123.9 1740.07h-5.6M668.5 1670h5.6M1123.9 1670h-5.6" stroke="#262626" stroke-width="2.2" fill="none"/>
<g fill="#262626" stroke="#262626" stroke-width="0.4">
<g font-size="20.5" text-anchor="middle">
<text transform="translate(668 2120.2) scale(1 1.03)">0</text>
<text transform="translate(743.9 2120.2) scale(1 1.03)">0.5</text>
<text transform="translate(819.8 2120.2) scale(1 1.03)">1</text>
<text transform="translate(895.7 2120.2) scale(1 1.03)">1.5</text>
<text transform="translate(971.6 2120.2) scale(1 1.03)">2</text>
<text transform="translate(1047.5 2120.2) scale(1 1.03)">2.5</text>
<text transform="translate(1123.4 2120.2) scale(1 1.03)">3</text>
</g>
<g font-size="20.5" text-anchor="end">
<text transform="translate(659 2098.6) scale(1 1.03)">2.5</text>
<text transform="translate(659 2028.53) scale(1 1.03)">3</text>
<text transform="translate(659 1958.47) scale(1 1.03)">3.5</text>
<text transform="translate(659 1888.4) scale(1 1.03)">4</text>
<text transform="translate(659 1818.33) scale(1 1.03)">4.5</text>
<text transform="translate(659 1748.27) scale(1 1.03)">5</text>
<text transform="translate(659 1678.2) scale(1 1.03)">5.5</text>
</g>
<text x="1075.3" y="2158.8" font-size="23.5" stroke="none">×</text>
<text x="1123.6" y="2155.4" font-size="20.3" text-anchor="end">10<tspan dy="-10.3" font-size="15.6">5</tspan></text>
<text transform="translate(895.2 2150.6) scale(1 1.015)" font-size="22.5" text-anchor="middle">FEs</text>
<text transform="translate(618 1880.2) rotate(-90) scale(1 1.015)" font-size="22.5" text-anchor="middle" letter-spacing="0.2">log(Average best-so-far)</text>
</g>
<text transform="translate(895.9 1660.8) scale(1 1.0)" font-size="22.6" fill="#000" stroke="#000" stroke-width="0.4" text-anchor="middle">F20</text>
<g fill="none">
<g stroke="#000000">
<polyline points="672.67,1706.33 714.04,1845.33 736.81,1867.67 759.58,1884.67 782.35,1899.67 805.12,1921.33 827.89,1930.67 850.66,1945 873.43,1958.33 896.2,1968.33 918.97,1990.33 941.74,1998 964.51,2007.33 987.28,2021 1010.05,2032.67 1032.82,2039.33 1055.59,2055.67 1078.36,2060.33 1101.13,2067.67 1123.9,2072" stroke-width="2.2" stroke-linejoin="round"/>
<path d="M667.67 1701.33h10v10h-10zM709.04 1840.33h10v10h-10zM731.81 1862.67h10v10h-10zM754.58 1879.67h10v10h-10zM777.35 1894.67h10v10h-10zM800.12 1916.33h10v10h-10zM822.89 1925.67h10v10h-10zM845.66 1940h10v10h-10zM868.43 1953.33h10v10h-10zM891.2 1963.33h10v10h-10zM913.97 1985.33h10v10h-10zM936.74 1993h10v10h-10zM959.51 2002.33h10v10h-10zM982.28 2016h10v10h-10zM1005.05 2027.67h10v10h-10zM1027.82 2034.33h10v10h-10zM1050.59 2050.67h10v10h-10zM1073.36 2055.33h10v10h-10zM1096.13 2062.67h10v10h-10zM1118.9 2067h10v10h-10z" stroke-width="2.15"/>
</g>
<g stroke="#ff00ff">
<polyline points="672.67,1677.67 714.04,1750.33 736.81,1754.67 759.58,1757.67 782.35,1759 805.12,1760 827.89,1761.33 850.66,1763.33 873.43,1764.33 896.2,1810.33 918.97,1818 941.74,1820.33 964.51,1826.33 987.28,1839.67 1010.05,1850.33 1032.82,1856.33 1055.59,1872 1078.36,1893 1101.13,1911 1123.9,1926.33" stroke-width="2.2" stroke-linejoin="round"/>
<path d="M672.67 1670.87L674.2 1675.57L679.14 1675.57L675.14 1678.47L676.67 1683.17L672.67 1680.26L668.68 1683.17L670.2 1678.47L666.21 1675.57L671.15 1675.57zM714.04 1743.53L715.57 1748.23L720.51 1748.23L716.51 1751.14L718.04 1755.83L714.04 1752.93L710.04 1755.83L711.57 1751.14L707.57 1748.23L712.51 1748.23zM736.81 1747.87L738.34 1752.57L743.28 1752.57L739.28 1755.47L740.81 1760.17L736.81 1757.26L732.81 1760.17L734.34 1755.47L730.34 1752.57L735.28 1752.57zM759.58 1750.87L761.11 1755.57L766.05 1755.57L762.05 1758.47L763.58 1763.17L759.58 1760.26L755.58 1763.17L757.11 1758.47L753.11 1755.57L758.05 1755.57zM782.35 1752.2L783.88 1756.9L788.82 1756.9L784.82 1759.8L786.35 1764.5L782.35 1761.6L778.35 1764.5L779.88 1759.8L775.88 1756.9L780.82 1756.9zM805.12 1753.2L806.65 1757.9L811.59 1757.9L807.59 1760.8L809.12 1765.5L805.12 1762.6L801.12 1765.5L802.65 1760.8L798.65 1757.9L803.59 1757.9zM827.89 1754.53L829.42 1759.23L834.36 1759.23L830.36 1762.14L831.89 1766.83L827.89 1763.93L823.89 1766.83L825.42 1762.14L821.42 1759.23L826.36 1759.23zM850.66 1756.53L852.19 1761.23L857.13 1761.23L853.13 1764.14L854.66 1768.83L850.66 1765.93L846.66 1768.83L848.19 1764.14L844.19 1761.23L849.13 1761.23zM873.43 1757.53L874.96 1762.23L879.9 1762.23L875.9 1765.14L877.43 1769.83L873.43 1766.93L869.43 1769.83L870.96 1765.14L866.96 1762.23L871.9 1762.23zM896.2 1803.53L897.73 1808.23L902.67 1808.23L898.67 1811.14L900.2 1815.83L896.2 1812.93L892.2 1815.83L893.73 1811.14L889.73 1808.23L894.67 1808.23zM918.97 1811.2L920.5 1815.9L925.44 1815.9L921.44 1818.8L922.97 1823.5L918.97 1820.6L914.97 1823.5L916.5 1818.8L912.5 1815.9L917.44 1815.9zM941.74 1813.53L943.27 1818.23L948.21 1818.23L944.21 1821.14L945.74 1825.83L941.74 1822.93L937.74 1825.83L939.27 1821.14L935.27 1818.23L940.21 1818.23zM964.51 1819.53L966.04 1824.23L970.98 1824.23L966.98 1827.14L968.51 1831.83L964.51 1828.93L960.51 1831.83L962.04 1827.14L958.04 1824.23L962.98 1824.23zM987.28 1832.87L988.81 1837.57L993.75 1837.57L989.75 1840.47L991.28 1845.17L987.28 1842.26L983.28 1845.17L984.81 1840.47L980.81 1837.57L985.75 1837.57zM1010.05 1843.53L1011.58 1848.23L1016.52 1848.23L1012.52 1851.14L1014.05 1855.83L1010.05 1852.93L1006.05 1855.83L1007.58 1851.14L1003.58 1848.23L1008.52 1848.23zM1032.82 1849.53L1034.35 1854.23L1039.29 1854.23L1035.29 1857.14L1036.82 1861.83L1032.82 1858.93L1028.82 1861.83L1030.35 1857.14L1026.35 1854.23L1031.29 1854.23zM1055.59 1865.2L1057.12 1869.9L1062.06 1869.9L1058.06 1872.8L1059.59 1877.5L1055.59 1874.6L1051.59 1877.5L1053.12 1872.8L1049.12 1869.9L1054.06 1869.9zM1078.36 1886.2L1079.89 1890.9L1084.83 1890.9L1080.83 1893.8L1082.36 1898.5L1078.36 1895.6L1074.36 1898.5L1075.89 1893.8L1071.89 1890.9L1076.83 1890.9zM1101.13 1904.2L1102.66 1908.9L1107.6 1908.9L1103.6 1911.8L1105.13 1916.5L1101.13 1913.6L1097.13 1916.5L1098.66 1911.8L1094.66 1908.9L1099.6 1908.9zM1123.9 1919.53L1125.43 1924.23L1130.37 1924.23L1126.37 1927.14L1127.9 1931.83L1123.9 1928.93L1119.9 1931.83L1121.43 1927.14L1117.43 1924.23L1122.37 1924.23z" stroke-width="2.15" fill="#ff00ff" fill-opacity="0.5"/>
</g>
<g stroke="#00ff00">
<polyline points="672.67,1742.67 714.04,1800.33 736.81,1807.67 759.58,1810.33 782.35,1813 805.12,1816.33 827.89,1818.67 850.66,1823 873.43,1825.33 896.2,1839.67 918.97,1847 941.74,1851 964.51,1852 987.28,1852.67 1010.05,1857 1032.82,1864.33 1055.59,1869.33 1078.36,1880.33 1101.13,1883.67 1123.9,1898.67" stroke-width="2.2" stroke-linejoin="round"/>
<path d="M672.67 1734.47L679.07 1742.67L672.67 1750.87L666.27 1742.67zM714.04 1792.13L720.44 1800.33L714.04 1808.53L707.64 1800.33zM736.81 1799.47L743.21 1807.67L736.81 1815.87L730.41 1807.67zM759.58 1802.13L765.98 1810.33L759.58 1818.53L753.18 1810.33zM782.35 1804.8L788.75 1813L782.35 1821.2L775.95 1813zM805.12 1808.13L811.52 1816.33L805.12 1824.53L798.72 1816.33zM827.89 1810.47L834.29 1818.67L827.89 1826.87L821.49 1818.67zM850.66 1814.8L857.06 1823L850.66 1831.2L844.26 1823zM873.43 1817.13L879.83 1825.33L873.43 1833.53L867.03 1825.33zM896.2 1831.47L902.6 1839.67L896.2 1847.87L889.8 1839.67zM918.97 1838.8L925.37 1847L918.97 1855.2L912.57 1847zM941.74 1842.8L948.14 1851L941.74 1859.2L935.34 1851zM964.51 1843.8L970.91 1852L964.51 1860.2L958.11 1852zM987.28 1844.47L993.68 1852.67L987.28 1860.87L980.88 1852.67zM1010.05 1848.8L1016.45 1857L1010.05 1865.2L1003.65 1857zM1032.82 1856.13L1039.22 1864.33L1032.82 1872.53L1026.42 1864.33zM1055.59 1861.13L1061.99 1869.33L1055.59 1877.53L1049.19 1869.33zM1078.36 1872.13L1084.76 1880.33L1078.36 1888.53L1071.96 1880.33zM1101.13 1875.47L1107.53 1883.67L1101.13 1891.87L1094.73 1883.67zM1123.9 1890.47L1130.3 1898.67L1123.9 1906.87L1117.5 1898.67z" stroke-width="2.15"/>
</g>
<g stroke="#ff0000">
<polyline points="672.67,1693 714.04,1771.33 736.81,1782.33 759.58,1788.33 782.35,1791.33 805.12,1797.33 827.89,1808 850.66,1816 873.43,1824.33 896.2,1828.33 918.97,1829.67 941.74,1833 964.51,1835.33 987.28,1838.67 1010.05,1847 1032.82,1851.33 1055.59,1854.33 1078.36,1860.67 1101.13,1865.67 1123.9,1868.67" stroke-width="2.2" stroke-linejoin="round"/>
<path d="M672.67 1686.4L674.58 1689.7L678.39 1689.7L676.49 1693L678.39 1696.3L674.58 1696.3L672.67 1699.6L670.77 1696.3L666.96 1696.3L668.86 1693L666.96 1689.7L670.77 1689.7zM714.04 1764.73L715.95 1768.03L719.76 1768.03L717.85 1771.33L719.76 1774.63L715.95 1774.63L714.04 1777.93L712.13 1774.63L708.32 1774.63L710.23 1771.33L708.32 1768.03L712.13 1768.03zM736.81 1775.73L738.72 1779.03L742.53 1779.03L740.62 1782.33L742.53 1785.63L738.72 1785.63L736.81 1788.93L734.9 1785.63L731.09 1785.63L733 1782.33L731.09 1779.03L734.9 1779.03zM759.58 1781.73L761.49 1785.03L765.3 1785.03L763.39 1788.33L765.3 1791.63L761.49 1791.63L759.58 1794.93L757.67 1791.63L753.86 1791.63L755.77 1788.33L753.86 1785.03L757.67 1785.03zM782.35 1784.73L784.26 1788.03L788.07 1788.03L786.16 1791.33L788.07 1794.63L784.26 1794.63L782.35 1797.93L780.44 1794.63L776.63 1794.63L778.54 1791.33L776.63 1788.03L780.44 1788.03zM805.12 1790.73L807.03 1794.03L810.84 1794.03L808.93 1797.33L810.84 1800.63L807.03 1800.63L805.12 1803.93L803.21 1800.63L799.4 1800.63L801.31 1797.33L799.4 1794.03L803.21 1794.03zM827.89 1801.4L829.8 1804.7L833.61 1804.7L831.7 1808L833.61 1811.3L829.8 1811.3L827.89 1814.6L825.98 1811.3L822.17 1811.3L824.08 1808L822.17 1804.7L825.98 1804.7zM850.66 1809.4L852.57 1812.7L856.38 1812.7L854.47 1816L856.38 1819.3L852.57 1819.3L850.66 1822.6L848.75 1819.3L844.94 1819.3L846.85 1816L844.94 1812.7L848.75 1812.7zM873.43 1817.73L875.34 1821.03L879.15 1821.03L877.24 1824.33L879.15 1827.63L875.34 1827.63L873.43 1830.93L871.52 1827.63L867.71 1827.63L869.62 1824.33L867.71 1821.03L871.52 1821.03zM896.2 1821.73L898.11 1825.03L901.92 1825.03L900.01 1828.33L901.92 1831.63L898.11 1831.63L896.2 1834.93L894.29 1831.63L890.48 1831.63L892.39 1828.33L890.48 1825.03L894.29 1825.03zM918.97 1823.07L920.88 1826.37L924.69 1826.37L922.78 1829.67L924.69 1832.97L920.88 1832.97L918.97 1836.27L917.06 1832.97L913.25 1832.97L915.16 1829.67L913.25 1826.37L917.06 1826.37zM941.74 1826.4L943.65 1829.7L947.46 1829.7L945.55 1833L947.46 1836.3L943.65 1836.3L941.74 1839.6L939.83 1836.3L936.02 1836.3L937.93 1833L936.02 1829.7L939.83 1829.7zM964.51 1828.73L966.42 1832.03L970.23 1832.03L968.32 1835.33L970.23 1838.63L966.42 1838.63L964.51 1841.93L962.6 1838.63L958.79 1838.63L960.7 1835.33L958.79 1832.03L962.6 1832.03zM987.28 1832.07L989.19 1835.37L993 1835.37L991.09 1838.67L993 1841.97L989.19 1841.97L987.28 1845.27L985.37 1841.97L981.56 1841.97L983.47 1838.67L981.56 1835.37L985.37 1835.37zM1010.05 1840.4L1011.96 1843.7L1015.77 1843.7L1013.86 1847L1015.77 1850.3L1011.96 1850.3L1010.05 1853.6L1008.14 1850.3L1004.33 1850.3L1006.24 1847L1004.33 1843.7L1008.14 1843.7zM1032.82 1844.73L1034.73 1848.03L1038.54 1848.03L1036.63 1851.33L1038.54 1854.63L1034.73 1854.63L1032.82 1857.93L1030.91 1854.63L1027.1 1854.63L1029.01 1851.33L1027.1 1848.03L1030.91 1848.03zM1055.59 1847.73L1057.5 1851.03L1061.31 1851.03L1059.4 1854.33L1061.31 1857.63L1057.5 1857.63L1055.59 1860.93L1053.68 1857.63L1049.87 1857.63L1051.78 1854.33L1049.87 1851.03L1053.68 1851.03zM1078.36 1854.07L1080.27 1857.37L1084.08 1857.37L1082.17 1860.67L1084.08 1863.97L1080.27 1863.97L1078.36 1867.27L1076.45 1863.97L1072.64 1863.97L1074.55 1860.67L1072.64 1857.37L1076.45 1857.37zM1101.13 1859.07L1103.04 1862.37L1106.85 1862.37L1104.94 1865.67L1106.85 1868.97L1103.04 1868.97L1101.13 1872.27L1099.22 1868.97L1095.41 1868.97L1097.32 1865.67L1095.41 1862.37L1099.22 1862.37zM1123.9 1862.07L1125.81 1865.37L1129.62 1865.37L1127.71 1868.67L1129.62 1871.97L1125.81 1871.97L1123.9 1875.27L1121.99 1871.97L1118.18 1871.97L1120.09 1868.67L1118.18 1865.37L1121.99 1865.37z" stroke-width="2.35"/>
</g>
<g stroke="#0000ff">
<polyline points="672.67,1717 714.04,1807 736.81,1815.33 759.58,1821.33 782.35,1825.67 805.12,1827.33 827.89,1831.33 850.66,1834.67 873.43,1837.67 896.2,1842 918.97,1848.67 941.74,1854.33 964.51,1855.67 987.28,1858.67 1010.05,1862.67 1032.82,1864.33 1055.59,1866.67 1078.36,1868 1101.13,1870.33 1123.9,1876.33" stroke-width="2.2" stroke-linejoin="round"/>
<path d="M666.47 1717a6.2 6.2 0 1 0 12.4 0a6.2 6.2 0 1 0 -12.4 0zM707.84 1807a6.2 6.2 0 1 0 12.4 0a6.2 6.2 0 1 0 -12.4 0zM730.61 1815.33a6.2 6.2 0 1 0 12.4 0a6.2 6.2 0 1 0 -12.4 0zM753.38 1821.33a6.2 6.2 0 1 0 12.4 0a6.2 6.2 0 1 0 -12.4 0zM776.15 1825.67a6.2 6.2 0 1 0 12.4 0a6.2 6.2 0 1 0 -12.4 0zM798.92 1827.33a6.2 6.2 0 1 0 12.4 0a6.2 6.2 0 1 0 -12.4 0zM821.69 1831.33a6.2 6.2 0 1 0 12.4 0a6.2 6.2 0 1 0 -12.4 0zM844.46 1834.67a6.2 6.2 0 1 0 12.4 0a6.2 6.2 0 1 0 -12.4 0zM867.23 1837.67a6.2 6.2 0 1 0 12.4 0a6.2 6.2 0 1 0 -12.4 0zM890 1842a6.2 6.2 0 1 0 12.4 0a6.2 6.2 0 1 0 -12.4 0zM912.77 1848.67a6.2 6.2 0 1 0 12.4 0a6.2 6.2 0 1 0 -12.4 0zM935.54 1854.33a6.2 6.2 0 1 0 12.4 0a6.2 6.2 0 1 0 -12.4 0zM958.31 1855.67a6.2 6.2 0 1 0 12.4 0a6.2 6.2 0 1 0 -12.4 0zM981.08 1858.67a6.2 6.2 0 1 0 12.4 0a6.2 6.2 0 1 0 -12.4 0zM1003.85 1862.67a6.2 6.2 0 1 0 12.4 0a6.2 6.2 0 1 0 -12.4 0zM1026.62 1864.33a6.2 6.2 0 1 0 12.4 0a6.2 6.2 0 1 0 -12.4 0zM1049.39 1866.67a6.2 6.2 0 1 0 12.4 0a6.2 6.2 0 1 0 -12.4 0zM1072.16 1868a6.2 6.2 0 1 0 12.4 0a6.2 6.2 0 1 0 -12.4 0zM1094.93 1870.33a6.2 6.2 0 1 0 12.4 0a6.2 6.2 0 1 0 -12.4 0zM1117.7 1876.33a6.2 6.2 0 1 0 12.4 0a6.2 6.2 0 1 0 -12.4 0z" stroke-width="2.15"/>
</g>
<g stroke="#00ffff">
<polyline points="672.67,1714.33 714.04,1805.33 736.81,1821 759.58,1837 782.35,1856.67 805.12,1865 827.89,1873.33 850.66,1887 873.43,1895 896.2,1902 918.97,1908.33 941.74,1915.67 964.51,1922 987.28,1929.67 1010.05,1933 1032.82,1938 1055.59,1943.67 1078.36,1948.33 1101.13,1956.33 1123.9,1966.33" stroke-width="2.2" stroke-linejoin="round"/>
<path d="M672.67 1708.43v11.8M666.77 1714.33h11.8M668.5 1710.16l8.34 8.34M668.5 1718.51l8.34 -8.34M714.04 1799.43v11.8M708.14 1805.33h11.8M709.87 1801.16l8.34 8.34M709.87 1809.51l8.34 -8.34M736.81 1815.1v11.8M730.91 1821h11.8M732.64 1816.83l8.34 8.34M732.64 1825.17l8.34 -8.34M759.58 1831.1v11.8M753.68 1837h11.8M755.41 1832.83l8.34 8.34M755.41 1841.17l8.34 -8.34M782.35 1850.77v11.8M776.45 1856.67h11.8M778.18 1852.49l8.34 8.34M778.18 1860.84l8.34 -8.34M805.12 1859.1v11.8M799.22 1865h11.8M800.95 1860.83l8.34 8.34M800.95 1869.17l8.34 -8.34M827.89 1867.43v11.8M821.99 1873.33h11.8M823.72 1869.16l8.34 8.34M823.72 1877.51l8.34 -8.34M850.66 1881.1v11.8M844.76 1887h11.8M846.49 1882.83l8.34 8.34M846.49 1891.17l8.34 -8.34M873.43 1889.1v11.8M867.53 1895h11.8M869.26 1890.83l8.34 8.34M869.26 1899.17l8.34 -8.34M896.2 1896.1v11.8M890.3 1902h11.8M892.03 1897.83l8.34 8.34M892.03 1906.17l8.34 -8.34M918.97 1902.43v11.8M913.07 1908.33h11.8M914.8 1904.16l8.34 8.34M914.8 1912.51l8.34 -8.34M941.74 1909.77v11.8M935.84 1915.67h11.8M937.57 1911.49l8.34 8.34M937.57 1919.84l8.34 -8.34M964.51 1916.1v11.8M958.61 1922h11.8M960.34 1917.83l8.34 8.34M960.34 1926.17l8.34 -8.34M987.28 1923.77v11.8M981.38 1929.67h11.8M983.11 1925.49l8.34 8.34M983.11 1933.84l8.34 -8.34M1010.05 1927.1v11.8M1004.15 1933h11.8M1005.88 1928.83l8.34 8.34M1005.88 1937.17l8.34 -8.34M1032.82 1932.1v11.8M1026.92 1938h11.8M1028.65 1933.83l8.34 8.34M1028.65 1942.17l8.34 -8.34M1055.59 1937.77v11.8M1049.69 1943.67h11.8M1051.42 1939.49l8.34 8.34M1051.42 1947.84l8.34 -8.34M1078.36 1942.43v11.8M1072.46 1948.33h11.8M1074.19 1944.16l8.34 8.34M1074.19 1952.51l8.34 -8.34M1101.13 1950.43v11.8M1095.23 1956.33h11.8M1096.96 1952.16l8.34 8.34M1096.96 1960.51l8.34 -8.34M1123.9 1960.43v11.8M1118 1966.33h11.8M1119.73 1962.16l8.34 8.34M1119.73 1970.51l8.34 -8.34" stroke-width="2.4"/>
</g>
</g>
<rect x="972.5" y="1677.3" width="140.3" height="141.2" fill="#fff" stroke="#262626" stroke-width="2.0"/>
<g font-size="16.3" fill="#000" stroke="#000" stroke-width="0.4" letter-spacing="0.25">
<g stroke="#000000" fill="none"><path d="M979 1691.3H1040.7" stroke-width="2.2"/><path d="M1004.75 1686.3h10v10h-10z" stroke-width="2.15"/></g>
<text x="1045.2" y="1697.9">MSDBO</text>
<g stroke="#ff00ff" fill="none"><path d="M979 1713.96H1040.7" stroke-width="2.2"/><path d="M1009.75 1707.16L1011.28 1711.86L1016.22 1711.86L1012.22 1714.76L1013.75 1719.46L1009.75 1716.56L1005.75 1719.46L1007.28 1714.76L1003.28 1711.86L1008.22 1711.86z" stroke-width="2.15" fill="#ff00ff" fill-opacity="0.5"/></g>
<text x="1045.2" y="1720.56">DBO</text>
<g stroke="#00ff00" fill="none"><path d="M979 1736.62H1040.7" stroke-width="2.2"/><path d="M1009.75 1728.42L1016.15 1736.62L1009.75 1744.82L1003.35 1736.62z" stroke-width="2.15"/></g>
<text x="1045.2" y="1743.22">IDBO</text>
<g stroke="#ff0000" fill="none"><path d="M979 1759.28H1040.7" stroke-width="2.2"/><path d="M1009.75 1752.68L1011.66 1755.98L1015.47 1755.98L1013.56 1759.28L1015.47 1762.58L1011.66 1762.58L1009.75 1765.88L1007.84 1762.58L1004.03 1762.58L1005.94 1759.28L1004.03 1755.98L1007.84 1755.98z" stroke-width="2.35"/></g>
<text x="1045.2" y="1765.88">QHDBO</text>
<g stroke="#0000ff" fill="none"><path d="M979 1781.94H1040.7" stroke-width="2.2"/><path d="M1003.55 1781.94a6.2 6.2 0 1 0 12.4 0a6.2 6.2 0 1 0 -12.4 0z" stroke-width="2.15"/></g>
<text x="1045.2" y="1788.54">MDBO</text>
<g stroke="#00ffff" fill="none"><path d="M979 1804.6H1040.7" stroke-width="2.2"/><path d="M1009.75 1798.7v11.8M1003.85 1804.6h11.8M1005.58 1800.43l8.34 8.34M1005.58 1808.77l8.34 -8.34" stroke-width="2.4"/></g>
<text x="1045.2" y="1811.2">EDBO</text>
</g>
</g>
<g>
<rect x="1257" y="1670" width="456" height="420.4" fill="#fff" stroke="#262626" stroke-width="2.2"/>
<path d="M1257 2090.4v-5.6M1257 1670v5.6M1333 2090.4v-5.6M1333 1670v5.6M1409 2090.4v-5.6M1409 1670v5.6M1485 2090.4v-5.6M1485 1670v5.6M1561 2090.4v-5.6M1561 1670v5.6M1637 2090.4v-5.6M1637 1670v5.6M1713 2090.4v-5.6M1713 1670v5.6M1257 2090.4h5.6M1713 2090.4h-5.6M1257 2006.32h5.6M1713 2006.32h-5.6M1257 1922.24h5.6M1713 1922.24h-5.6M1257 1838.16h5.6M1713 1838.16h-5.6M1257 1754.08h5.6M1713 1754.08h-5.6M1257 1670h5.6M1713 1670h-5.6" stroke="#262626" stroke-width="2.2" fill="none"/>
<g fill="#262626" stroke="#262626" stroke-width="0.4">
<g font-size="20.5" text-anchor="middle">
<text transform="translate(1256.5 2120.2) scale(1 1.03)">0</text>
<text transform="translate(1332.5 2120.2) scale(1 1.03)">0.5</text>
<text transform="translate(1408.5 2120.2) scale(1 1.03)">1</text>
<text transform="translate(1484.5 2120.2) scale(1 1.03)">1.5</text>
<text transform="translate(1560.5 2120.2) scale(1 1.03)">2</text>
<text transform="translate(1636.5 2120.2) scale(1 1.03)">2.5</text>
<text transform="translate(1712.5 2120.2) scale(1 1.03)">3</text>
</g>
<g font-size="20.5" text-anchor="end">
<text transform="translate(1247.5 2098.6) scale(1 1.03)">2.6</text>
<text transform="translate(1247.5 2014.52) scale(1 1.03)">2.7</text>
<text transform="translate(1247.5 1930.44) scale(1 1.03)">2.8</text>
<text transform="translate(1247.5 1846.36) scale(1 1.03)">2.9</text>
<text transform="translate(1247.5 1762.28) scale(1 1.03)">3</text>
<text transform="translate(1247.5 1678.2) scale(1 1.03)">3.1</text>
</g>
<text x="1664.4" y="2158.8" font-size="23.5" stroke="none">×</text>
<text x="1712.7" y="2155.4" font-size="20.3" text-anchor="end">10<tspan dy="-10.3" font-size="15.6">5</tspan></text>
<text transform="translate(1484 2150.6) scale(1 1.015)" font-size="22.5" text-anchor="middle">FEs</text>
<text transform="translate(1206.51 1880.2) rotate(-90) scale(1 1.015)" font-size="22.5" text-anchor="middle" letter-spacing="0.2">log(Average best-so-far)</text>
</g>
<text transform="translate(1484.7 1660.8) scale(1 1.0)" font-size="22.6" fill="#000" stroke="#000" stroke-width="0.4" text-anchor="middle">F22</text>
<g fill="none">
<g stroke="#000000">
<polyline points="1261.18,1713.67 1302.6,1979.33 1325.4,1988.67 1348.2,1998 1371,2002.33 1393.8,2008.67 1416.6,2014.67 1439.4,2016 1462.2,2026.67 1485,2027.33 1507.8,2028 1530.6,2028 1553.4,2032.67 1576.2,2039 1599,2040.67 1621.8,2051 1644.6,2062 1667.4,2062.33 1690.2,2062.67 1713,2062.67" stroke-width="2.2" stroke-linejoin="round"/>
<path d="M1256.18 1708.67h10v10h-10zM1297.6 1974.33h10v10h-10zM1320.4 1983.67h10v10h-10zM1343.2 1993h10v10h-10zM1366 1997.33h10v10h-10zM1388.8 2003.67h10v10h-10zM1411.6 2009.67h10v10h-10zM1434.4 2011h10v10h-10zM1457.2 2021.67h10v10h-10zM1480 2022.33h10v10h-10zM1502.8 2023h10v10h-10zM1525.6 2023h10v10h-10zM1548.4 2027.67h10v10h-10zM1571.2 2034h10v10h-10zM1594 2035.67h10v10h-10zM1616.8 2046h10v10h-10zM1639.6 2057h10v10h-10zM1662.4 2057.33h10v10h-10zM1685.2 2057.67h10v10h-10zM1708 2057.67h10v10h-10z" stroke-width="2.15"/>
</g>
<g stroke="#ff00ff">
<polyline points="1261.18,1756.33 1302.6,1847 1325.4,1860.33 1348.2,1863 1371,1863 1393.8,1864.33 1416.6,1867.67 1439.4,1870.33 1462.2,1875.33 1485,1886.33 1507.8,1888.67 1530.6,1893 1553.4,1893.33 1576.2,1894.67 1599,1903 1621.8,1906.33 1644.6,1911.67 1667.4,1926.33 1690.2,1941 1713,2009.33" stroke-width="2.2" stroke-linejoin="round"/>
<path d="M1261.18 1749.53L1262.71 1754.23L1267.65 1754.23L1263.65 1757.14L1265.18 1761.83L1261.18 1758.93L1257.18 1761.83L1258.71 1757.14L1254.71 1754.23L1259.65 1754.23zM1302.6 1840.2L1304.13 1844.9L1309.07 1844.9L1305.07 1847.8L1306.6 1852.5L1302.6 1849.6L1298.6 1852.5L1300.13 1847.8L1296.13 1844.9L1301.07 1844.9zM1325.4 1853.53L1326.93 1858.23L1331.87 1858.23L1327.87 1861.14L1329.4 1865.83L1325.4 1862.93L1321.4 1865.83L1322.93 1861.14L1318.93 1858.23L1323.87 1858.23zM1348.2 1856.2L1349.73 1860.9L1354.67 1860.9L1350.67 1863.8L1352.2 1868.5L1348.2 1865.6L1344.2 1868.5L1345.73 1863.8L1341.73 1860.9L1346.67 1860.9zM1371 1856.2L1372.53 1860.9L1377.47 1860.9L1373.47 1863.8L1375 1868.5L1371 1865.6L1367 1868.5L1368.53 1863.8L1364.53 1860.9L1369.47 1860.9zM1393.8 1857.53L1395.33 1862.23L1400.27 1862.23L1396.27 1865.14L1397.8 1869.83L1393.8 1866.93L1389.8 1869.83L1391.33 1865.14L1387.33 1862.23L1392.27 1862.23zM1416.6 1860.87L1418.13 1865.57L1423.07 1865.57L1419.07 1868.47L1420.6 1873.17L1416.6 1870.26L1412.6 1873.17L1414.13 1868.47L1410.13 1865.57L1415.07 1865.57zM1439.4 1863.53L1440.93 1868.23L1445.87 1868.23L1441.87 1871.14L1443.4 1875.83L1439.4 1872.93L1435.4 1875.83L1436.93 1871.14L1432.93 1868.23L1437.87 1868.23zM1462.2 1868.53L1463.73 1873.23L1468.67 1873.23L1464.67 1876.14L1466.2 1880.83L1462.2 1877.93L1458.2 1880.83L1459.73 1876.14L1455.73 1873.23L1460.67 1873.23zM1485 1879.53L1486.53 1884.23L1491.47 1884.23L1487.47 1887.14L1489 1891.83L1485 1888.93L1481 1891.83L1482.53 1887.14L1478.53 1884.23L1483.47 1884.23zM1507.8 1881.87L1509.33 1886.57L1514.27 1886.57L1510.27 1889.47L1511.8 1894.17L1507.8 1891.26L1503.8 1894.17L1505.33 1889.47L1501.33 1886.57L1506.27 1886.57zM1530.6 1886.2L1532.13 1890.9L1537.07 1890.9L1533.07 1893.8L1534.6 1898.5L1530.6 1895.6L1526.6 1898.5L1528.13 1893.8L1524.13 1890.9L1529.07 1890.9zM1553.4 1886.53L1554.93 1891.23L1559.87 1891.23L1555.87 1894.14L1557.4 1898.83L1553.4 1895.93L1549.4 1898.83L1550.93 1894.14L1546.93 1891.23L1551.87 1891.23zM1576.2 1887.87L1577.73 1892.57L1582.67 1892.57L1578.67 1895.47L1580.2 1900.17L1576.2 1897.26L1572.2 1900.17L1573.73 1895.47L1569.73 1892.57L1574.67 1892.57zM1599 1896.2L1600.53 1900.9L1605.47 1900.9L1601.47 1903.8L1603 1908.5L1599 1905.6L1595 1908.5L1596.53 1903.8L1592.53 1900.9L1597.47 1900.9zM1621.8 1899.53L1623.33 1904.23L1628.27 1904.23L1624.27 1907.14L1625.8 1911.83L1621.8 1908.93L1617.8 1911.83L1619.33 1907.14L1615.33 1904.23L1620.27 1904.23zM1644.6 1904.87L1646.13 1909.57L1651.07 1909.57L1647.07 1912.47L1648.6 1917.17L1644.6 1914.26L1640.6 1917.17L1642.13 1912.47L1638.13 1909.57L1643.07 1909.57zM1667.4 1919.53L1668.93 1924.23L1673.87 1924.23L1669.87 1927.14L1671.4 1931.83L1667.4 1928.93L1663.4 1931.83L1664.93 1927.14L1660.93 1924.23L1665.87 1924.23zM1690.2 1934.2L1691.73 1938.9L1696.67 1938.9L1692.67 1941.8L1694.2 1946.5L1690.2 1943.6L1686.2 1946.5L1687.73 1941.8L1683.73 1938.9L1688.67 1938.9zM1713 2002.53L1714.53 2007.23L1719.47 2007.23L1715.47 2010.14L1717 2014.83L1713 2011.93L1709 2014.83L1710.53 2010.14L1706.53 2007.23L1711.47 2007.23z" stroke-width="2.15" fill="#ff00ff" fill-opacity="0.5"/>
</g>
<g stroke="#00ff00">
<polyline points="1261.18,1771 1302.6,1810.33 1325.4,1817 1348.2,1817 1371,1817 1393.8,1817 1416.6,1832.67 1439.4,1835.33 1462.2,1835.33 1485,1835.33 1507.8,1835.33 1530.6,1835.33 1553.4,1835.33 1576.2,1835.33 1599,1846 1621.8,1847 1644.6,1847 1667.4,1847 1690.2,1847 1713,1847" stroke-width="2.2" stroke-linejoin="round"/>
<path d="M1261.18 1762.8L1267.58 1771L1261.18 1779.2L1254.78 1771zM1302.6 1802.13L1309 1810.33L1302.6 1818.53L1296.2 1810.33zM1325.4 1808.8L1331.8 1817L1325.4 1825.2L1319 1817zM1348.2 1808.8L1354.6 1817L1348.2 1825.2L1341.8 1817zM1371 1808.8L1377.4 1817L1371 1825.2L1364.6 1817zM1393.8 1808.8L1400.2 1817L1393.8 1825.2L1387.4 1817zM1416.6 1824.47L1423 1832.67L1416.6 1840.87L1410.2 1832.67zM1439.4 1827.13L1445.8 1835.33L1439.4 1843.53L1433 1835.33zM1462.2 1827.13L1468.6 1835.33L1462.2 1843.53L1455.8 1835.33zM1485 1827.13L1491.4 1835.33L1485 1843.53L1478.6 1835.33zM1507.8 1827.13L1514.2 1835.33L1507.8 1843.53L1501.4 1835.33zM1530.6 1827.13L1537 1835.33L1530.6 1843.53L1524.2 1835.33zM1553.4 1827.13L1559.8 1835.33L1553.4 1843.53L1547 1835.33zM1576.2 1827.13L1582.6 1835.33L1576.2 1843.53L1569.8 1835.33zM1599 1837.8L1605.4 1846L1599 1854.2L1592.6 1846zM1621.8 1838.8L1628.2 1847L1621.8 1855.2L1615.4 1847zM1644.6 1838.8L1651 1847L1644.6 1855.2L1638.2 1847zM1667.4 1838.8L1673.8 1847L1667.4 1855.2L1661 1847zM1690.2 1838.8L1696.6 1847L1690.2 1855.2L1683.8 1847zM1713 1838.8L1719.4 1847L1713 1855.2L1706.6 1847z" stroke-width="2.15"/>
</g>
<g stroke="#ff0000">
<polyline points="1261.18,1726.33 1302.6,1866.67 1325.4,1890.33 1348.2,1902.67 1371,1909.67 1393.8,1911.33 1416.6,1912 1439.4,1913.67 1462.2,1922.67 1485,1927.67 1507.8,1928.33 1530.6,1930.33 1553.4,1931.67 1576.2,1932.67 1599,1935.33 1621.8,1936.33 1644.6,1937.67 1667.4,1939.33 1690.2,1942.67 1713,1946" stroke-width="2.2" stroke-linejoin="round"/>
<path d="M1261.18 1719.73L1263.09 1723.03L1266.9 1723.03L1264.99 1726.33L1266.9 1729.63L1263.09 1729.63L1261.18 1732.93L1259.27 1729.63L1255.46 1729.63L1257.37 1726.33L1255.46 1723.03L1259.27 1723.03zM1302.6 1860.07L1304.51 1863.37L1308.32 1863.37L1306.41 1866.67L1308.32 1869.97L1304.51 1869.97L1302.6 1873.27L1300.69 1869.97L1296.88 1869.97L1298.79 1866.67L1296.88 1863.37L1300.69 1863.37zM1325.4 1883.73L1327.31 1887.03L1331.12 1887.03L1329.21 1890.33L1331.12 1893.63L1327.31 1893.63L1325.4 1896.93L1323.49 1893.63L1319.68 1893.63L1321.59 1890.33L1319.68 1887.03L1323.49 1887.03zM1348.2 1896.07L1350.11 1899.37L1353.92 1899.37L1352.01 1902.67L1353.92 1905.97L1350.11 1905.97L1348.2 1909.27L1346.29 1905.97L1342.48 1905.97L1344.39 1902.67L1342.48 1899.37L1346.29 1899.37zM1371 1903.07L1372.91 1906.37L1376.72 1906.37L1374.81 1909.67L1376.72 1912.97L1372.91 1912.97L1371 1916.27L1369.09 1912.97L1365.28 1912.97L1367.19 1909.67L1365.28 1906.37L1369.09 1906.37zM1393.8 1904.73L1395.71 1908.03L1399.52 1908.03L1397.61 1911.33L1399.52 1914.63L1395.71 1914.63L1393.8 1917.93L1391.89 1914.63L1388.08 1914.63L1389.99 1911.33L1388.08 1908.03L1391.89 1908.03zM1416.6 1905.4L1418.51 1908.7L1422.32 1908.7L1420.41 1912L1422.32 1915.3L1418.51 1915.3L1416.6 1918.6L1414.69 1915.3L1410.88 1915.3L1412.79 1912L1410.88 1908.7L1414.69 1908.7zM1439.4 1907.07L1441.31 1910.37L1445.12 1910.37L1443.21 1913.67L1445.12 1916.97L1441.31 1916.97L1439.4 1920.27L1437.49 1916.97L1433.68 1916.97L1435.59 1913.67L1433.68 1910.37L1437.49 1910.37zM1462.2 1916.07L1464.11 1919.37L1467.92 1919.37L1466.01 1922.67L1467.92 1925.97L1464.11 1925.97L1462.2 1929.27L1460.29 1925.97L1456.48 1925.97L1458.39 1922.67L1456.48 1919.37L1460.29 1919.37zM1485 1921.07L1486.91 1924.37L1490.72 1924.37L1488.81 1927.67L1490.72 1930.97L1486.91 1930.97L1485 1934.27L1483.09 1930.97L1479.28 1930.97L1481.19 1927.67L1479.28 1924.37L1483.09 1924.37zM1507.8 1921.73L1509.71 1925.03L1513.52 1925.03L1511.61 1928.33L1513.52 1931.63L1509.71 1931.63L1507.8 1934.93L1505.89 1931.63L1502.08 1931.63L1503.99 1928.33L1502.08 1925.03L1505.89 1925.03zM1530.6 1923.73L1532.51 1927.03L1536.32 1927.03L1534.41 1930.33L1536.32 1933.63L1532.51 1933.63L1530.6 1936.93L1528.69 1933.63L1524.88 1933.63L1526.79 1930.33L1524.88 1927.03L1528.69 1927.03zM1553.4 1925.07L1555.31 1928.37L1559.12 1928.37L1557.21 1931.67L1559.12 1934.97L1555.31 1934.97L1553.4 1938.27L1551.49 1934.97L1547.68 1934.97L1549.59 1931.67L1547.68 1928.37L1551.49 1928.37zM1576.2 1926.07L1578.11 1929.37L1581.92 1929.37L1580.01 1932.67L1581.92 1935.97L1578.11 1935.97L1576.2 1939.27L1574.29 1935.97L1570.48 1935.97L1572.39 1932.67L1570.48 1929.37L1574.29 1929.37zM1599 1928.73L1600.91 1932.03L1604.72 1932.03L1602.81 1935.33L1604.72 1938.63L1600.91 1938.63L1599 1941.93L1597.09 1938.63L1593.28 1938.63L1595.19 1935.33L1593.28 1932.03L1597.09 1932.03zM1621.8 1929.73L1623.71 1933.03L1627.52 1933.03L1625.61 1936.33L1627.52 1939.63L1623.71 1939.63L1621.8 1942.93L1619.89 1939.63L1616.08 1939.63L1617.99 1936.33L1616.08 1933.03L1619.89 1933.03zM1644.6 1931.07L1646.51 1934.37L1650.32 1934.37L1648.41 1937.67L1650.32 1940.97L1646.51 1940.97L1644.6 1944.27L1642.69 1940.97L1638.88 1940.97L1640.79 1937.67L1638.88 1934.37L1642.69 1934.37zM1667.4 1932.73L1669.31 1936.03L1673.12 1936.03L1671.21 1939.33L1673.12 1942.63L1669.31 1942.63L1667.4 1945.93L1665.49 1942.63L1661.68 1942.63L1663.59 1939.33L1661.68 1936.03L1665.49 1936.03zM1690.2 1936.07L1692.11 1939.37L1695.92 1939.37L1694.01 1942.67L1695.92 1945.97L1692.11 1945.97L1690.2 1949.27L1688.29 1945.97L1684.48 1945.97L1686.39 1942.67L1684.48 1939.37L1688.29 1939.37zM1713 1939.4L1714.91 1942.7L1718.72 1942.7L1716.81 1946L1718.72 1949.3L1714.91 1949.3L1713 1952.6L1711.09 1949.3L1707.28 1949.3L1709.19 1946L1707.28 1942.7L1711.09 1942.7z" stroke-width="2.35"/>
</g>
<g stroke="#0000ff">
<polyline points="1261.18,1823 1302.6,1883.67 1325.4,1884.33 1348.2,1889.33 1371,1890.33 1393.8,1890.33 1416.6,1890.33 1439.4,1890.33 1462.2,1897.33 1485,1906.33 1507.8,1907 1530.6,1909.33 1553.4,1915.33 1576.2,1922.67 1599,1925.67 1621.8,1937.67 1644.6,1949.33 1667.4,1956.67 1690.2,1966.33 1713,1971.33" stroke-width="2.2" stroke-linejoin="round"/>
<path d="M1254.98 1823a6.2 6.2 0 1 0 12.4 0a6.2 6.2 0 1 0 -12.4 0zM1296.4 1883.67a6.2 6.2 0 1 0 12.4 0a6.2 6.2 0 1 0 -12.4 0zM1319.2 1884.33a6.2 6.2 0 1 0 12.4 0a6.2 6.2 0 1 0 -12.4 0zM1342 1889.33a6.2 6.2 0 1 0 12.4 0a6.2 6.2 0 1 0 -12.4 0zM1364.8 1890.33a6.2 6.2 0 1 0 12.4 0a6.2 6.2 0 1 0 -12.4 0zM1387.6 1890.33a6.2 6.2 0 1 0 12.4 0a6.2 6.2 0 1 0 -12.4 0zM1410.4 1890.33a6.2 6.2 0 1 0 12.4 0a6.2 6.2 0 1 0 -12.4 0zM1433.2 1890.33a6.2 6.2 0 1 0 12.4 0a6.2 6.2 0 1 0 -12.4 0zM1456 1897.33a6.2 6.2 0 1 0 12.4 0a6.2 6.2 0 1 0 -12.4 0zM1478.8 1906.33a6.2 6.2 0 1 0 12.4 0a6.2 6.2 0 1 0 -12.4 0zM1501.6 1907a6.2 6.2 0 1 0 12.4 0a6.2 6.2 0 1 0 -12.4 0zM1524.4 1909.33a6.2 6.2 0 1 0 12.4 0a6.2 6.2 0 1 0 -12.4 0zM1547.2 1915.33a6.2 6.2 0 1 0 12.4 0a6.2 6.2 0 1 0 -12.4 0zM1570 1922.67a6.2 6.2 0 1 0 12.4 0a6.2 6.2 0 1 0 -12.4 0zM1592.8 1925.67a6.2 6.2 0 1 0 12.4 0a6.2 6.2 0 1 0 -12.4 0zM1615.6 1937.67a6.2 6.2 0 1 0 12.4 0a6.2 6.2 0 1 0 -12.4 0zM1638.4 1949.33a6.2 6.2 0 1 0 12.4 0a6.2 6.2 0 1 0 -12.4 0zM1661.2 1956.67a6.2 6.2 0 1 0 12.4 0a6.2 6.2 0 1 0 -12.4 0zM1684 1966.33a6.2 6.2 0 1 0 12.4 0a6.2 6.2 0 1 0 -12.4 0zM1706.8 1971.33a6.2 6.2 0 1 0 12.4 0a6.2 6.2 0 1 0 -12.4 0z" stroke-width="2.15"/>
</g>
<g stroke="#00ffff">
<polyline points="1261.18,1761.67 1302.6,1830.33 1325.4,1840 1348.2,1852 1371,1853.33 1393.8,1865.33 1416.6,1866 1439.4,1867.67 1462.2,1868.67 1485,1872.67 1507.8,1878.33 1530.6,1881.33 1553.4,1883.33 1576.2,1884.33 1599,1892.33 1621.8,1894 1644.6,1898.67 1667.4,1905.33 1690.2,1912.67 1713,1947.67" stroke-width="2.2" stroke-linejoin="round"/>
<path d="M1261.18 1755.77v11.8M1255.28 1761.67h11.8M1257.01 1757.49l8.34 8.34M1257.01 1765.84l8.34 -8.34M1302.6 1824.43v11.8M1296.7 1830.33h11.8M1298.43 1826.16l8.34 8.34M1298.43 1834.51l8.34 -8.34M1325.4 1834.1v11.8M1319.5 1840h11.8M1321.23 1835.83l8.34 8.34M1321.23 1844.17l8.34 -8.34M1348.2 1846.1v11.8M1342.3 1852h11.8M1344.03 1847.83l8.34 8.34M1344.03 1856.17l8.34 -8.34M1371 1847.43v11.8M1365.1 1853.33h11.8M1366.83 1849.16l8.34 8.34M1366.83 1857.51l8.34 -8.34M1393.8 1859.43v11.8M1387.9 1865.33h11.8M1389.63 1861.16l8.34 8.34M1389.63 1869.51l8.34 -8.34M1416.6 1860.1v11.8M1410.7 1866h11.8M1412.43 1861.83l8.34 8.34M1412.43 1870.17l8.34 -8.34M1439.4 1861.77v11.8M1433.5 1867.67h11.8M1435.23 1863.49l8.34 8.34M1435.23 1871.84l8.34 -8.34M1462.2 1862.77v11.8M1456.3 1868.67h11.8M1458.03 1864.49l8.34 8.34M1458.03 1872.84l8.34 -8.34M1485 1866.77v11.8M1479.1 1872.67h11.8M1480.83 1868.49l8.34 8.34M1480.83 1876.84l8.34 -8.34M1507.8 1872.43v11.8M1501.9 1878.33h11.8M1503.63 1874.16l8.34 8.34M1503.63 1882.51l8.34 -8.34M1530.6 1875.43v11.8M1524.7 1881.33h11.8M1526.43 1877.16l8.34 8.34M1526.43 1885.51l8.34 -8.34M1553.4 1877.43v11.8M1547.5 1883.33h11.8M1549.23 1879.16l8.34 8.34M1549.23 1887.51l8.34 -8.34M1576.2 1878.43v11.8M1570.3 1884.33h11.8M1572.03 1880.16l8.34 8.34M1572.03 1888.51l8.34 -8.34M1599 1886.43v11.8M1593.1 1892.33h11.8M1594.83 1888.16l8.34 8.34M1594.83 1896.51l8.34 -8.34M1621.8 1888.1v11.8M1615.9 1894h11.8M1617.63 1889.83l8.34 8.34M1617.63 1898.17l8.34 -8.34M1644.6 1892.77v11.8M1638.7 1898.67h11.8M1640.43 1894.49l8.34 8.34M1640.43 1902.84l8.34 -8.34M1667.4 1899.43v11.8M1661.5 1905.33h11.8M1663.23 1901.16l8.34 8.34M1663.23 1909.51l8.34 -8.34M1690.2 1906.77v11.8M1684.3 1912.67h11.8M1686.03 1908.49l8.34 8.34M1686.03 1916.84l8.34 -8.34M1713 1941.77v11.8M1707.1 1947.67h11.8M1708.83 1943.49l8.34 8.34M1708.83 1951.84l8.34 -8.34" stroke-width="2.4"/>
</g>
</g>
<rect x="1562.1" y="1676.2" width="140.3" height="141.2" fill="#fff" stroke="#262626" stroke-width="2.0"/>
<g font-size="16.3" fill="#000" stroke="#000" stroke-width="0.4" letter-spacing="0.25">
<g stroke="#000000" fill="none"><path d="M1568.6 1690.2H1630.3" stroke-width="2.2"/><path d="M1594.35 1685.2h10v10h-10z" stroke-width="2.15"/></g>
<text x="1634.8" y="1696.8">MSDBO</text>
<g stroke="#ff00ff" fill="none"><path d="M1568.6 1712.86H1630.3" stroke-width="2.2"/><path d="M1599.35 1706.06L1600.88 1710.76L1605.82 1710.76L1601.82 1713.66L1603.35 1718.36L1599.35 1715.46L1595.35 1718.36L1596.88 1713.66L1592.88 1710.76L1597.82 1710.76z" stroke-width="2.15" fill="#ff00ff" fill-opacity="0.5"/></g>
<text x="1634.8" y="1719.46">DBO</text>
<g stroke="#00ff00" fill="none"><path d="M1568.6 1735.52H1630.3" stroke-width="2.2"/><path d="M1599.35 1727.32L1605.75 1735.52L1599.35 1743.72L1592.95 1735.52z" stroke-width="2.15"/></g>
<text x="1634.8" y="1742.12">IDBO</text>
<g stroke="#ff0000" fill="none"><path d="M1568.6 1758.18H1630.3" stroke-width="2.2"/><path d="M1599.35 1751.58L1601.26 1754.88L1605.07 1754.88L1603.16 1758.18L1605.07 1761.48L1601.26 1761.48L1599.35 1764.78L1597.44 1761.48L1593.63 1761.48L1595.54 1758.18L1593.63 1754.88L1597.44 1754.88z" stroke-width="2.35"/></g>
<text x="1634.8" y="1764.78">QHDBO</text>
<g stroke="#0000ff" fill="none"><path d="M1568.6 1780.84H1630.3" stroke-width="2.2"/><path d="M1593.15 1780.84a6.2 6.2 0 1 0 12.4 0a6.2 6.2 0 1 0 -12.4 0z" stroke-width="2.15"/></g>
<text x="1634.8" y="1787.44">MDBO</text>
<g stroke="#00ffff" fill="none"><path d="M1568.6 1803.5H1630.3" stroke-width="2.2"/><path d="M1599.35 1797.6v11.8M1593.45 1803.5h11.8M1595.18 1799.33l8.34 8.34M1595.18 1807.67l8.34 -8.34" stroke-width="2.4"/></g>
<text x="1634.8" y="1810.1">EDBO</text>
</g>
</g>
</svg>
</body>
</html>
